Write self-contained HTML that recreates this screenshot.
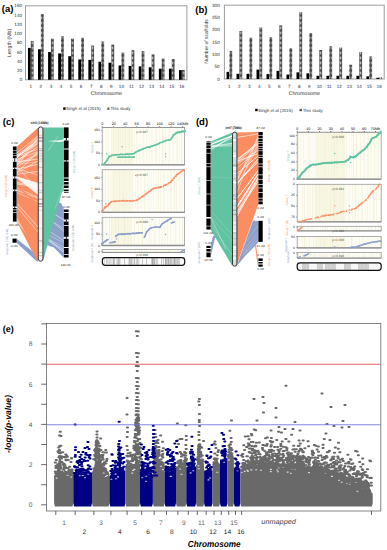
<!DOCTYPE html>
<html><head><meta charset="utf-8"><style>
html,body{margin:0;padding:0;background:#fff;width:387px;height:550px;overflow:hidden}
svg{display:block}
text{font-family:"Liberation Sans", sans-serif;text-rendering:geometricPrecision}
</style></head><body>
<svg width="387" height="550" viewBox="0 0 387 550">
<defs>
<pattern id="pat" patternUnits="userSpaceOnUse" width="2.85" height="5" x="0" y="0.6">
<rect width="2.85" height="5" fill="#484848"/>
<rect x="0.7" y="1.0" width="1.45" height="2.7" rx="0.6" fill="#cacaca"/>
</pattern>
</defs>
<rect width="387" height="550" fill="#fff"/>
<text x="7.6" y="9.2" font-size="9.5" fill="#000" text-anchor="middle" dominant-baseline="central" font-weight="bold">(a)</text>
<rect x="25.5" y="5.8" width="161.4" height="74" fill="none" stroke="#9c9c9c" stroke-width="1"/>
<rect x="27.95" y="47.89" width="2.85" height="31.91" fill="#000"/>
<rect x="30.8" y="40.95" width="2.85" height="38.85" fill="url(#pat)"/>
<text x="30.8" y="86.8" font-size="4.6" fill="#333" text-anchor="middle" dominant-baseline="central">1</text>
<rect x="38.02" y="49.27" width="2.85" height="30.53" fill="#000"/>
<rect x="40.87" y="14.12" width="2.85" height="65.67" fill="url(#pat)"/>
<text x="40.87" y="86.8" font-size="4.6" fill="#333" text-anchor="middle" dominant-baseline="central">2</text>
<rect x="48.09" y="52.05" width="2.85" height="27.75" fill="#000"/>
<rect x="50.94" y="38.64" width="2.85" height="41.16" fill="url(#pat)"/>
<text x="50.94" y="86.8" font-size="4.6" fill="#333" text-anchor="middle" dominant-baseline="central">3</text>
<rect x="58.16" y="53.44" width="2.85" height="26.36" fill="#000"/>
<rect x="61.01" y="36.32" width="2.85" height="43.48" fill="url(#pat)"/>
<text x="61.01" y="86.8" font-size="4.6" fill="#333" text-anchor="middle" dominant-baseline="central">4</text>
<rect x="68.23" y="56.21" width="2.85" height="23.59" fill="#000"/>
<rect x="71.08" y="38.64" width="2.85" height="41.16" fill="url(#pat)"/>
<text x="71.08" y="86.8" font-size="4.6" fill="#333" text-anchor="middle" dominant-baseline="central">5</text>
<rect x="78.3" y="59.45" width="2.85" height="20.35" fill="#000"/>
<rect x="81.15" y="37.71" width="2.85" height="42.09" fill="url(#pat)"/>
<text x="81.15" y="86.8" font-size="4.6" fill="#333" text-anchor="middle" dominant-baseline="central">6</text>
<rect x="88.37" y="59.91" width="2.85" height="19.89" fill="#000"/>
<rect x="91.22" y="45.57" width="2.85" height="34.23" fill="url(#pat)"/>
<text x="91.22" y="86.8" font-size="4.6" fill="#333" text-anchor="middle" dominant-baseline="central">7</text>
<rect x="98.44" y="61.76" width="2.85" height="18.04" fill="#000"/>
<rect x="101.29" y="41.41" width="2.85" height="38.39" fill="url(#pat)"/>
<text x="101.29" y="86.8" font-size="4.6" fill="#333" text-anchor="middle" dominant-baseline="central">8</text>
<rect x="108.51" y="62.69" width="2.85" height="17.11" fill="#000"/>
<rect x="111.36" y="44.65" width="2.85" height="35.15" fill="url(#pat)"/>
<text x="111.36" y="86.8" font-size="4.6" fill="#333" text-anchor="middle" dominant-baseline="central">9</text>
<rect x="118.58" y="65.46" width="2.85" height="14.34" fill="#000"/>
<rect x="121.43" y="52.51" width="2.85" height="27.29" fill="url(#pat)"/>
<text x="121.43" y="86.8" font-size="4.6" fill="#333" text-anchor="middle" dominant-baseline="central">10</text>
<rect x="128.65" y="65.92" width="2.85" height="13.88" fill="#000"/>
<rect x="131.5" y="50.2" width="2.85" height="29.6" fill="url(#pat)"/>
<text x="131.5" y="86.8" font-size="4.6" fill="#333" text-anchor="middle" dominant-baseline="central">11</text>
<rect x="138.72" y="66.39" width="2.85" height="13.41" fill="#000"/>
<rect x="141.57" y="51.12" width="2.85" height="28.67" fill="url(#pat)"/>
<text x="141.57" y="86.8" font-size="4.6" fill="#333" text-anchor="middle" dominant-baseline="central">12</text>
<rect x="148.79" y="67.31" width="2.85" height="12.49" fill="#000"/>
<rect x="151.64" y="54.36" width="2.85" height="25.44" fill="url(#pat)"/>
<text x="151.64" y="86.8" font-size="4.6" fill="#333" text-anchor="middle" dominant-baseline="central">13</text>
<rect x="158.86" y="68.7" width="2.85" height="11.1" fill="#000"/>
<rect x="161.71" y="58.52" width="2.85" height="21.28" fill="url(#pat)"/>
<text x="161.71" y="86.8" font-size="4.6" fill="#333" text-anchor="middle" dominant-baseline="central">14</text>
<rect x="168.93" y="68.7" width="2.85" height="11.1" fill="#000"/>
<rect x="171.78" y="58.99" width="2.85" height="20.81" fill="url(#pat)"/>
<text x="171.78" y="86.8" font-size="4.6" fill="#333" text-anchor="middle" dominant-baseline="central">15</text>
<rect x="179" y="70.09" width="2.85" height="9.71" fill="#000"/>
<rect x="181.85" y="70.09" width="2.85" height="9.71" fill="url(#pat)"/>
<text x="181.85" y="86.8" font-size="4.6" fill="#333" text-anchor="middle" dominant-baseline="central">16</text>
<text x="22" y="79.8" font-size="4.6" fill="#333" text-anchor="end" dominant-baseline="central">0</text>
<text x="22" y="70.55" font-size="4.6" fill="#333" text-anchor="end" dominant-baseline="central">20</text>
<text x="22" y="61.3" font-size="4.6" fill="#333" text-anchor="end" dominant-baseline="central">40</text>
<text x="22" y="52.05" font-size="4.6" fill="#333" text-anchor="end" dominant-baseline="central">60</text>
<text x="22" y="42.8" font-size="4.6" fill="#333" text-anchor="end" dominant-baseline="central">80</text>
<text x="22" y="33.55" font-size="4.6" fill="#333" text-anchor="end" dominant-baseline="central">100</text>
<text x="22" y="24.3" font-size="4.6" fill="#333" text-anchor="end" dominant-baseline="central">120</text>
<text x="22" y="15.05" font-size="4.6" fill="#333" text-anchor="end" dominant-baseline="central">140</text>
<text x="22" y="5.8" font-size="4.6" fill="#333" text-anchor="end" dominant-baseline="central">160</text>
<text x="9.6" y="43" font-size="5.3" fill="#333" text-anchor="middle" dominant-baseline="central" transform="rotate(-90 9.6 43)">Length (Mb)</text>
<text x="106.4" y="94.4" font-size="5.2" fill="#333" text-anchor="middle" dominant-baseline="central">Chromosome</text>
<rect x="63.2" y="107.4" width="2.4" height="2.4" fill="#000"/>
<text x="66" y="108.6" font-size="4.4" fill="#333" text-anchor="start" dominant-baseline="central">Singh et al (2015)</text>
<rect x="107.2" y="107.4" width="2.4" height="2.4" fill="url(#pat)"/>
<text x="110.4" y="108.6" font-size="4.4" fill="#333" text-anchor="start" dominant-baseline="central">This study</text>
<text x="201.4" y="10.6" font-size="9.5" fill="#000" text-anchor="middle" dominant-baseline="central" font-weight="bold">(b)</text>
<rect x="224.4" y="5.2" width="159.8" height="73.8" fill="none" stroke="#9c9c9c" stroke-width="1"/>
<rect x="226.55" y="71.87" width="2.85" height="7.13" fill="#000"/>
<rect x="229.4" y="50.96" width="2.85" height="28.04" fill="url(#pat)"/>
<text x="229.4" y="86" font-size="4.6" fill="#333" text-anchor="middle" dominant-baseline="central">1</text>
<rect x="236.54" y="73.83" width="2.85" height="5.17" fill="#000"/>
<rect x="239.39" y="31.03" width="2.85" height="47.97" fill="url(#pat)"/>
<text x="239.39" y="86" font-size="4.6" fill="#333" text-anchor="middle" dominant-baseline="central">2</text>
<rect x="246.53" y="73.83" width="2.85" height="5.17" fill="#000"/>
<rect x="249.38" y="37.67" width="2.85" height="41.33" fill="url(#pat)"/>
<text x="249.38" y="86" font-size="4.6" fill="#333" text-anchor="middle" dominant-baseline="central">3</text>
<rect x="256.52" y="69.65" width="2.85" height="9.35" fill="#000"/>
<rect x="259.37" y="27.34" width="2.85" height="51.66" fill="url(#pat)"/>
<text x="259.37" y="86" font-size="4.6" fill="#333" text-anchor="middle" dominant-baseline="central">4</text>
<rect x="266.51" y="74.08" width="2.85" height="4.92" fill="#000"/>
<rect x="269.36" y="37.18" width="2.85" height="41.82" fill="url(#pat)"/>
<text x="269.36" y="86" font-size="4.6" fill="#333" text-anchor="middle" dominant-baseline="central">5</text>
<rect x="276.5" y="70.88" width="2.85" height="8.12" fill="#000"/>
<rect x="279.35" y="25.37" width="2.85" height="53.63" fill="url(#pat)"/>
<text x="279.35" y="86" font-size="4.6" fill="#333" text-anchor="middle" dominant-baseline="central">6</text>
<rect x="286.49" y="74.57" width="2.85" height="4.43" fill="#000"/>
<rect x="289.34" y="48.25" width="2.85" height="30.75" fill="url(#pat)"/>
<text x="289.34" y="86" font-size="4.6" fill="#333" text-anchor="middle" dominant-baseline="central">7</text>
<rect x="296.48" y="72.36" width="2.85" height="6.64" fill="#000"/>
<rect x="299.33" y="12.09" width="2.85" height="66.91" fill="url(#pat)"/>
<text x="299.33" y="86" font-size="4.6" fill="#333" text-anchor="middle" dominant-baseline="central">8</text>
<rect x="306.47" y="73.34" width="2.85" height="5.66" fill="#000"/>
<rect x="309.32" y="33" width="2.85" height="46" fill="url(#pat)"/>
<text x="309.32" y="86" font-size="4.6" fill="#333" text-anchor="middle" dominant-baseline="central">9</text>
<rect x="316.46" y="75.8" width="2.85" height="3.2" fill="#000"/>
<rect x="319.31" y="49.97" width="2.85" height="29.03" fill="url(#pat)"/>
<text x="319.31" y="86" font-size="4.6" fill="#333" text-anchor="middle" dominant-baseline="central">10</text>
<rect x="326.45" y="75.8" width="2.85" height="3.2" fill="#000"/>
<rect x="329.3" y="46.28" width="2.85" height="32.72" fill="url(#pat)"/>
<text x="329.3" y="86" font-size="4.6" fill="#333" text-anchor="middle" dominant-baseline="central">11</text>
<rect x="336.44" y="75.8" width="2.85" height="3.2" fill="#000"/>
<rect x="339.29" y="47.51" width="2.85" height="31.49" fill="url(#pat)"/>
<text x="339.29" y="86" font-size="4.6" fill="#333" text-anchor="middle" dominant-baseline="central">12</text>
<rect x="346.43" y="75.8" width="2.85" height="3.2" fill="#000"/>
<rect x="349.28" y="64.73" width="2.85" height="14.27" fill="url(#pat)"/>
<text x="349.28" y="86" font-size="4.6" fill="#333" text-anchor="middle" dominant-baseline="central">13</text>
<rect x="356.42" y="75.8" width="2.85" height="3.2" fill="#000"/>
<rect x="359.27" y="51.94" width="2.85" height="27.06" fill="url(#pat)"/>
<text x="359.27" y="86" font-size="4.6" fill="#333" text-anchor="middle" dominant-baseline="central">14</text>
<rect x="366.41" y="76.29" width="2.85" height="2.71" fill="#000"/>
<rect x="369.26" y="56.37" width="2.85" height="22.63" fill="url(#pat)"/>
<text x="369.26" y="86" font-size="4.6" fill="#333" text-anchor="middle" dominant-baseline="central">15</text>
<rect x="376.4" y="77.77" width="2.85" height="1.23" fill="#000"/>
<rect x="379.25" y="77.28" width="2.85" height="1.72" fill="url(#pat)"/>
<text x="379.25" y="86" font-size="4.6" fill="#333" text-anchor="middle" dominant-baseline="central">16</text>
<text x="219.7" y="79" font-size="4.6" fill="#333" text-anchor="end" dominant-baseline="central">0</text>
<text x="219.7" y="66.7" font-size="4.6" fill="#333" text-anchor="end" dominant-baseline="central">50</text>
<text x="219.7" y="54.4" font-size="4.6" fill="#333" text-anchor="end" dominant-baseline="central">100</text>
<text x="219.7" y="42.1" font-size="4.6" fill="#333" text-anchor="end" dominant-baseline="central">150</text>
<text x="219.7" y="29.8" font-size="4.6" fill="#333" text-anchor="end" dominant-baseline="central">200</text>
<text x="219.7" y="17.5" font-size="4.6" fill="#333" text-anchor="end" dominant-baseline="central">250</text>
<text x="219.7" y="5.2" font-size="4.6" fill="#333" text-anchor="end" dominant-baseline="central">300</text>
<text x="206.5" y="41.5" font-size="5.0" fill="#333" text-anchor="middle" dominant-baseline="central" transform="rotate(-90 206.5 41.5)">Number of scaffolds</text>
<text x="304.3" y="93.5" font-size="5.2" fill="#333" text-anchor="middle" dominant-baseline="central">Chromosome</text>
<rect x="255.2" y="108.8" width="2.4" height="2.4" fill="#000"/>
<text x="258" y="110" font-size="4.4" fill="#333" text-anchor="start" dominant-baseline="central">Singh et al (2015)</text>
<rect x="299.5" y="108.8" width="2.4" height="2.4" fill="url(#pat)"/>
<text x="302.7" y="110" font-size="4.4" fill="#333" text-anchor="start" dominant-baseline="central">This study</text>
<text x="8.6" y="122.6" font-size="9.5" fill="#000" text-anchor="middle" dominant-baseline="central" font-weight="bold">(c)</text>
<text x="39.6" y="123.4" font-size="3.6" fill="#111" text-anchor="middle" dominant-baseline="central" font-weight="bold" textLength="17.5" lengthAdjust="spacingAndGlyphs">chr3 (140Mb)</text>
<polygon points="17,146.5 38.3,127.5 38.3,259.5 36.5,259.5 17,221.8" fill="#fc8d62"/>
<clipPath id="cp1"><polygon points="17,146.5 38.3,127.5 38.3,259.5 36.5,259.5 17,221.8"/></clipPath><g clip-path="url(#cp1)">
<line x1="17" y1="159.21" x2="38.3" y2="151.56" stroke="#fff" stroke-width="0.6" stroke-opacity="0.9"/>
<line x1="17" y1="182.45" x2="38.3" y2="186.4" stroke="#fff" stroke-width="0.67" stroke-opacity="0.9"/>
<line x1="17" y1="206.78" x2="38.3" y2="232.36" stroke="#fff" stroke-width="0.55" stroke-opacity="0.9"/>
<line x1="17" y1="164.47" x2="38.3" y2="152.49" stroke="#fff" stroke-width="0.5" stroke-opacity="0.9"/>
<line x1="17" y1="190.32" x2="38.3" y2="198.34" stroke="#fff" stroke-width="0.67" stroke-opacity="0.9"/>
<line x1="17" y1="164.19" x2="38.3" y2="154.75" stroke="#fff" stroke-width="0.37" stroke-opacity="0.9"/>
<line x1="17" y1="220.82" x2="38.3" y2="257" stroke="#fff" stroke-width="0.7" stroke-opacity="0.9"/>
<line x1="17" y1="192.58" x2="38.3" y2="201.86" stroke="#fff" stroke-width="0.48" stroke-opacity="0.9"/>
<line x1="17" y1="183.82" x2="38.3" y2="187.57" stroke="#fff" stroke-width="0.73" stroke-opacity="0.9"/>
<line x1="17" y1="174.27" x2="38.3" y2="171.39" stroke="#fff" stroke-width="0.68" stroke-opacity="0.9"/>
<line x1="17" y1="156.24" x2="38.3" y2="149.24" stroke="#fff" stroke-width="0.53" stroke-opacity="0.9"/>
<line x1="17" y1="187.85" x2="38.3" y2="197.32" stroke="#fff" stroke-width="0.54" stroke-opacity="0.9"/>
<line x1="17" y1="160.83" x2="38.3" y2="146.56" stroke="#fff" stroke-width="0.7" stroke-opacity="0.9"/>
<line x1="17" y1="164.38" x2="38.3" y2="161.66" stroke="#fff" stroke-width="0.43" stroke-opacity="0.9"/>
<line x1="17" y1="218.69" x2="38.3" y2="257" stroke="#fff" stroke-width="0.65" stroke-opacity="0.9"/>
<line x1="17" y1="203.45" x2="38.3" y2="227.37" stroke="#fff" stroke-width="0.64" stroke-opacity="0.9"/>
<line x1="17" y1="156.06" x2="38.3" y2="143.52" stroke="#fff" stroke-width="0.68" stroke-opacity="0.9"/>
<line x1="17" y1="161.88" x2="38.3" y2="159.02" stroke="#fff" stroke-width="0.71" stroke-opacity="0.9"/>
<line x1="17" y1="167.1" x2="38.3" y2="153.18" stroke="#fff" stroke-width="0.55"/>
<line x1="17" y1="166.86" x2="38.3" y2="189.7" stroke="#fff" stroke-width="0.52"/>
<line x1="17" y1="163.27" x2="38.3" y2="137.41" stroke="#fff" stroke-width="0.67"/>
<line x1="17" y1="172.93" x2="38.3" y2="160.77" stroke="#fff" stroke-width="0.57"/>
<line x1="17" y1="168.5" x2="38.3" y2="175.39" stroke="#fff" stroke-width="0.45"/>
<line x1="17" y1="169.09" x2="38.3" y2="164.28" stroke="#fff" stroke-width="0.63"/>
<line x1="17" y1="164.81" x2="38.3" y2="141.87" stroke="#fff" stroke-width="0.51"/>
<line x1="17" y1="172.27" x2="38.3" y2="152.1" stroke="#fff" stroke-width="0.62"/>
<line x1="17" y1="166.07" x2="38.3" y2="137.99" stroke="#fff" stroke-width="0.38"/>
<line x1="17" y1="156.14" x2="38.3" y2="142.21" stroke="#fff" stroke-width="0.48"/>
<line x1="17" y1="154.83" x2="38.3" y2="140.49" stroke="#fff" stroke-width="0.66"/>
<line x1="17" y1="157.58" x2="38.3" y2="135.92" stroke="#fff" stroke-width="0.7"/>
<line x1="17" y1="157.61" x2="38.3" y2="139.04" stroke="#fff" stroke-width="0.66"/>
<line x1="17" y1="152.91" x2="38.3" y2="135.38" stroke="#fff" stroke-width="0.44"/>
<polygon points="17,176.5 38.3,183 38.3,195 17,178.3" fill="#fff" fill-opacity="0.9"/>
<line x1="17" y1="186" x2="38.3" y2="205" stroke="#fc8d62" stroke-width="1.2"/>
</g>
<polygon points="16.5,238.8 31,250 37.5,256.5 38.3,259 37.5,262 16.5,242.8" fill="#8da0cb"/>
<polygon points="17,221.8 36.5,259.5 38.3,259.5 38.3,250" fill="#fc8d62"/>
<polygon points="42.9,196 61.5,203.5 64,209.5 64,258 59,252.8 53.6,247.3 48.9,246 42.9,244" fill="#8da0cb"/>
<clipPath id="cp2"><polygon points="42.9,196 61.5,203.5 64,209.5 64,258 59,252.8 53.6,247.3 48.9,246 42.9,244"/></clipPath><g clip-path="url(#cp2)">
<line x1="44" y1="238.29" x2="64" y2="249.43" stroke="#fff" stroke-width="0.32" stroke-opacity="0.9"/>
<line x1="44" y1="235.6" x2="64" y2="251.02" stroke="#fff" stroke-width="0.47" stroke-opacity="0.9"/>
<line x1="44" y1="236.81" x2="64" y2="247.17" stroke="#fff" stroke-width="0.39" stroke-opacity="0.9"/>
<line x1="44" y1="216.02" x2="64" y2="228.95" stroke="#fff" stroke-width="0.36" stroke-opacity="0.9"/>
<line x1="44" y1="207.64" x2="64" y2="220.01" stroke="#fff" stroke-width="0.61" stroke-opacity="0.9"/>
<line x1="44" y1="242.37" x2="64" y2="257.59" stroke="#fff" stroke-width="0.47" stroke-opacity="0.9"/>
<line x1="44" y1="214.58" x2="64" y2="231.3" stroke="#fff" stroke-width="0.48" stroke-opacity="0.9"/>
<line x1="44" y1="232.69" x2="64" y2="242.89" stroke="#fff" stroke-width="0.37" stroke-opacity="0.9"/>
<line x1="44" y1="236.85" x2="64" y2="252.42" stroke="#fff" stroke-width="0.61" stroke-opacity="0.9"/>
<line x1="44" y1="227.85" x2="64" y2="240.83" stroke="#fff" stroke-width="0.5" stroke-opacity="0.9"/>
</g>
<polygon points="42.9,127.5 64,127.4 64,191 62,192 43.5,259.5 42.5,261" fill="#60c3a1"/>
<line x1="48" y1="151" x2="58" y2="136" stroke="#fff" stroke-width="0.4" stroke-opacity="0.7"/>
<path d="M47,141 L60,140.3 L64,139.2 L64,141.2 L60,142 Z" fill="#fff" fill-opacity="0.9"/>
<line x1="55" y1="209" x2="63.5" y2="185" stroke="#fff" stroke-width="0.35" stroke-opacity="0.7"/>
<rect x="38.3" y="126.9" width="4.6" height="134.3" rx="2.3" ry="2.3" fill="#f4f4f4"/>
<rect x="38.6" y="135.27" width="4" height="0.54" fill="#b8b8b8"/>
<rect x="38.6" y="136.95" width="4" height="1.67" fill="#a8a8a8"/>
<rect x="38.6" y="140.05" width="4" height="0.99" fill="#b8b8b8"/>
<rect x="38.6" y="141.36" width="4" height="0.78" fill="#a8a8a8"/>
<rect x="38.6" y="142.65" width="4" height="1.54" fill="#ffffff"/>
<rect x="38.6" y="148.07" width="4" height="0.72" fill="#b8b8b8"/>
<rect x="38.6" y="149.78" width="4" height="1.38" fill="#b8b8b8"/>
<rect x="38.6" y="152.72" width="4" height="1.66" fill="#d8d8d8"/>
<rect x="38.6" y="155.22" width="4" height="1.72" fill="#d8d8d8"/>
<rect x="38.6" y="157.63" width="4" height="1.28" fill="#d8d8d8"/>
<rect x="38.6" y="159.3" width="4" height="0.96" fill="#d8d8d8"/>
<rect x="38.6" y="160.8" width="4" height="1.11" fill="#d8d8d8"/>
<rect x="38.6" y="166.71" width="4" height="1.25" fill="#c8c8c8"/>
<rect x="38.6" y="174.46" width="4" height="1.1" fill="#d8d8d8"/>
<rect x="38.6" y="182.33" width="4" height="0.91" fill="#b8b8b8"/>
<rect x="38.6" y="189.75" width="4" height="1.46" fill="#d8d8d8"/>
<rect x="38.6" y="192.11" width="4" height="1.05" fill="#c8c8c8"/>
<rect x="38.6" y="194.5" width="4" height="0.93" fill="#ffffff"/>
<rect x="38.6" y="198.73" width="4" height="1.06" fill="#a8a8a8"/>
<rect x="38.6" y="202.97" width="4" height="1.77" fill="#a8a8a8"/>
<rect x="38.6" y="205.94" width="4" height="0.91" fill="#a8a8a8"/>
<rect x="38.6" y="207.67" width="4" height="0.69" fill="#ffffff"/>
<rect x="38.6" y="209.91" width="4" height="1.32" fill="#d8d8d8"/>
<rect x="38.6" y="211.76" width="4" height="1.14" fill="#ffffff"/>
<rect x="38.6" y="225.29" width="4" height="1.25" fill="#ffffff"/>
<rect x="38.6" y="227.85" width="4" height="0.92" fill="#d8d8d8"/>
<rect x="38.6" y="240.27" width="4" height="1.17" fill="#b8b8b8"/>
<rect x="38.6" y="247.35" width="4" height="1.72" fill="#ffffff"/>
<rect x="38.6" y="252.04" width="4" height="0.71" fill="#b8b8b8"/>
<rect x="38.6" y="255.08" width="4" height="1.11" fill="#c8c8c8"/>
<rect x="38.3" y="126.9" width="4.6" height="134.3" rx="2.3" ry="2.3" fill="none" stroke="#1a1a1a" stroke-width="0.85"/>
<rect x="12.9" y="146.5" width="3.7" height="75.1" fill="#000"/>
<rect x="12.6" y="150" width="4.3" height="0.5" fill="#fff"/>
<rect x="12.6" y="152.9" width="4.3" height="0.5" fill="#fff"/>
<rect x="12.6" y="155.1" width="4.3" height="0.5" fill="#fff"/>
<rect x="12.6" y="158.2" width="4.3" height="3.6" fill="#fff"/>
<rect x="12.6" y="167.6" width="4.3" height="1.4" fill="#fff"/>
<rect x="12.6" y="176.4" width="4.3" height="2.1" fill="#fff"/>
<rect x="12.6" y="189.5" width="4.3" height="1.7" fill="#fff"/>
<rect x="12.6" y="206.5" width="4.3" height="1.5" fill="#fff"/>
<rect x="12.6" y="209.5" width="4.3" height="0.7" fill="#fff"/>
<rect x="12.6" y="212.4" width="4.3" height="0.6" fill="#fff"/>
<rect x="14.3" y="158.2" width="0.9" height="3.6" fill="#000"/>
<rect x="14.3" y="167.6" width="0.9" height="1.4" fill="#000"/>
<rect x="14.3" y="176.4" width="0.9" height="2.1" fill="#000"/>
<rect x="14.3" y="189.5" width="0.9" height="1.7" fill="#000"/>
<rect x="14.3" y="206.5" width="0.9" height="1.5" fill="#000"/>
<rect x="12.5" y="238.6" width="4.1" height="4.1" fill="#000"/>
<rect x="64" y="127.4" width="4.6" height="65.3" fill="#000"/>
<rect x="63.7" y="138" width="5.2" height="2.5" fill="#fff"/>
<rect x="63.7" y="148.5" width="5.2" height="1" fill="#fff"/>
<rect x="63.7" y="160.3" width="5.2" height="1.2" fill="#fff"/>
<rect x="63.7" y="177.5" width="5.2" height="1" fill="#fff"/>
<rect x="63.7" y="181" width="5.2" height="1" fill="#fff"/>
<rect x="63.7" y="184.5" width="5.2" height="1" fill="#fff"/>
<rect x="63.7" y="188" width="5.2" height="1.5" fill="#fff"/>
<rect x="63.7" y="191" width="5.2" height="0.8" fill="#fff"/>
<rect x="65.8" y="160.3" width="1" height="1.2" fill="#000"/>
<rect x="65.8" y="138" width="1" height="2.5" fill="#000"/>
<rect x="64" y="209.5" width="4.6" height="48" fill="#000"/>
<rect x="63.7" y="212" width="5.2" height="1" fill="#fff"/>
<rect x="63.7" y="219.5" width="5.2" height="2" fill="#fff"/>
<rect x="63.7" y="225.2" width="5.2" height="0.8" fill="#fff"/>
<rect x="63.7" y="236.8" width="5.2" height="2" fill="#fff"/>
<rect x="63.7" y="247" width="5.2" height="1" fill="#fff"/>
<rect x="63.7" y="254.2" width="5.2" height="0.8" fill="#fff"/>
<rect x="65.8" y="219.5" width="1" height="2" fill="#000"/>
<rect x="65.8" y="236.8" width="1" height="2" fill="#000"/>
<text x="14.6" y="143" font-size="3.0" fill="#222" text-anchor="middle" dominant-baseline="central">0 cM</text>
<text x="13.6" y="224.7" font-size="3.0" fill="#222" text-anchor="middle" dominant-baseline="central">100 cM</text>
<text x="14.3" y="235" font-size="3.0" fill="#222" text-anchor="middle" dominant-baseline="central">0 cM</text>
<text x="14.3" y="246.4" font-size="3.0" fill="#222" text-anchor="middle" dominant-baseline="central">0 cM</text>
<text x="65.7" y="123.8" font-size="3.0" fill="#222" text-anchor="middle" dominant-baseline="central">0 cM</text>
<text x="66.2" y="197.2" font-size="3.0" fill="#222" text-anchor="middle" dominant-baseline="central">87 cM</text>
<text x="66.2" y="206.5" font-size="3.0" fill="#222" text-anchor="middle" dominant-baseline="central">0 cM</text>
<text x="65.7" y="264.6" font-size="3.0" fill="#222" text-anchor="middle" dominant-baseline="central">124 cM</text>
<text x="6.4" y="186" font-size="3.0" fill="#fc8d62" text-anchor="middle" dominant-baseline="central" transform="rotate(-90 6.4 186)">Group 3 (B) (cM)</text>
<text x="6.6" y="242" font-size="3.0" fill="#8da0cb" text-anchor="middle" dominant-baseline="central" transform="rotate(-90 6.6 242)">Sorghum 2 (B) (cM)</text>
<text x="73.8" y="162" font-size="3.0" fill="#60c3a1" text-anchor="middle" dominant-baseline="central" transform="rotate(-90 73.8 162)">Group 1 (B) (cM)</text>
<text x="73.2" y="238" font-size="3.0" fill="#8da0cb" text-anchor="middle" dominant-baseline="central" transform="rotate(-90 73.2 238)">Sorghum 2 (B) (cM)</text>
<text x="92" y="147.5" font-size="3.0" fill="#60c3a1" text-anchor="middle" dominant-baseline="central" transform="rotate(-90 92 147.5)">Group 1</text>
<text x="92" y="193" font-size="3.0" fill="#fc8d62" text-anchor="middle" dominant-baseline="central" transform="rotate(-90 92 193)">Group 3</text>
<text x="92" y="232.5" font-size="3.0" fill="#8da0cb" text-anchor="middle" dominant-baseline="central" transform="rotate(-90 92 232.5)">Sorghum 2</text>
<text x="92" y="253" font-size="3.0" fill="#8da0cb" text-anchor="middle" dominant-baseline="central" transform="rotate(-90 92 253)">Sorghum 2 (B)</text>
<line x1="102.2" y1="127.6" x2="184.6" y2="127.6" stroke="#111" stroke-width="1.0"/>
<line x1="102.2" y1="126.3" x2="102.2" y2="127.6" stroke="#111" stroke-width="0.6"/>
<text x="102.2" y="124.2" font-size="3.7" fill="#000" text-anchor="middle" dominant-baseline="central">0</text>
<line x1="113.69" y1="126.3" x2="113.69" y2="127.6" stroke="#111" stroke-width="0.6"/>
<text x="113.69" y="124.2" font-size="3.7" fill="#000" text-anchor="middle" dominant-baseline="central">20</text>
<line x1="125.17" y1="126.3" x2="125.17" y2="127.6" stroke="#111" stroke-width="0.6"/>
<text x="125.17" y="124.2" font-size="3.7" fill="#000" text-anchor="middle" dominant-baseline="central">40</text>
<line x1="136.66" y1="126.3" x2="136.66" y2="127.6" stroke="#111" stroke-width="0.6"/>
<text x="136.66" y="124.2" font-size="3.7" fill="#000" text-anchor="middle" dominant-baseline="central">60</text>
<line x1="148.14" y1="126.3" x2="148.14" y2="127.6" stroke="#111" stroke-width="0.6"/>
<text x="148.14" y="124.2" font-size="3.7" fill="#000" text-anchor="middle" dominant-baseline="central">80</text>
<line x1="159.63" y1="126.3" x2="159.63" y2="127.6" stroke="#111" stroke-width="0.6"/>
<text x="159.63" y="124.2" font-size="3.7" fill="#000" text-anchor="middle" dominant-baseline="central">100</text>
<line x1="171.11" y1="126.3" x2="171.11" y2="127.6" stroke="#111" stroke-width="0.6"/>
<text x="171.11" y="124.2" font-size="3.7" fill="#000" text-anchor="middle" dominant-baseline="central">120</text>
<line x1="182.6" y1="126.3" x2="182.6" y2="127.6" stroke="#111" stroke-width="0.6"/>
<text x="182.6" y="124.2" font-size="3.7" fill="#000" text-anchor="middle" dominant-baseline="central">140Mb</text>
<rect x="102.2" y="127.6" width="82.4" height="37.2" fill="#fdfdf6"/>
<rect x="111.8" y="127.6" width="20.2" height="37.2" fill="#f8f7e4"/>
<rect x="103.2" y="127.6" width="0.31" height="37.2" fill="#f1efd2"/>
<rect x="106.46" y="127.6" width="0.37" height="37.2" fill="#f1efd2"/>
<rect x="108.35" y="127.6" width="0.36" height="37.2" fill="#f1efd2"/>
<rect x="111.55" y="127.6" width="0.37" height="37.2" fill="#ecead0"/>
<rect x="113.19" y="127.6" width="0.33" height="37.2" fill="#f1efd2"/>
<rect x="115.95" y="127.6" width="0.52" height="37.2" fill="#f5f3dc"/>
<rect x="118.15" y="127.6" width="0.6" height="37.2" fill="#f1efd2"/>
<rect x="119.99" y="127.6" width="0.77" height="37.2" fill="#f5f3dc"/>
<rect x="122.75" y="127.6" width="0.4" height="37.2" fill="#f5f3dc"/>
<rect x="125.19" y="127.6" width="0.78" height="37.2" fill="#f1efd2"/>
<rect x="128.83" y="127.6" width="0.51" height="37.2" fill="#ecead0"/>
<rect x="131.8" y="127.6" width="0.78" height="37.2" fill="#f1efd2"/>
<rect x="134.59" y="127.6" width="0.4" height="37.2" fill="#f5f3dc"/>
<rect x="136.27" y="127.6" width="0.67" height="37.2" fill="#f5f3dc"/>
<rect x="139.63" y="127.6" width="0.41" height="37.2" fill="#f5f3dc"/>
<rect x="142.92" y="127.6" width="0.4" height="37.2" fill="#ecead0"/>
<rect x="146.4" y="127.6" width="0.54" height="37.2" fill="#f5f3dc"/>
<rect x="148.91" y="127.6" width="0.47" height="37.2" fill="#f5f3dc"/>
<rect x="151.69" y="127.6" width="0.63" height="37.2" fill="#f5f3dc"/>
<rect x="155.72" y="127.6" width="0.79" height="37.2" fill="#f1efd2"/>
<rect x="159.53" y="127.6" width="0.45" height="37.2" fill="#f1efd2"/>
<rect x="162.47" y="127.6" width="0.77" height="37.2" fill="#ecead0"/>
<rect x="165.12" y="127.6" width="0.39" height="37.2" fill="#f1efd2"/>
<rect x="168.82" y="127.6" width="0.6" height="37.2" fill="#ecead0"/>
<rect x="172.82" y="127.6" width="0.63" height="37.2" fill="#f5f3dc"/>
<rect x="176.75" y="127.6" width="0.62" height="37.2" fill="#f1efd2"/>
<rect x="178.84" y="127.6" width="0.4" height="37.2" fill="#f5f3dc"/>
<rect x="181.46" y="127.6" width="0.69" height="37.2" fill="#ecead0"/>
<rect x="102.2" y="127.6" width="82.4" height="37.2" fill="none" stroke="#9a9a9a" stroke-width="0.8"/>
<line x1="102.2" y1="164.8" x2="184.6" y2="164.8" stroke="#8c8c8c" stroke-width="1.3"/>
<text x="99.8" y="164.8" font-size="3.4" fill="#111" text-anchor="end" dominant-baseline="central">0</text>
<line x1="101.1" y1="164.8" x2="102.2" y2="164.8" stroke="#333" stroke-width="0.4"/>
<text x="99.8" y="153.33" font-size="3.4" fill="#111" text-anchor="end" dominant-baseline="central">50</text>
<line x1="101.1" y1="153.33" x2="102.2" y2="153.33" stroke="#333" stroke-width="0.4"/>
<text x="99.8" y="141.87" font-size="3.4" fill="#111" text-anchor="end" dominant-baseline="central">100</text>
<line x1="101.1" y1="141.87" x2="102.2" y2="141.87" stroke="#333" stroke-width="0.4"/>
<text x="99.8" y="130.4" font-size="3.4" fill="#111" text-anchor="end" dominant-baseline="central">150</text>
<line x1="101.1" y1="130.4" x2="102.2" y2="130.4" stroke="#333" stroke-width="0.4"/>
<text x="142.2" y="131.7" font-size="3.2" fill="#555" text-anchor="middle" dominant-baseline="central">ρ=0.987</text>
<circle cx="101.72" cy="164.41" r="0.75" fill="#60c3a1"/>
<circle cx="102.05" cy="164.76" r="0.75" fill="#60c3a1"/>
<circle cx="102.82" cy="164.47" r="0.75" fill="#60c3a1"/>
<circle cx="103.28" cy="164.13" r="0.75" fill="#60c3a1"/>
<circle cx="103.88" cy="164.14" r="0.75" fill="#60c3a1"/>
<circle cx="104.4" cy="164.07" r="0.75" fill="#60c3a1"/>
<circle cx="104.81" cy="163.62" r="0.75" fill="#60c3a1"/>
<circle cx="104.61" cy="163.01" r="0.75" fill="#60c3a1"/>
<circle cx="105.29" cy="162.61" r="0.75" fill="#60c3a1"/>
<circle cx="105.53" cy="162.52" r="0.75" fill="#60c3a1"/>
<circle cx="105.4" cy="162.23" r="0.75" fill="#60c3a1"/>
<circle cx="105.66" cy="161.87" r="0.75" fill="#60c3a1"/>
<circle cx="106.51" cy="161.01" r="0.75" fill="#60c3a1"/>
<circle cx="106.72" cy="160.96" r="0.75" fill="#60c3a1"/>
<circle cx="106.57" cy="160.51" r="0.75" fill="#60c3a1"/>
<circle cx="106.84" cy="160.26" r="0.75" fill="#60c3a1"/>
<circle cx="107.51" cy="159.89" r="0.75" fill="#60c3a1"/>
<circle cx="107.34" cy="159.01" r="0.75" fill="#60c3a1"/>
<circle cx="108" cy="158.79" r="0.75" fill="#60c3a1"/>
<circle cx="107.97" cy="158.57" r="0.75" fill="#60c3a1"/>
<circle cx="108.7" cy="157.74" r="0.75" fill="#60c3a1"/>
<circle cx="108.48" cy="157.58" r="0.75" fill="#60c3a1"/>
<circle cx="108.99" cy="157.21" r="0.75" fill="#60c3a1"/>
<circle cx="109.46" cy="156.74" r="0.75" fill="#60c3a1"/>
<circle cx="109.54" cy="156.28" r="0.75" fill="#60c3a1"/>
<circle cx="110.26" cy="156.41" r="0.75" fill="#60c3a1"/>
<circle cx="110.65" cy="156.15" r="0.75" fill="#60c3a1"/>
<circle cx="111.14" cy="155.96" r="0.75" fill="#60c3a1"/>
<circle cx="111.69" cy="155.42" r="0.75" fill="#60c3a1"/>
<circle cx="111.81" cy="155.09" r="0.75" fill="#60c3a1"/>
<circle cx="112.21" cy="155.5" r="0.75" fill="#60c3a1"/>
<circle cx="113.27" cy="155.27" r="0.75" fill="#60c3a1"/>
<circle cx="113.22" cy="155.1" r="0.75" fill="#60c3a1"/>
<circle cx="113.72" cy="155.21" r="0.75" fill="#60c3a1"/>
<circle cx="114.59" cy="155.07" r="0.75" fill="#60c3a1"/>
<circle cx="115.05" cy="154.79" r="0.75" fill="#60c3a1"/>
<circle cx="115.72" cy="155.13" r="0.75" fill="#60c3a1"/>
<circle cx="115.79" cy="154.72" r="0.75" fill="#60c3a1"/>
<circle cx="116.63" cy="154.84" r="0.75" fill="#60c3a1"/>
<circle cx="116.9" cy="154.64" r="0.75" fill="#60c3a1"/>
<circle cx="117.78" cy="154.47" r="0.75" fill="#60c3a1"/>
<circle cx="117.75" cy="154.72" r="0.75" fill="#60c3a1"/>
<circle cx="118.29" cy="154.85" r="0.75" fill="#60c3a1"/>
<circle cx="118.82" cy="154.85" r="0.75" fill="#60c3a1"/>
<circle cx="119.36" cy="154.8" r="0.75" fill="#60c3a1"/>
<circle cx="120.12" cy="154.67" r="0.75" fill="#60c3a1"/>
<circle cx="120.24" cy="154.25" r="0.75" fill="#60c3a1"/>
<circle cx="120.61" cy="154.23" r="0.75" fill="#60c3a1"/>
<circle cx="121.55" cy="154.13" r="0.75" fill="#60c3a1"/>
<circle cx="121.74" cy="154.46" r="0.75" fill="#60c3a1"/>
<circle cx="122.18" cy="154.27" r="0.75" fill="#60c3a1"/>
<circle cx="122.73" cy="154.49" r="0.75" fill="#60c3a1"/>
<circle cx="123.15" cy="154.69" r="0.75" fill="#60c3a1"/>
<circle cx="123.99" cy="154.47" r="0.75" fill="#60c3a1"/>
<circle cx="124.45" cy="154.3" r="0.75" fill="#60c3a1"/>
<circle cx="125.24" cy="154.55" r="0.75" fill="#60c3a1"/>
<circle cx="125.63" cy="153.93" r="0.75" fill="#60c3a1"/>
<circle cx="125.97" cy="154.54" r="0.75" fill="#60c3a1"/>
<circle cx="126.5" cy="154.22" r="0.75" fill="#60c3a1"/>
<circle cx="127.01" cy="153.96" r="0.75" fill="#60c3a1"/>
<circle cx="127.56" cy="154.37" r="0.75" fill="#60c3a1"/>
<circle cx="127.59" cy="154.15" r="0.75" fill="#60c3a1"/>
<circle cx="128.46" cy="154.02" r="0.75" fill="#60c3a1"/>
<circle cx="129.02" cy="154.39" r="0.75" fill="#60c3a1"/>
<circle cx="129.67" cy="153.94" r="0.75" fill="#60c3a1"/>
<circle cx="129.64" cy="154.3" r="0.75" fill="#60c3a1"/>
<circle cx="130.46" cy="154.26" r="0.75" fill="#60c3a1"/>
<circle cx="131.14" cy="153.86" r="0.75" fill="#60c3a1"/>
<circle cx="131.44" cy="153.85" r="0.75" fill="#60c3a1"/>
<circle cx="132.08" cy="154.1" r="0.75" fill="#60c3a1"/>
<circle cx="132.19" cy="153.94" r="0.75" fill="#60c3a1"/>
<circle cx="132.93" cy="153.73" r="0.75" fill="#60c3a1"/>
<circle cx="133.13" cy="153.84" r="0.75" fill="#60c3a1"/>
<circle cx="133.44" cy="153.55" r="0.75" fill="#60c3a1"/>
<circle cx="134.44" cy="153.48" r="0.75" fill="#60c3a1"/>
<circle cx="134.21" cy="153.17" r="0.75" fill="#60c3a1"/>
<circle cx="135.07" cy="152.78" r="0.75" fill="#60c3a1"/>
<circle cx="134.98" cy="152.51" r="0.75" fill="#60c3a1"/>
<circle cx="135.51" cy="152.26" r="0.75" fill="#60c3a1"/>
<circle cx="136.05" cy="151.76" r="0.75" fill="#60c3a1"/>
<circle cx="136.4" cy="151.91" r="0.75" fill="#60c3a1"/>
<circle cx="136.89" cy="151.72" r="0.75" fill="#60c3a1"/>
<circle cx="137.56" cy="151.01" r="0.75" fill="#60c3a1"/>
<circle cx="138.11" cy="151.08" r="0.75" fill="#60c3a1"/>
<circle cx="138.13" cy="151.09" r="0.75" fill="#60c3a1"/>
<circle cx="138.76" cy="150.33" r="0.75" fill="#60c3a1"/>
<circle cx="139.56" cy="150.63" r="0.75" fill="#60c3a1"/>
<circle cx="139.75" cy="150.05" r="0.75" fill="#60c3a1"/>
<circle cx="140.31" cy="150.14" r="0.75" fill="#60c3a1"/>
<circle cx="140.88" cy="149.87" r="0.75" fill="#60c3a1"/>
<circle cx="141.25" cy="149.84" r="0.75" fill="#60c3a1"/>
<circle cx="141.44" cy="149.26" r="0.75" fill="#60c3a1"/>
<circle cx="142.1" cy="149.46" r="0.75" fill="#60c3a1"/>
<circle cx="142.78" cy="149.34" r="0.75" fill="#60c3a1"/>
<circle cx="142.99" cy="149.04" r="0.75" fill="#60c3a1"/>
<circle cx="143.21" cy="148.62" r="0.75" fill="#60c3a1"/>
<circle cx="143.64" cy="148.73" r="0.75" fill="#60c3a1"/>
<circle cx="144.75" cy="148.42" r="0.75" fill="#60c3a1"/>
<circle cx="145.05" cy="148.07" r="0.75" fill="#60c3a1"/>
<circle cx="145.56" cy="147.73" r="0.75" fill="#60c3a1"/>
<circle cx="145.74" cy="147.77" r="0.75" fill="#60c3a1"/>
<circle cx="146.56" cy="147.51" r="0.75" fill="#60c3a1"/>
<circle cx="146.55" cy="147.31" r="0.75" fill="#60c3a1"/>
<circle cx="147.5" cy="147.33" r="0.75" fill="#60c3a1"/>
<circle cx="148.02" cy="147.18" r="0.75" fill="#60c3a1"/>
<circle cx="148.45" cy="146.96" r="0.75" fill="#60c3a1"/>
<circle cx="148.98" cy="147.37" r="0.75" fill="#60c3a1"/>
<circle cx="149.44" cy="147.03" r="0.75" fill="#60c3a1"/>
<circle cx="149.93" cy="147.04" r="0.75" fill="#60c3a1"/>
<circle cx="150.45" cy="146.45" r="0.75" fill="#60c3a1"/>
<circle cx="150.85" cy="146.67" r="0.75" fill="#60c3a1"/>
<circle cx="150.98" cy="146.1" r="0.75" fill="#60c3a1"/>
<circle cx="151.84" cy="146.17" r="0.75" fill="#60c3a1"/>
<circle cx="152.06" cy="146.32" r="0.75" fill="#60c3a1"/>
<circle cx="152.5" cy="145.74" r="0.75" fill="#60c3a1"/>
<circle cx="153.12" cy="145.79" r="0.75" fill="#60c3a1"/>
<circle cx="153.31" cy="145.76" r="0.75" fill="#60c3a1"/>
<circle cx="154.23" cy="145.31" r="0.75" fill="#60c3a1"/>
<circle cx="154.64" cy="145.52" r="0.75" fill="#60c3a1"/>
<circle cx="154.92" cy="144.99" r="0.75" fill="#60c3a1"/>
<circle cx="155.5" cy="144.91" r="0.75" fill="#60c3a1"/>
<circle cx="155.67" cy="145.14" r="0.75" fill="#60c3a1"/>
<circle cx="156.14" cy="144.4" r="0.75" fill="#60c3a1"/>
<circle cx="156.99" cy="144.82" r="0.75" fill="#60c3a1"/>
<circle cx="157.07" cy="144.2" r="0.75" fill="#60c3a1"/>
<circle cx="157.69" cy="144.24" r="0.75" fill="#60c3a1"/>
<circle cx="157.77" cy="143.96" r="0.75" fill="#60c3a1"/>
<circle cx="158.38" cy="143.95" r="0.75" fill="#60c3a1"/>
<circle cx="158.96" cy="143.76" r="0.75" fill="#60c3a1"/>
<circle cx="159.43" cy="143.35" r="0.75" fill="#60c3a1"/>
<circle cx="159.6" cy="142.83" r="0.75" fill="#60c3a1"/>
<circle cx="160.23" cy="142.74" r="0.75" fill="#60c3a1"/>
<circle cx="160.6" cy="142.57" r="0.75" fill="#60c3a1"/>
<circle cx="160.99" cy="142.46" r="0.75" fill="#60c3a1"/>
<circle cx="162.06" cy="142.46" r="0.75" fill="#60c3a1"/>
<circle cx="162.27" cy="142.34" r="0.75" fill="#60c3a1"/>
<circle cx="162.8" cy="141.89" r="0.75" fill="#60c3a1"/>
<circle cx="163.06" cy="141.3" r="0.75" fill="#60c3a1"/>
<circle cx="163.82" cy="141.67" r="0.75" fill="#60c3a1"/>
<circle cx="164.21" cy="141.31" r="0.75" fill="#60c3a1"/>
<circle cx="164.67" cy="141.31" r="0.75" fill="#60c3a1"/>
<circle cx="165.27" cy="141.06" r="0.75" fill="#60c3a1"/>
<circle cx="165.09" cy="141.07" r="0.75" fill="#60c3a1"/>
<circle cx="165.96" cy="140.61" r="0.75" fill="#60c3a1"/>
<circle cx="166.34" cy="140.36" r="0.75" fill="#60c3a1"/>
<circle cx="166.55" cy="140.49" r="0.75" fill="#60c3a1"/>
<circle cx="167.44" cy="140" r="0.75" fill="#60c3a1"/>
<circle cx="168.14" cy="140.46" r="0.75" fill="#60c3a1"/>
<circle cx="168.58" cy="140.09" r="0.75" fill="#60c3a1"/>
<circle cx="168.73" cy="139.93" r="0.75" fill="#60c3a1"/>
<circle cx="169.21" cy="140.15" r="0.75" fill="#60c3a1"/>
<circle cx="170.07" cy="139.99" r="0.75" fill="#60c3a1"/>
<circle cx="170.28" cy="139.61" r="0.75" fill="#60c3a1"/>
<circle cx="170.88" cy="139.34" r="0.75" fill="#60c3a1"/>
<circle cx="170.94" cy="139.62" r="0.75" fill="#60c3a1"/>
<circle cx="171.22" cy="138.67" r="0.75" fill="#60c3a1"/>
<circle cx="171.6" cy="138.1" r="0.75" fill="#60c3a1"/>
<circle cx="171.85" cy="137.7" r="0.75" fill="#60c3a1"/>
<circle cx="172.28" cy="137.2" r="0.75" fill="#60c3a1"/>
<circle cx="172.49" cy="136.89" r="0.75" fill="#60c3a1"/>
<circle cx="172.7" cy="136.82" r="0.75" fill="#60c3a1"/>
<circle cx="173.04" cy="135.93" r="0.75" fill="#60c3a1"/>
<circle cx="173.28" cy="135.47" r="0.75" fill="#60c3a1"/>
<circle cx="173.06" cy="134.93" r="0.75" fill="#60c3a1"/>
<circle cx="173.46" cy="134.6" r="0.75" fill="#60c3a1"/>
<circle cx="173.92" cy="134.93" r="0.75" fill="#60c3a1"/>
<circle cx="174.5" cy="134.46" r="0.75" fill="#60c3a1"/>
<circle cx="174.43" cy="134.42" r="0.75" fill="#60c3a1"/>
<circle cx="175.04" cy="134.13" r="0.75" fill="#60c3a1"/>
<circle cx="175.3" cy="133.4" r="0.75" fill="#60c3a1"/>
<circle cx="176.28" cy="133.45" r="0.75" fill="#60c3a1"/>
<circle cx="176.17" cy="132.97" r="0.75" fill="#60c3a1"/>
<circle cx="176.85" cy="132.59" r="0.75" fill="#60c3a1"/>
<circle cx="177.11" cy="132.35" r="0.75" fill="#60c3a1"/>
<circle cx="177.79" cy="132.45" r="0.75" fill="#60c3a1"/>
<circle cx="178.16" cy="132.37" r="0.75" fill="#60c3a1"/>
<circle cx="178.64" cy="132.18" r="0.75" fill="#60c3a1"/>
<circle cx="179.41" cy="131.88" r="0.75" fill="#60c3a1"/>
<circle cx="179.43" cy="131.97" r="0.75" fill="#60c3a1"/>
<circle cx="180.04" cy="131.86" r="0.75" fill="#60c3a1"/>
<circle cx="180.92" cy="132.06" r="0.75" fill="#60c3a1"/>
<circle cx="181.37" cy="131.91" r="0.75" fill="#60c3a1"/>
<circle cx="181.44" cy="131.38" r="0.75" fill="#60c3a1"/>
<circle cx="181.84" cy="131.22" r="0.75" fill="#60c3a1"/>
<circle cx="182.43" cy="131.06" r="0.75" fill="#60c3a1"/>
<circle cx="182.96" cy="131.42" r="0.75" fill="#60c3a1"/>
<circle cx="183.57" cy="131.26" r="0.75" fill="#60c3a1"/>
<circle cx="184.06" cy="131.03" r="0.75" fill="#60c3a1"/>
<circle cx="184.64" cy="130.79" r="0.75" fill="#60c3a1"/>
<circle cx="185.3" cy="130.67" r="0.75" fill="#60c3a1"/>
<circle cx="117.83" cy="157.14" r="0.75" fill="#60c3a1"/>
<circle cx="118.37" cy="157.3" r="0.75" fill="#60c3a1"/>
<circle cx="118.88" cy="157.33" r="0.75" fill="#60c3a1"/>
<circle cx="119.59" cy="157.29" r="0.75" fill="#60c3a1"/>
<circle cx="120.1" cy="157.26" r="0.75" fill="#60c3a1"/>
<circle cx="120.7" cy="157.17" r="0.75" fill="#60c3a1"/>
<circle cx="121.09" cy="157.22" r="0.75" fill="#60c3a1"/>
<circle cx="121.86" cy="157.22" r="0.75" fill="#60c3a1"/>
<circle cx="122.35" cy="157.21" r="0.75" fill="#60c3a1"/>
<circle cx="122.83" cy="157.24" r="0.75" fill="#60c3a1"/>
<circle cx="123.39" cy="157.09" r="0.75" fill="#60c3a1"/>
<circle cx="123.97" cy="157.34" r="0.75" fill="#60c3a1"/>
<circle cx="124.79" cy="157.24" r="0.75" fill="#60c3a1"/>
<circle cx="125.37" cy="157.11" r="0.75" fill="#60c3a1"/>
<circle cx="125.86" cy="157.19" r="0.75" fill="#60c3a1"/>
<circle cx="126.27" cy="157.22" r="0.75" fill="#60c3a1"/>
<circle cx="126.84" cy="157.13" r="0.75" fill="#60c3a1"/>
<circle cx="127.42" cy="157.12" r="0.75" fill="#60c3a1"/>
<circle cx="128.22" cy="157.2" r="0.75" fill="#60c3a1"/>
<circle cx="128.69" cy="157.09" r="0.75" fill="#60c3a1"/>
<circle cx="129.14" cy="157.08" r="0.75" fill="#60c3a1"/>
<circle cx="129.88" cy="157.22" r="0.75" fill="#60c3a1"/>
<circle cx="130.47" cy="157.23" r="0.75" fill="#60c3a1"/>
<circle cx="130.89" cy="157.17" r="0.75" fill="#60c3a1"/>
<circle cx="131.5" cy="157.33" r="0.75" fill="#60c3a1"/>
<circle cx="132.17" cy="157.3" r="0.75" fill="#60c3a1"/>
<circle cx="132.73" cy="157.34" r="0.75" fill="#60c3a1"/>
<circle cx="133.33" cy="157.05" r="0.75" fill="#60c3a1"/>
<circle cx="133.7" cy="157.06" r="0.75" fill="#60c3a1"/>
<circle cx="134.52" cy="157.11" r="0.75" fill="#60c3a1"/>
<circle cx="175.9" cy="132.67" r="0.75" fill="#60c3a1"/>
<circle cx="176.78" cy="133.18" r="0.75" fill="#60c3a1"/>
<circle cx="176.94" cy="132.96" r="0.75" fill="#60c3a1"/>
<circle cx="178.36" cy="132.18" r="0.75" fill="#60c3a1"/>
<circle cx="179.28" cy="132.9" r="0.75" fill="#60c3a1"/>
<circle cx="179.71" cy="132.35" r="0.75" fill="#60c3a1"/>
<circle cx="180.64" cy="131.92" r="0.75" fill="#60c3a1"/>
<circle cx="181.24" cy="132.21" r="0.75" fill="#60c3a1"/>
<circle cx="182.9" cy="131.54" r="0.75" fill="#60c3a1"/>
<circle cx="182.81" cy="131.81" r="0.75" fill="#60c3a1"/>
<circle cx="183.91" cy="132" r="0.75" fill="#60c3a1"/>
<circle cx="184.79" cy="131.02" r="0.75" fill="#60c3a1"/>
<circle cx="122.2" cy="146.8" r="0.7" fill="#60c3a1"/>
<circle cx="106.7" cy="153.9" r="0.7" fill="#60c3a1"/>
<circle cx="108.9" cy="156" r="0.7" fill="#60c3a1"/>
<circle cx="165.6" cy="153.9" r="0.7" fill="#60c3a1"/>
<circle cx="165.6" cy="156.6" r="0.7" fill="#60c3a1"/>
<circle cx="150" cy="147.5" r="0.7" fill="#60c3a1"/>
<rect x="102.2" y="169.7" width="82.4" height="42.6" fill="#fdfdf6"/>
<rect x="111.8" y="169.7" width="20.2" height="42.6" fill="#f8f7e4"/>
<rect x="103.2" y="169.7" width="0.34" height="42.6" fill="#f1efd2"/>
<rect x="105.07" y="169.7" width="0.65" height="42.6" fill="#f1efd2"/>
<rect x="108.06" y="169.7" width="0.66" height="42.6" fill="#f1efd2"/>
<rect x="110.67" y="169.7" width="0.47" height="42.6" fill="#f1efd2"/>
<rect x="113.54" y="169.7" width="0.77" height="42.6" fill="#f5f3dc"/>
<rect x="116.36" y="169.7" width="0.3" height="42.6" fill="#f1efd2"/>
<rect x="119.07" y="169.7" width="0.54" height="42.6" fill="#f1efd2"/>
<rect x="122.74" y="169.7" width="0.78" height="42.6" fill="#f1efd2"/>
<rect x="125.74" y="169.7" width="0.47" height="42.6" fill="#f1efd2"/>
<rect x="129.66" y="169.7" width="0.36" height="42.6" fill="#f1efd2"/>
<rect x="132.22" y="169.7" width="0.52" height="42.6" fill="#f1efd2"/>
<rect x="135.21" y="169.7" width="0.41" height="42.6" fill="#f5f3dc"/>
<rect x="137.54" y="169.7" width="0.76" height="42.6" fill="#f1efd2"/>
<rect x="140.73" y="169.7" width="0.71" height="42.6" fill="#f5f3dc"/>
<rect x="143.95" y="169.7" width="0.59" height="42.6" fill="#f1efd2"/>
<rect x="147.09" y="169.7" width="0.41" height="42.6" fill="#f5f3dc"/>
<rect x="148.88" y="169.7" width="0.63" height="42.6" fill="#f5f3dc"/>
<rect x="151.69" y="169.7" width="0.33" height="42.6" fill="#f5f3dc"/>
<rect x="153.25" y="169.7" width="0.39" height="42.6" fill="#f1efd2"/>
<rect x="156.46" y="169.7" width="0.35" height="42.6" fill="#f1efd2"/>
<rect x="158.31" y="169.7" width="0.43" height="42.6" fill="#ecead0"/>
<rect x="160.63" y="169.7" width="0.49" height="42.6" fill="#f1efd2"/>
<rect x="163.68" y="169.7" width="0.54" height="42.6" fill="#ecead0"/>
<rect x="167.61" y="169.7" width="0.64" height="42.6" fill="#f5f3dc"/>
<rect x="170.59" y="169.7" width="0.78" height="42.6" fill="#f1efd2"/>
<rect x="173.99" y="169.7" width="0.56" height="42.6" fill="#ecead0"/>
<rect x="176.28" y="169.7" width="0.49" height="42.6" fill="#ecead0"/>
<rect x="179.64" y="169.7" width="0.4" height="42.6" fill="#ecead0"/>
<rect x="181.53" y="169.7" width="0.64" height="42.6" fill="#f5f3dc"/>
<rect x="102.2" y="169.7" width="82.4" height="42.6" fill="none" stroke="#9a9a9a" stroke-width="0.8"/>
<line x1="102.2" y1="212.3" x2="184.6" y2="212.3" stroke="#8c8c8c" stroke-width="1.3"/>
<text x="99.8" y="212.3" font-size="3.4" fill="#111" text-anchor="end" dominant-baseline="central">0</text>
<line x1="101.1" y1="212.3" x2="102.2" y2="212.3" stroke="#333" stroke-width="0.4"/>
<text x="99.8" y="200.77" font-size="3.4" fill="#111" text-anchor="end" dominant-baseline="central">50</text>
<line x1="101.1" y1="200.77" x2="102.2" y2="200.77" stroke="#333" stroke-width="0.4"/>
<text x="99.8" y="189.23" font-size="3.4" fill="#111" text-anchor="end" dominant-baseline="central">100</text>
<line x1="101.1" y1="189.23" x2="102.2" y2="189.23" stroke="#333" stroke-width="0.4"/>
<text x="99.8" y="177.7" font-size="3.4" fill="#111" text-anchor="end" dominant-baseline="central">150</text>
<line x1="101.1" y1="177.7" x2="102.2" y2="177.7" stroke="#333" stroke-width="0.4"/>
<text x="142.2" y="174.8" font-size="3.2" fill="#555" text-anchor="middle" dominant-baseline="central">ρ=0.987</text>
<circle cx="101.9" cy="211.07" r="0.8" fill="#fc8d62"/>
<circle cx="102.17" cy="210.82" r="0.8" fill="#fc8d62"/>
<circle cx="103.02" cy="210.75" r="0.8" fill="#fc8d62"/>
<circle cx="103.63" cy="209.93" r="0.8" fill="#fc8d62"/>
<circle cx="104.14" cy="208.41" r="0.8" fill="#fc8d62"/>
<circle cx="104.95" cy="208.12" r="0.8" fill="#fc8d62"/>
<circle cx="105.02" cy="207.61" r="0.8" fill="#fc8d62"/>
<circle cx="105.81" cy="206.67" r="0.8" fill="#fc8d62"/>
<circle cx="106.38" cy="206.86" r="0.8" fill="#fc8d62"/>
<circle cx="106.64" cy="206.18" r="0.8" fill="#fc8d62"/>
<circle cx="107.65" cy="206.02" r="0.8" fill="#fc8d62"/>
<circle cx="108.48" cy="205.32" r="0.8" fill="#fc8d62"/>
<circle cx="108.81" cy="204.87" r="0.8" fill="#fc8d62"/>
<circle cx="108.98" cy="204.5" r="0.8" fill="#fc8d62"/>
<circle cx="109.23" cy="203.66" r="0.8" fill="#fc8d62"/>
<circle cx="109.91" cy="203.17" r="0.8" fill="#fc8d62"/>
<circle cx="110.32" cy="202.63" r="0.8" fill="#fc8d62"/>
<circle cx="110.82" cy="202.04" r="0.8" fill="#fc8d62"/>
<circle cx="111.1" cy="201.98" r="0.8" fill="#fc8d62"/>
<circle cx="111.61" cy="201.72" r="0.8" fill="#fc8d62"/>
<circle cx="112.24" cy="201.53" r="0.8" fill="#fc8d62"/>
<circle cx="113.68" cy="201.17" r="0.8" fill="#fc8d62"/>
<circle cx="114.25" cy="201.63" r="0.8" fill="#fc8d62"/>
<circle cx="115.17" cy="201.36" r="0.8" fill="#fc8d62"/>
<circle cx="115.49" cy="201.4" r="0.8" fill="#fc8d62"/>
<circle cx="116.13" cy="201.11" r="0.8" fill="#fc8d62"/>
<circle cx="117.36" cy="201.25" r="0.8" fill="#fc8d62"/>
<circle cx="117.71" cy="201.23" r="0.8" fill="#fc8d62"/>
<circle cx="118.56" cy="201.25" r="0.8" fill="#fc8d62"/>
<circle cx="119.49" cy="200.81" r="0.8" fill="#fc8d62"/>
<circle cx="120.07" cy="201.24" r="0.8" fill="#fc8d62"/>
<circle cx="121.18" cy="200.76" r="0.8" fill="#fc8d62"/>
<circle cx="121.68" cy="200.77" r="0.8" fill="#fc8d62"/>
<circle cx="122.51" cy="200.77" r="0.8" fill="#fc8d62"/>
<circle cx="122.7" cy="200.62" r="0.8" fill="#fc8d62"/>
<circle cx="123.56" cy="200.63" r="0.8" fill="#fc8d62"/>
<circle cx="124.23" cy="201.08" r="0.8" fill="#fc8d62"/>
<circle cx="125.82" cy="200.81" r="0.8" fill="#fc8d62"/>
<circle cx="125.84" cy="200.48" r="0.8" fill="#fc8d62"/>
<circle cx="126.51" cy="200.89" r="0.8" fill="#fc8d62"/>
<circle cx="127.63" cy="200.75" r="0.8" fill="#fc8d62"/>
<circle cx="127.78" cy="200.72" r="0.8" fill="#fc8d62"/>
<circle cx="129.08" cy="200.82" r="0.8" fill="#fc8d62"/>
<circle cx="129.71" cy="201.05" r="0.8" fill="#fc8d62"/>
<circle cx="129.69" cy="200.95" r="0.8" fill="#fc8d62"/>
<circle cx="130.81" cy="200.83" r="0.8" fill="#fc8d62"/>
<circle cx="131.18" cy="200.9" r="0.8" fill="#fc8d62"/>
<circle cx="132.61" cy="201.12" r="0.8" fill="#fc8d62"/>
<circle cx="133.56" cy="200.63" r="0.8" fill="#fc8d62"/>
<circle cx="133.94" cy="200.48" r="0.8" fill="#fc8d62"/>
<circle cx="134.87" cy="200.87" r="0.8" fill="#fc8d62"/>
<circle cx="135.95" cy="200.18" r="0.8" fill="#fc8d62"/>
<circle cx="136.7" cy="200.35" r="0.8" fill="#fc8d62"/>
<circle cx="137.28" cy="200.06" r="0.8" fill="#fc8d62"/>
<circle cx="137.28" cy="199.56" r="0.8" fill="#fc8d62"/>
<circle cx="137.84" cy="199.62" r="0.8" fill="#fc8d62"/>
<circle cx="138.98" cy="199.19" r="0.8" fill="#fc8d62"/>
<circle cx="139.12" cy="198.29" r="0.8" fill="#fc8d62"/>
<circle cx="140.06" cy="198.55" r="0.8" fill="#fc8d62"/>
<circle cx="140.05" cy="197.87" r="0.8" fill="#fc8d62"/>
<circle cx="141.62" cy="196.9" r="0.8" fill="#fc8d62"/>
<circle cx="141.96" cy="196.84" r="0.8" fill="#fc8d62"/>
<circle cx="142.36" cy="196.71" r="0.8" fill="#fc8d62"/>
<circle cx="143.01" cy="195.89" r="0.8" fill="#fc8d62"/>
<circle cx="143.64" cy="195.89" r="0.8" fill="#fc8d62"/>
<circle cx="143.94" cy="195.24" r="0.8" fill="#fc8d62"/>
<circle cx="145.2" cy="194.67" r="0.8" fill="#fc8d62"/>
<circle cx="145.52" cy="194.11" r="0.8" fill="#fc8d62"/>
<circle cx="146.22" cy="194" r="0.8" fill="#fc8d62"/>
<circle cx="146.67" cy="193.37" r="0.8" fill="#fc8d62"/>
<circle cx="147.07" cy="193.25" r="0.8" fill="#fc8d62"/>
<circle cx="147.68" cy="193.02" r="0.8" fill="#fc8d62"/>
<circle cx="148.63" cy="192.03" r="0.8" fill="#fc8d62"/>
<circle cx="148.7" cy="192.03" r="0.8" fill="#fc8d62"/>
<circle cx="149.18" cy="191.25" r="0.8" fill="#fc8d62"/>
<circle cx="150.19" cy="191.14" r="0.8" fill="#fc8d62"/>
<circle cx="151.11" cy="190.05" r="0.8" fill="#fc8d62"/>
<circle cx="151.12" cy="189.8" r="0.8" fill="#fc8d62"/>
<circle cx="151.85" cy="189.42" r="0.8" fill="#fc8d62"/>
<circle cx="152.62" cy="189.24" r="0.8" fill="#fc8d62"/>
<circle cx="153.42" cy="188.64" r="0.8" fill="#fc8d62"/>
<circle cx="153.63" cy="188.61" r="0.8" fill="#fc8d62"/>
<circle cx="154.57" cy="188.34" r="0.8" fill="#fc8d62"/>
<circle cx="155.51" cy="187.96" r="0.8" fill="#fc8d62"/>
<circle cx="156.01" cy="188.22" r="0.8" fill="#fc8d62"/>
<circle cx="156.76" cy="187.97" r="0.8" fill="#fc8d62"/>
<circle cx="157.46" cy="187.21" r="0.8" fill="#fc8d62"/>
<circle cx="158.4" cy="187.64" r="0.8" fill="#fc8d62"/>
<circle cx="159.03" cy="187.7" r="0.8" fill="#fc8d62"/>
<circle cx="159.6" cy="187.17" r="0.8" fill="#fc8d62"/>
<circle cx="160" cy="187.2" r="0.8" fill="#fc8d62"/>
<circle cx="160.53" cy="186.82" r="0.8" fill="#fc8d62"/>
<circle cx="161.11" cy="187.2" r="0.8" fill="#fc8d62"/>
<circle cx="161.62" cy="186.79" r="0.8" fill="#fc8d62"/>
<circle cx="163.29" cy="186.4" r="0.8" fill="#fc8d62"/>
<circle cx="163.6" cy="185.93" r="0.8" fill="#fc8d62"/>
<circle cx="163.91" cy="185.36" r="0.8" fill="#fc8d62"/>
<circle cx="165.07" cy="185.28" r="0.8" fill="#fc8d62"/>
<circle cx="165.36" cy="185.12" r="0.8" fill="#fc8d62"/>
<circle cx="165.61" cy="184.72" r="0.8" fill="#fc8d62"/>
<circle cx="166.51" cy="184.64" r="0.8" fill="#fc8d62"/>
<circle cx="166.85" cy="184.42" r="0.8" fill="#fc8d62"/>
<circle cx="168.32" cy="183.62" r="0.8" fill="#fc8d62"/>
<circle cx="168.65" cy="182.94" r="0.8" fill="#fc8d62"/>
<circle cx="169.68" cy="182.73" r="0.8" fill="#fc8d62"/>
<circle cx="170.39" cy="182.2" r="0.8" fill="#fc8d62"/>
<circle cx="170.92" cy="181.98" r="0.8" fill="#fc8d62"/>
<circle cx="171.15" cy="181.36" r="0.8" fill="#fc8d62"/>
<circle cx="171.62" cy="180.66" r="0.8" fill="#fc8d62"/>
<circle cx="172.38" cy="180.13" r="0.8" fill="#fc8d62"/>
<circle cx="172.59" cy="179.98" r="0.8" fill="#fc8d62"/>
<circle cx="172.87" cy="179.31" r="0.8" fill="#fc8d62"/>
<circle cx="173.68" cy="178.12" r="0.8" fill="#fc8d62"/>
<circle cx="174.22" cy="178.11" r="0.8" fill="#fc8d62"/>
<circle cx="175.09" cy="176.53" r="0.8" fill="#fc8d62"/>
<circle cx="175.81" cy="176.4" r="0.8" fill="#fc8d62"/>
<circle cx="176.05" cy="176.08" r="0.8" fill="#fc8d62"/>
<circle cx="176.48" cy="174.88" r="0.8" fill="#fc8d62"/>
<circle cx="177.45" cy="174.68" r="0.8" fill="#fc8d62"/>
<circle cx="177.62" cy="173.74" r="0.8" fill="#fc8d62"/>
<circle cx="178.15" cy="173.69" r="0.8" fill="#fc8d62"/>
<circle cx="178.8" cy="173.36" r="0.8" fill="#fc8d62"/>
<circle cx="179.66" cy="172.72" r="0.8" fill="#fc8d62"/>
<circle cx="180.14" cy="172.4" r="0.8" fill="#fc8d62"/>
<circle cx="180.58" cy="172.49" r="0.8" fill="#fc8d62"/>
<circle cx="181.38" cy="171.57" r="0.8" fill="#fc8d62"/>
<circle cx="181.63" cy="171.34" r="0.8" fill="#fc8d62"/>
<circle cx="181.88" cy="171.32" r="0.8" fill="#fc8d62"/>
<circle cx="182.86" cy="170.61" r="0.8" fill="#fc8d62"/>
<circle cx="183.48" cy="170.45" r="0.8" fill="#fc8d62"/>
<circle cx="183.81" cy="169.72" r="0.8" fill="#fc8d62"/>
<circle cx="184.1" cy="169.97" r="0.8" fill="#fc8d62"/>
<circle cx="135.6" cy="175.4" r="0.7" fill="#fc8d62"/>
<circle cx="104.4" cy="207" r="0.7" fill="#fc8d62"/>
<circle cx="106" cy="204" r="0.7" fill="#fc8d62"/>
<rect x="102.2" y="217.3" width="82.4" height="28.2" fill="#fdfdf6"/>
<rect x="111.8" y="217.3" width="20.2" height="28.2" fill="#f8f7e4"/>
<rect x="103.2" y="217.3" width="0.59" height="28.2" fill="#ecead0"/>
<rect x="105.52" y="217.3" width="0.72" height="28.2" fill="#f5f3dc"/>
<rect x="108.94" y="217.3" width="0.75" height="28.2" fill="#ecead0"/>
<rect x="111.32" y="217.3" width="0.63" height="28.2" fill="#ecead0"/>
<rect x="115.31" y="217.3" width="0.46" height="28.2" fill="#ecead0"/>
<rect x="118.19" y="217.3" width="0.52" height="28.2" fill="#ecead0"/>
<rect x="121.37" y="217.3" width="0.45" height="28.2" fill="#f5f3dc"/>
<rect x="124.21" y="217.3" width="0.75" height="28.2" fill="#ecead0"/>
<rect x="127.56" y="217.3" width="0.67" height="28.2" fill="#f5f3dc"/>
<rect x="131.3" y="217.3" width="0.44" height="28.2" fill="#f5f3dc"/>
<rect x="134.22" y="217.3" width="0.64" height="28.2" fill="#f1efd2"/>
<rect x="138.05" y="217.3" width="0.46" height="28.2" fill="#f5f3dc"/>
<rect x="142" y="217.3" width="0.8" height="28.2" fill="#f1efd2"/>
<rect x="145.72" y="217.3" width="0.36" height="28.2" fill="#f5f3dc"/>
<rect x="149.05" y="217.3" width="0.56" height="28.2" fill="#f5f3dc"/>
<rect x="150.82" y="217.3" width="0.56" height="28.2" fill="#f5f3dc"/>
<rect x="153.86" y="217.3" width="0.49" height="28.2" fill="#ecead0"/>
<rect x="155.81" y="217.3" width="0.32" height="28.2" fill="#ecead0"/>
<rect x="159.04" y="217.3" width="0.58" height="28.2" fill="#f1efd2"/>
<rect x="160.97" y="217.3" width="0.35" height="28.2" fill="#f5f3dc"/>
<rect x="162.52" y="217.3" width="0.5" height="28.2" fill="#f5f3dc"/>
<rect x="164.7" y="217.3" width="0.4" height="28.2" fill="#ecead0"/>
<rect x="167.19" y="217.3" width="0.6" height="28.2" fill="#f5f3dc"/>
<rect x="170.34" y="217.3" width="0.53" height="28.2" fill="#f5f3dc"/>
<rect x="173.19" y="217.3" width="0.3" height="28.2" fill="#f5f3dc"/>
<rect x="175.56" y="217.3" width="0.69" height="28.2" fill="#f1efd2"/>
<rect x="178.99" y="217.3" width="0.42" height="28.2" fill="#ecead0"/>
<rect x="182.07" y="217.3" width="0.66" height="28.2" fill="#ecead0"/>
<rect x="102.2" y="217.3" width="82.4" height="28.2" fill="none" stroke="#9a9a9a" stroke-width="0.8"/>
<line x1="102.2" y1="245.5" x2="184.6" y2="245.5" stroke="#8c8c8c" stroke-width="1.3"/>
<text x="99.8" y="245.5" font-size="3.4" fill="#111" text-anchor="end" dominant-baseline="central">0</text>
<line x1="101.1" y1="245.5" x2="102.2" y2="245.5" stroke="#333" stroke-width="0.4"/>
<text x="99.8" y="234.35" font-size="3.4" fill="#111" text-anchor="end" dominant-baseline="central">50</text>
<line x1="101.1" y1="234.35" x2="102.2" y2="234.35" stroke="#333" stroke-width="0.4"/>
<text x="99.8" y="223.2" font-size="3.4" fill="#111" text-anchor="end" dominant-baseline="central">100</text>
<line x1="101.1" y1="223.2" x2="102.2" y2="223.2" stroke="#333" stroke-width="0.4"/>
<text x="142.2" y="221.8" font-size="3.2" fill="#555" text-anchor="middle" dominant-baseline="central">ρ=0.998</text>
<circle cx="101.52" cy="244.12" r="0.8" fill="#8da0cb"/>
<circle cx="101.97" cy="243.66" r="0.8" fill="#8da0cb"/>
<circle cx="102.66" cy="243.53" r="0.8" fill="#8da0cb"/>
<circle cx="102.91" cy="243.04" r="0.8" fill="#8da0cb"/>
<circle cx="103.03" cy="242.68" r="0.8" fill="#8da0cb"/>
<circle cx="103.62" cy="242.61" r="0.8" fill="#8da0cb"/>
<circle cx="104.1" cy="242.23" r="0.8" fill="#8da0cb"/>
<circle cx="104.42" cy="241.57" r="0.8" fill="#8da0cb"/>
<circle cx="105.09" cy="241.68" r="0.8" fill="#8da0cb"/>
<circle cx="105.22" cy="240.98" r="0.8" fill="#8da0cb"/>
<circle cx="105.72" cy="240.95" r="0.8" fill="#8da0cb"/>
<circle cx="106.29" cy="240.74" r="0.8" fill="#8da0cb"/>
<circle cx="106.55" cy="240.46" r="0.8" fill="#8da0cb"/>
<circle cx="106.89" cy="239.87" r="0.8" fill="#8da0cb"/>
<circle cx="107.12" cy="240.14" r="0.8" fill="#8da0cb"/>
<circle cx="108" cy="239.48" r="0.8" fill="#8da0cb"/>
<circle cx="110.17" cy="242.63" r="0.8" fill="#8da0cb"/>
<circle cx="110.67" cy="242.68" r="0.8" fill="#8da0cb"/>
<circle cx="111.05" cy="242.68" r="0.8" fill="#8da0cb"/>
<circle cx="112.14" cy="242.51" r="0.8" fill="#8da0cb"/>
<circle cx="112.24" cy="242.35" r="0.8" fill="#8da0cb"/>
<circle cx="113.27" cy="242.51" r="0.8" fill="#8da0cb"/>
<circle cx="113.86" cy="241.86" r="0.8" fill="#8da0cb"/>
<circle cx="114.63" cy="242.08" r="0.8" fill="#8da0cb"/>
<circle cx="114.73" cy="241.69" r="0.8" fill="#8da0cb"/>
<circle cx="115.35" cy="241.9" r="0.8" fill="#8da0cb"/>
<circle cx="115.74" cy="236.49" r="0.8" fill="#8da0cb"/>
<circle cx="116.2" cy="236.14" r="0.8" fill="#8da0cb"/>
<circle cx="116.22" cy="235.74" r="0.8" fill="#8da0cb"/>
<circle cx="116.67" cy="235.58" r="0.8" fill="#8da0cb"/>
<circle cx="117.15" cy="235.23" r="0.8" fill="#8da0cb"/>
<circle cx="117.6" cy="234.67" r="0.8" fill="#8da0cb"/>
<circle cx="117.88" cy="234.2" r="0.8" fill="#8da0cb"/>
<circle cx="118.02" cy="234.64" r="0.8" fill="#8da0cb"/>
<circle cx="118.6" cy="234.47" r="0.8" fill="#8da0cb"/>
<circle cx="119.17" cy="234.2" r="0.8" fill="#8da0cb"/>
<circle cx="119.63" cy="234.57" r="0.8" fill="#8da0cb"/>
<circle cx="119.94" cy="234.21" r="0.8" fill="#8da0cb"/>
<circle cx="120.32" cy="234.09" r="0.8" fill="#8da0cb"/>
<circle cx="121.17" cy="234.38" r="0.8" fill="#8da0cb"/>
<circle cx="121.71" cy="234.34" r="0.8" fill="#8da0cb"/>
<circle cx="122.17" cy="234.05" r="0.8" fill="#8da0cb"/>
<circle cx="122.17" cy="234.03" r="0.8" fill="#8da0cb"/>
<circle cx="122.75" cy="234.47" r="0.8" fill="#8da0cb"/>
<circle cx="123.11" cy="234.13" r="0.8" fill="#8da0cb"/>
<circle cx="123.48" cy="233.85" r="0.8" fill="#8da0cb"/>
<circle cx="124.23" cy="234.18" r="0.8" fill="#8da0cb"/>
<circle cx="124.67" cy="234.34" r="0.8" fill="#8da0cb"/>
<circle cx="125.35" cy="234.34" r="0.8" fill="#8da0cb"/>
<circle cx="125.64" cy="233.91" r="0.8" fill="#8da0cb"/>
<circle cx="125.83" cy="234.19" r="0.8" fill="#8da0cb"/>
<circle cx="126.31" cy="233.71" r="0.8" fill="#8da0cb"/>
<circle cx="127.1" cy="233.75" r="0.8" fill="#8da0cb"/>
<circle cx="127.51" cy="233.76" r="0.8" fill="#8da0cb"/>
<circle cx="127.85" cy="233.61" r="0.8" fill="#8da0cb"/>
<circle cx="128.29" cy="233.76" r="0.8" fill="#8da0cb"/>
<circle cx="128.68" cy="233.6" r="0.8" fill="#8da0cb"/>
<circle cx="129.33" cy="233.9" r="0.8" fill="#8da0cb"/>
<circle cx="129.56" cy="233.47" r="0.8" fill="#8da0cb"/>
<circle cx="130.07" cy="233.83" r="0.8" fill="#8da0cb"/>
<circle cx="130.53" cy="233.76" r="0.8" fill="#8da0cb"/>
<circle cx="130.87" cy="233.76" r="0.8" fill="#8da0cb"/>
<circle cx="131.37" cy="233.43" r="0.8" fill="#8da0cb"/>
<circle cx="132.19" cy="233.54" r="0.8" fill="#8da0cb"/>
<circle cx="132.59" cy="233.39" r="0.8" fill="#8da0cb"/>
<circle cx="133.07" cy="233.36" r="0.8" fill="#8da0cb"/>
<circle cx="133.42" cy="233.41" r="0.8" fill="#8da0cb"/>
<circle cx="134.14" cy="233.56" r="0.8" fill="#8da0cb"/>
<circle cx="134.38" cy="233.57" r="0.8" fill="#8da0cb"/>
<circle cx="134.88" cy="233.46" r="0.8" fill="#8da0cb"/>
<circle cx="135.29" cy="233.34" r="0.8" fill="#8da0cb"/>
<circle cx="135.57" cy="233.51" r="0.8" fill="#8da0cb"/>
<circle cx="136.28" cy="233.41" r="0.8" fill="#8da0cb"/>
<circle cx="136.72" cy="232.89" r="0.8" fill="#8da0cb"/>
<circle cx="136.89" cy="233.37" r="0.8" fill="#8da0cb"/>
<circle cx="137.7" cy="233.34" r="0.8" fill="#8da0cb"/>
<circle cx="138.28" cy="232.9" r="0.8" fill="#8da0cb"/>
<circle cx="138.79" cy="233.09" r="0.8" fill="#8da0cb"/>
<circle cx="139.1" cy="233" r="0.8" fill="#8da0cb"/>
<circle cx="139.28" cy="232.94" r="0.8" fill="#8da0cb"/>
<circle cx="139.86" cy="232.79" r="0.8" fill="#8da0cb"/>
<circle cx="140.25" cy="232.87" r="0.8" fill="#8da0cb"/>
<circle cx="140.67" cy="232.68" r="0.8" fill="#8da0cb"/>
<circle cx="141.46" cy="232.81" r="0.8" fill="#8da0cb"/>
<circle cx="141.66" cy="233.07" r="0.8" fill="#8da0cb"/>
<circle cx="142.32" cy="232.87" r="0.8" fill="#8da0cb"/>
<circle cx="144.22" cy="237.51" r="0.8" fill="#8da0cb"/>
<circle cx="144.58" cy="236.48" r="0.8" fill="#8da0cb"/>
<circle cx="144.94" cy="235.95" r="0.8" fill="#8da0cb"/>
<circle cx="145.33" cy="235.9" r="0.8" fill="#8da0cb"/>
<circle cx="145.39" cy="234.94" r="0.8" fill="#8da0cb"/>
<circle cx="145.72" cy="234.26" r="0.8" fill="#8da0cb"/>
<circle cx="145.55" cy="233.87" r="0.8" fill="#8da0cb"/>
<circle cx="145.76" cy="233.66" r="0.8" fill="#8da0cb"/>
<circle cx="146.35" cy="233.07" r="0.8" fill="#8da0cb"/>
<circle cx="146.57" cy="232.16" r="0.8" fill="#8da0cb"/>
<circle cx="146.58" cy="231.85" r="0.8" fill="#8da0cb"/>
<circle cx="147.31" cy="231.43" r="0.8" fill="#8da0cb"/>
<circle cx="147.44" cy="231.1" r="0.8" fill="#8da0cb"/>
<circle cx="147.91" cy="230.57" r="0.8" fill="#8da0cb"/>
<circle cx="148.6" cy="230.16" r="0.8" fill="#8da0cb"/>
<circle cx="148.78" cy="229.69" r="0.8" fill="#8da0cb"/>
<circle cx="149.04" cy="229.17" r="0.8" fill="#8da0cb"/>
<circle cx="149.84" cy="228.77" r="0.8" fill="#8da0cb"/>
<circle cx="149.78" cy="228.57" r="0.8" fill="#8da0cb"/>
<circle cx="150.45" cy="227.96" r="0.8" fill="#8da0cb"/>
<circle cx="151.28" cy="228.25" r="0.8" fill="#8da0cb"/>
<circle cx="151.58" cy="227.91" r="0.8" fill="#8da0cb"/>
<circle cx="152.37" cy="227.57" r="0.8" fill="#8da0cb"/>
<circle cx="153.06" cy="227.51" r="0.8" fill="#8da0cb"/>
<circle cx="153.67" cy="227.51" r="0.8" fill="#8da0cb"/>
<circle cx="154.15" cy="227.2" r="0.8" fill="#8da0cb"/>
<circle cx="154.89" cy="227.01" r="0.8" fill="#8da0cb"/>
<circle cx="155.22" cy="227.06" r="0.8" fill="#8da0cb"/>
<circle cx="155.68" cy="227.01" r="0.8" fill="#8da0cb"/>
<circle cx="156.54" cy="227.04" r="0.8" fill="#8da0cb"/>
<circle cx="156.89" cy="227.26" r="0.8" fill="#8da0cb"/>
<circle cx="157.83" cy="227.12" r="0.8" fill="#8da0cb"/>
<circle cx="158.42" cy="227.33" r="0.8" fill="#8da0cb"/>
<circle cx="159.18" cy="227.49" r="0.8" fill="#8da0cb"/>
<circle cx="159.82" cy="227.21" r="0.8" fill="#8da0cb"/>
<circle cx="160.3" cy="227.09" r="0.8" fill="#8da0cb"/>
<circle cx="160.27" cy="226.66" r="0.8" fill="#8da0cb"/>
<circle cx="160.44" cy="226.34" r="0.8" fill="#8da0cb"/>
<circle cx="160.82" cy="225.77" r="0.8" fill="#8da0cb"/>
<circle cx="161.13" cy="225.16" r="0.8" fill="#8da0cb"/>
<circle cx="161.58" cy="224.98" r="0.8" fill="#8da0cb"/>
<circle cx="161.94" cy="224.13" r="0.8" fill="#8da0cb"/>
<circle cx="162.37" cy="223.59" r="0.8" fill="#8da0cb"/>
<circle cx="163.08" cy="223.37" r="0.8" fill="#8da0cb"/>
<circle cx="163.36" cy="223.05" r="0.8" fill="#8da0cb"/>
<circle cx="163.91" cy="223.01" r="0.8" fill="#8da0cb"/>
<circle cx="164.33" cy="222.29" r="0.8" fill="#8da0cb"/>
<circle cx="164.9" cy="222.23" r="0.8" fill="#8da0cb"/>
<circle cx="165.37" cy="221.63" r="0.8" fill="#8da0cb"/>
<circle cx="165.92" cy="221.81" r="0.8" fill="#8da0cb"/>
<circle cx="166.74" cy="221.17" r="0.8" fill="#8da0cb"/>
<circle cx="166.96" cy="220.67" r="0.8" fill="#8da0cb"/>
<circle cx="167.6" cy="220.67" r="0.8" fill="#8da0cb"/>
<circle cx="167.85" cy="220.28" r="0.8" fill="#8da0cb"/>
<circle cx="168.26" cy="219.76" r="0.8" fill="#8da0cb"/>
<circle cx="168.87" cy="219.72" r="0.8" fill="#8da0cb"/>
<circle cx="169.59" cy="219.27" r="0.8" fill="#8da0cb"/>
<circle cx="170.01" cy="219" r="0.8" fill="#8da0cb"/>
<circle cx="170.56" cy="218.54" r="0.8" fill="#8da0cb"/>
<circle cx="171.3" cy="218.58" r="0.8" fill="#8da0cb"/>
<circle cx="171.39" cy="222.95" r="0.8" fill="#8da0cb"/>
<circle cx="171.94" cy="222.95" r="0.8" fill="#8da0cb"/>
<circle cx="172.7" cy="222.37" r="0.8" fill="#8da0cb"/>
<circle cx="173.28" cy="222.36" r="0.8" fill="#8da0cb"/>
<circle cx="173.45" cy="222.21" r="0.8" fill="#8da0cb"/>
<circle cx="174.64" cy="222.04" r="0.8" fill="#8da0cb"/>
<circle cx="106.7" cy="234" r="0.7" fill="#8da0cb"/>
<circle cx="116.7" cy="238.9" r="0.7" fill="#8da0cb"/>
<circle cx="165.6" cy="234.4" r="0.7" fill="#8da0cb"/>
<circle cx="152.2" cy="219.6" r="0.7" fill="#8da0cb"/>
<rect x="102.2" y="249.6" width="82.4" height="2.8" fill="#fdfdf6"/>
<rect x="103.2" y="249.6" width="0.56" height="2.8" fill="#ecead0"/>
<rect x="105.03" y="249.6" width="0.41" height="2.8" fill="#f1efd2"/>
<rect x="108.67" y="249.6" width="0.48" height="2.8" fill="#f1efd2"/>
<rect x="111.33" y="249.6" width="0.45" height="2.8" fill="#f1efd2"/>
<rect x="114.33" y="249.6" width="0.71" height="2.8" fill="#f1efd2"/>
<rect x="116.87" y="249.6" width="0.61" height="2.8" fill="#f1efd2"/>
<rect x="120.4" y="249.6" width="0.34" height="2.8" fill="#f1efd2"/>
<rect x="122.8" y="249.6" width="0.67" height="2.8" fill="#ecead0"/>
<rect x="126.6" y="249.6" width="0.7" height="2.8" fill="#f1efd2"/>
<rect x="129.85" y="249.6" width="0.62" height="2.8" fill="#f5f3dc"/>
<rect x="132.55" y="249.6" width="0.41" height="2.8" fill="#f5f3dc"/>
<rect x="135.38" y="249.6" width="0.6" height="2.8" fill="#ecead0"/>
<rect x="138.84" y="249.6" width="0.57" height="2.8" fill="#f1efd2"/>
<rect x="141.18" y="249.6" width="0.71" height="2.8" fill="#ecead0"/>
<rect x="144.63" y="249.6" width="0.34" height="2.8" fill="#f5f3dc"/>
<rect x="146.82" y="249.6" width="0.36" height="2.8" fill="#f5f3dc"/>
<rect x="150.48" y="249.6" width="0.4" height="2.8" fill="#f1efd2"/>
<rect x="153.01" y="249.6" width="0.69" height="2.8" fill="#f5f3dc"/>
<rect x="155.93" y="249.6" width="0.75" height="2.8" fill="#ecead0"/>
<rect x="159.59" y="249.6" width="0.79" height="2.8" fill="#f5f3dc"/>
<rect x="163.57" y="249.6" width="0.48" height="2.8" fill="#f5f3dc"/>
<rect x="165.89" y="249.6" width="0.42" height="2.8" fill="#f5f3dc"/>
<rect x="168.22" y="249.6" width="0.76" height="2.8" fill="#ecead0"/>
<rect x="170.42" y="249.6" width="0.56" height="2.8" fill="#f5f3dc"/>
<rect x="174.33" y="249.6" width="0.5" height="2.8" fill="#f5f3dc"/>
<rect x="177.78" y="249.6" width="0.76" height="2.8" fill="#ecead0"/>
<rect x="181.49" y="249.6" width="0.78" height="2.8" fill="#ecead0"/>
<rect x="102.2" y="249.6" width="82.4" height="2.8" fill="none" stroke="#9a9a9a" stroke-width="0.8"/>
<line x1="102.2" y1="252.4" x2="184.6" y2="252.4" stroke="#8c8c8c" stroke-width="1.0"/>
<text x="99.8" y="251.5" font-size="3.4" fill="#111" text-anchor="end" dominant-baseline="central">0</text>
<line x1="101.1" y1="251.5" x2="102.2" y2="251.5" stroke="#333" stroke-width="0.4"/>
<circle cx="180.98" cy="251.83" r="0.75" fill="#8da0cb"/>
<circle cx="181.5" cy="251.56" r="0.75" fill="#8da0cb"/>
<circle cx="182.23" cy="251.07" r="0.75" fill="#8da0cb"/>
<circle cx="183.01" cy="250.79" r="0.75" fill="#8da0cb"/>
<circle cx="183.78" cy="250.2" r="0.75" fill="#8da0cb"/>
<circle cx="184.49" cy="250.05" r="0.75" fill="#8da0cb"/>
<text x="142.2" y="254.6" font-size="3.2" fill="#555" text-anchor="middle" dominant-baseline="central">ρ=0.998</text>
<rect x="102.4" y="257.6" width="82.3" height="7.8" rx="2.8" fill="#fafafa"/>
<rect x="104.7" y="258.2" width="0.35" height="6.6" fill="#999"/>
<rect x="106.03" y="258.2" width="0.28" height="6.6" fill="#777"/>
<rect x="106.93" y="258.2" width="0.26" height="6.6" fill="#555"/>
<rect x="108.15" y="258.2" width="0.28" height="6.6" fill="#999"/>
<rect x="109.47" y="258.2" width="0.33" height="6.6" fill="#999"/>
<rect x="110.51" y="258.2" width="0.35" height="6.6" fill="#999"/>
<rect x="111.81" y="258.2" width="0.34" height="6.6" fill="#777"/>
<rect x="113.27" y="258.2" width="0.4" height="6.6" fill="#555"/>
<rect x="114.43" y="258.2" width="0.4" height="6.6" fill="#777"/>
<rect x="115.99" y="258.2" width="0.28" height="6.6" fill="#999"/>
<rect x="117.43" y="258.2" width="0.32" height="6.6" fill="#777"/>
<rect x="118.48" y="258.2" width="0.37" height="6.6" fill="#555"/>
<rect x="119.35" y="258.2" width="0.31" height="6.6" fill="#555"/>
<rect x="120.75" y="258.2" width="0.26" height="6.6" fill="#999"/>
<rect x="128" y="258.2" width="0.26" height="6.6" fill="#999"/>
<rect x="129.33" y="258.2" width="0.46" height="6.6" fill="#777"/>
<rect x="130.36" y="258.2" width="0.37" height="6.6" fill="#777"/>
<rect x="131.59" y="258.2" width="0.39" height="6.6" fill="#555"/>
<rect x="132.72" y="258.2" width="0.5" height="6.6" fill="#999"/>
<rect x="134.04" y="258.2" width="0.34" height="6.6" fill="#999"/>
<rect x="134.78" y="258.2" width="0.29" height="6.6" fill="#555"/>
<rect x="136.27" y="258.2" width="0.4" height="6.6" fill="#999"/>
<rect x="137.56" y="258.2" width="0.39" height="6.6" fill="#777"/>
<rect x="138.76" y="258.2" width="0.35" height="6.6" fill="#777"/>
<rect x="151" y="258.2" width="0.46" height="6.6" fill="#999"/>
<rect x="152.35" y="258.2" width="0.5" height="6.6" fill="#555"/>
<rect x="153.65" y="258.2" width="0.37" height="6.6" fill="#555"/>
<rect x="154.51" y="258.2" width="0.41" height="6.6" fill="#555"/>
<rect x="155.77" y="258.2" width="0.32" height="6.6" fill="#999"/>
<rect x="156.53" y="258.2" width="0.27" height="6.6" fill="#777"/>
<rect x="157.48" y="258.2" width="0.42" height="6.6" fill="#999"/>
<rect x="165" y="258.2" width="0.46" height="6.6" fill="#555"/>
<rect x="165.95" y="258.2" width="0.49" height="6.6" fill="#777"/>
<rect x="167.53" y="258.2" width="0.5" height="6.6" fill="#999"/>
<rect x="168.52" y="258.2" width="0.45" height="6.6" fill="#555"/>
<rect x="169.48" y="258.2" width="0.32" height="6.6" fill="#777"/>
<rect x="170.45" y="258.2" width="0.47" height="6.6" fill="#777"/>
<rect x="171.22" y="258.2" width="0.31" height="6.6" fill="#555"/>
<rect x="172.51" y="258.2" width="0.27" height="6.6" fill="#777"/>
<rect x="173.57" y="258.2" width="0.34" height="6.6" fill="#777"/>
<rect x="174.34" y="258.2" width="0.48" height="6.6" fill="#555"/>
<rect x="175.29" y="258.2" width="0.38" height="6.6" fill="#777"/>
<rect x="176.21" y="258.2" width="0.43" height="6.6" fill="#999"/>
<rect x="177.35" y="258.2" width="0.38" height="6.6" fill="#777"/>
<rect x="178.67" y="258.2" width="0.5" height="6.6" fill="#777"/>
<rect x="179.6" y="258.2" width="0.31" height="6.6" fill="#999"/>
<rect x="124" y="258.2" width="0.4" height="6.6" fill="#777"/>
<rect x="142" y="258.2" width="0.4" height="6.6" fill="#777"/>
<rect x="146" y="258.2" width="0.4" height="6.6" fill="#777"/>
<rect x="161" y="258.2" width="0.4" height="6.6" fill="#777"/>
<rect x="163" y="258.2" width="0.4" height="6.6" fill="#777"/>
<rect x="102.4" y="257.6" width="82.3" height="7.8" rx="2.8" fill="none" stroke="#111" stroke-width="1.2"/>
<text x="202" y="122.5" font-size="9.5" fill="#000" text-anchor="middle" dominant-baseline="central" font-weight="bold">(d)</text>
<text x="233.6" y="128.2" font-size="3.6" fill="#111" text-anchor="middle" dominant-baseline="central" font-weight="bold" textLength="16" lengthAdjust="spacingAndGlyphs">chr7 (78Mb)</text>
<polygon points="210.6,141.4 232.3,132.6 232.3,266 210.6,229.5" fill="#60c3a1"/>
<clipPath id="cp3"><polygon points="210.6,141.4 232.3,132.6 232.3,266 210.6,229.5"/></clipPath><g clip-path="url(#cp3)">
<line x1="210.6" y1="176.8" x2="232.3" y2="178.03" stroke="#fff" stroke-width="0.28" stroke-opacity="0.5"/>
<line x1="210.6" y1="216.66" x2="232.3" y2="241.22" stroke="#fff" stroke-width="0.36" stroke-opacity="0.5"/>
<line x1="210.6" y1="223.92" x2="232.3" y2="255.3" stroke="#fff" stroke-width="0.44" stroke-opacity="0.5"/>
<line x1="210.6" y1="210.47" x2="232.3" y2="234.7" stroke="#fff" stroke-width="0.38" stroke-opacity="0.5"/>
<line x1="210.6" y1="148.07" x2="232.3" y2="138" stroke="#fff" stroke-width="0.7" stroke-opacity="0.9"/>
<line x1="210.6" y1="146.34" x2="232.3" y2="145.8" stroke="#fff" stroke-width="0.64" stroke-opacity="0.9"/>
<line x1="210.6" y1="142.77" x2="232.3" y2="136.73" stroke="#fff" stroke-width="0.49" stroke-opacity="0.9"/>
<line x1="210.6" y1="150.24" x2="232.3" y2="135.72" stroke="#fff" stroke-width="0.55" stroke-opacity="0.9"/>
<line x1="210.6" y1="145.99" x2="232.3" y2="143.32" stroke="#fff" stroke-width="0.67" stroke-opacity="0.9"/>
<line x1="210.6" y1="149.74" x2="232.3" y2="135.92" stroke="#fff" stroke-width="0.6" stroke-opacity="0.9"/>
<line x1="210.6" y1="146.66" x2="232.3" y2="143.97" stroke="#fff" stroke-width="0.49" stroke-opacity="0.9"/>
<path d="M210.6,144 L232.3,135 L232.3,136.2 L210.6,145.3 Z" fill="#fff"/>
<line x1="211" y1="218" x2="226" y2="249" stroke="#fff" stroke-width="0.5" stroke-opacity="0.8"/>
</g>
<polygon points="210.6,246 213,236 215.5,236 210.6,257" fill="#8da0cb"/>
<polygon points="237,132.6 258.3,132 258.3,204.3 237,264.5" fill="#fc8d62"/>
<clipPath id="cp4"><polygon points="237,132.6 258.3,132 258.3,204.3 237,264.5"/></clipPath><g clip-path="url(#cp4)">
<line x1="237" y1="216.13" x2="258.3" y2="177.43" stroke="#fff" stroke-width="0.89"/>
<line x1="237" y1="206.67" x2="258.3" y2="173.48" stroke="#fff" stroke-width="0.76"/>
<line x1="237" y1="160.55" x2="258.3" y2="141.57" stroke="#fff" stroke-width="0.68"/>
<line x1="237" y1="137.47" x2="258.3" y2="133.79" stroke="#fff" stroke-width="0.65"/>
<line x1="237" y1="162.01" x2="258.3" y2="142.84" stroke="#fff" stroke-width="0.47"/>
<line x1="237" y1="207.21" x2="258.3" y2="177.3" stroke="#fff" stroke-width="0.51"/>
<line x1="237" y1="163.77" x2="258.3" y2="150.56" stroke="#fff" stroke-width="0.47"/>
<line x1="237" y1="198.53" x2="258.3" y2="170.39" stroke="#fff" stroke-width="0.99"/>
<line x1="237" y1="206.3" x2="258.3" y2="173.67" stroke="#fff" stroke-width="1"/>
<line x1="237" y1="211.21" x2="258.3" y2="178.66" stroke="#fff" stroke-width="0.72"/>
<line x1="237" y1="183.6" x2="258.3" y2="158.66" stroke="#fff" stroke-width="0.96"/>
<line x1="237" y1="207.41" x2="258.3" y2="173.69" stroke="#fff" stroke-width="0.42"/>
<line x1="237" y1="161.24" x2="258.3" y2="153.61" stroke="#fff" stroke-width="0.75"/>
<line x1="237" y1="182.82" x2="258.3" y2="161.42" stroke="#fff" stroke-width="0.91"/>
<line x1="237" y1="159.21" x2="258.3" y2="144.02" stroke="#fff" stroke-width="0.75"/>
<line x1="237" y1="163.3" x2="258.3" y2="143.44" stroke="#fff" stroke-width="0.43"/>
<line x1="237" y1="173.57" x2="258.3" y2="155.78" stroke="#fff" stroke-width="0.76"/>
<line x1="237" y1="213.16" x2="258.3" y2="181.12" stroke="#fff" stroke-width="0.93"/>
<line x1="237" y1="181.29" x2="258.3" y2="139.42" stroke="#fff" stroke-width="0.34"/>
<line x1="237" y1="177.45" x2="258.3" y2="144.6" stroke="#fff" stroke-width="0.54"/>
<line x1="237" y1="180.18" x2="258.3" y2="136.69" stroke="#fff" stroke-width="0.59"/>
<line x1="237" y1="192.92" x2="258.3" y2="135.17" stroke="#fff" stroke-width="0.5"/>
<line x1="237" y1="186.23" x2="258.3" y2="145.89" stroke="#fff" stroke-width="0.45"/>
<line x1="237" y1="168.41" x2="258.3" y2="149.39" stroke="#fff" stroke-width="0.51"/>
</g>
<polygon points="253,220.5 258.3,221 258.3,242 256,245 246,255 236.8,266" fill="#8da0cb"/>
<line x1="243" y1="254.02" x2="258.3" y2="235.73" stroke="#fff" stroke-width="0.35" stroke-opacity="0.6"/>
<line x1="243" y1="246.2" x2="258.3" y2="224.94" stroke="#fff" stroke-width="0.31" stroke-opacity="0.6"/>
<line x1="243" y1="255.39" x2="258.3" y2="239.22" stroke="#fff" stroke-width="0.41" stroke-opacity="0.6"/>
<line x1="243" y1="250.83" x2="258.3" y2="231.99" stroke="#fff" stroke-width="0.33" stroke-opacity="0.6"/>
<line x1="255.5" y1="245.5" x2="258.2" y2="265" stroke="#fc8d62" stroke-width="1.1"/>
<rect x="232.5" y="132.1" width="4.4" height="134.1" rx="2.2" ry="2.2" fill="#dcdcdc"/>
<rect x="232.8" y="137.06" width="3.8" height="0.84" fill="#c0c0c0"/>
<rect x="232.8" y="139.46" width="3.8" height="1.46" fill="#ffffff"/>
<rect x="232.8" y="150.51" width="3.8" height="0.94" fill="#c0c0c0"/>
<rect x="232.8" y="152.79" width="3.8" height="1.08" fill="#f4f4f4"/>
<rect x="232.8" y="155.08" width="3.8" height="1.54" fill="#ffffff"/>
<rect x="232.8" y="164.57" width="3.8" height="1.77" fill="#b0b0b0"/>
<rect x="232.8" y="166.96" width="3.8" height="1.06" fill="#ffffff"/>
<rect x="232.8" y="168.44" width="3.8" height="1.64" fill="#ffffff"/>
<rect x="232.8" y="172.81" width="3.8" height="0.79" fill="#ffffff"/>
<rect x="232.8" y="178.05" width="3.8" height="1.19" fill="#c0c0c0"/>
<rect x="232.8" y="181.48" width="3.8" height="1.78" fill="#ffffff"/>
<rect x="232.8" y="194.38" width="3.8" height="0.53" fill="#b0b0b0"/>
<rect x="232.8" y="195.45" width="3.8" height="1.15" fill="#b0b0b0"/>
<rect x="232.8" y="198.18" width="3.8" height="1.71" fill="#c0c0c0"/>
<rect x="232.8" y="200.53" width="3.8" height="1.12" fill="#f4f4f4"/>
<rect x="232.8" y="204.94" width="3.8" height="0.98" fill="#c0c0c0"/>
<rect x="232.8" y="209.53" width="3.8" height="1.45" fill="#b0b0b0"/>
<rect x="232.8" y="213.85" width="3.8" height="1.29" fill="#b0b0b0"/>
<rect x="232.8" y="222.27" width="3.8" height="1.14" fill="#ffffff"/>
<rect x="232.8" y="226.56" width="3.8" height="0.91" fill="#ffffff"/>
<rect x="232.8" y="228.7" width="3.8" height="0.56" fill="#ffffff"/>
<rect x="232.8" y="230.38" width="3.8" height="1.41" fill="#ffffff"/>
<rect x="232.8" y="232.3" width="3.8" height="1.32" fill="#c0c0c0"/>
<rect x="232.8" y="238.13" width="3.8" height="1.07" fill="#c0c0c0"/>
<rect x="232.8" y="243.86" width="3.8" height="1.62" fill="#c0c0c0"/>
<rect x="232.8" y="246.34" width="3.8" height="1.7" fill="#ffffff"/>
<rect x="232.8" y="248.66" width="3.8" height="1.29" fill="#ffffff"/>
<rect x="232.8" y="251.21" width="3.8" height="0.94" fill="#f4f4f4"/>
<rect x="232.8" y="253.36" width="3.8" height="0.95" fill="#ffffff"/>
<rect x="232.8" y="256.93" width="3.8" height="0.67" fill="#ffffff"/>
<rect x="232.8" y="258.14" width="3.8" height="1.42" fill="#f4f4f4"/>
<rect x="232.5" y="132.1" width="4.4" height="134.1" rx="2.2" ry="2.2" fill="none" stroke="#1a1a1a" stroke-width="0.85"/>
<rect x="206.4" y="141.4" width="4.2" height="88.1" fill="#000"/>
<rect x="206.1" y="142.1" width="4.8" height="0.5" fill="#fff"/>
<rect x="206.1" y="144.8" width="4.8" height="0.5" fill="#fff"/>
<rect x="206.1" y="148.3" width="4.8" height="0.6" fill="#fff"/>
<rect x="206.1" y="152.9" width="4.8" height="0.6" fill="#fff"/>
<rect x="206.1" y="163" width="4.8" height="0.6" fill="#fff"/>
<rect x="206.1" y="166.5" width="4.8" height="0.6" fill="#fff"/>
<rect x="206.1" y="180.2" width="4.8" height="0.6" fill="#fff"/>
<rect x="206.1" y="193.7" width="4.8" height="0.6" fill="#fff"/>
<rect x="206.1" y="204.8" width="4.8" height="0.5" fill="#fff"/>
<rect x="206.1" y="217" width="4.8" height="1.5" fill="#fff"/>
<rect x="206.1" y="225.8" width="4.8" height="0.6" fill="#fff"/>
<rect x="206.4" y="245.9" width="4.2" height="11.3" fill="#000"/>
<rect x="206.1" y="248" width="4.8" height="1" fill="#fff"/>
<rect x="206.1" y="251.5" width="4.8" height="1" fill="#fff"/>
<rect x="258.4" y="132" width="4.3" height="72.3" fill="#000"/>
<rect x="258.1" y="135.3" width="4.9" height="0.6" fill="#fff"/>
<rect x="258.1" y="138.2" width="4.9" height="0.6" fill="#fff"/>
<rect x="258.1" y="141.1" width="4.9" height="0.6" fill="#fff"/>
<rect x="258.1" y="143.3" width="4.9" height="0.6" fill="#fff"/>
<rect x="258.1" y="146.2" width="4.9" height="0.6" fill="#fff"/>
<rect x="258.1" y="148.4" width="4.9" height="0.6" fill="#fff"/>
<rect x="258.1" y="150.5" width="4.9" height="0.6" fill="#fff"/>
<rect x="258.1" y="154.9" width="4.9" height="0.6" fill="#fff"/>
<rect x="258.1" y="157.1" width="4.9" height="0.7" fill="#fff"/>
<rect x="258.1" y="163.6" width="4.9" height="0.7" fill="#fff"/>
<rect x="258.1" y="166.5" width="4.9" height="0.7" fill="#fff"/>
<rect x="258.1" y="174.5" width="4.9" height="0.7" fill="#fff"/>
<rect x="258.1" y="178.9" width="4.9" height="0.7" fill="#fff"/>
<rect x="258.1" y="184" width="4.9" height="0.7" fill="#fff"/>
<rect x="258.1" y="187.6" width="4.9" height="0.7" fill="#fff"/>
<rect x="258.1" y="192" width="4.9" height="0.7" fill="#fff"/>
<rect x="258.1" y="197.8" width="4.9" height="0.7" fill="#fff"/>
<rect x="258.1" y="200.7" width="4.9" height="0.7" fill="#fff"/>
<rect x="258.4" y="220.8" width="4.3" height="21.1" fill="#000"/>
<rect x="258.4" y="258.4" width="4.3" height="8.3" fill="#000"/>
<rect x="258.1" y="261" width="4.9" height="1" fill="#fff"/>
<rect x="258.1" y="263.5" width="4.9" height="1" fill="#fff"/>
<text x="208.4" y="137.2" font-size="3.0" fill="#222" text-anchor="middle" dominant-baseline="central">0 cM</text>
<text x="208.2" y="233.3" font-size="3.0" fill="#222" text-anchor="middle" dominant-baseline="central">101 cM</text>
<text x="208.4" y="242.8" font-size="3.0" fill="#222" text-anchor="middle" dominant-baseline="central">0 cM</text>
<text x="208.4" y="260.3" font-size="3.0" fill="#222" text-anchor="middle" dominant-baseline="central">12 cM</text>
<text x="260.6" y="128.4" font-size="3.0" fill="#222" text-anchor="middle" dominant-baseline="central">87 cM</text>
<text x="260.6" y="207.9" font-size="3.0" fill="#222" text-anchor="middle" dominant-baseline="central">0 cM</text>
<text x="260.6" y="217.2" font-size="3.0" fill="#222" text-anchor="middle" dominant-baseline="central">0 cM</text>
<text x="260.6" y="245.5" font-size="3.0" fill="#222" text-anchor="middle" dominant-baseline="central">21 cM</text>
<text x="260.6" y="254.8" font-size="3.0" fill="#222" text-anchor="middle" dominant-baseline="central">0 cM</text>
<text x="260.6" y="268.8" font-size="3.0" fill="#222" text-anchor="middle" dominant-baseline="central">0 cM</text>
<text x="198.8" y="186" font-size="3.0" fill="#60c3a1" text-anchor="middle" dominant-baseline="central" transform="rotate(-90 198.8 186)">Group 7 (cM)</text>
<text x="198.8" y="253" font-size="3.0" fill="#8da0cb" text-anchor="middle" dominant-baseline="central" transform="rotate(-90 198.8 253)">Sorghum 7 (cM)</text>
<text x="268.7" y="171" font-size="3.0" fill="#fc8d62" text-anchor="middle" dominant-baseline="central" transform="rotate(-90 268.7 171)">Group 7 (B) (cM)</text>
<text x="268.7" y="229" font-size="3.0" fill="#8da0cb" text-anchor="middle" dominant-baseline="central" transform="rotate(-90 268.7 229)">Sorghum 7 (cM)</text>
<text x="268.7" y="255" font-size="3.0" fill="#fc8d62" text-anchor="middle" dominant-baseline="central" transform="rotate(-90 268.7 255)">Group 7 (B) (cM)</text>
<text x="287.6" y="156" font-size="3.0" fill="#60c3a1" text-anchor="middle" dominant-baseline="central" transform="rotate(-90 287.6 156)">Group 7</text>
<text x="287.3" y="200" font-size="3.0" fill="#fc8d62" text-anchor="middle" dominant-baseline="central" transform="rotate(-90 287.3 200)">Group 7</text>
<text x="287.3" y="228" font-size="3.0" fill="#fc8d62" text-anchor="middle" dominant-baseline="central" transform="rotate(-90 287.3 228)">Group 7 (B)</text>
<text x="285.6" y="245" font-size="3.0" fill="#8da0cb" text-anchor="middle" dominant-baseline="central" transform="rotate(-90 285.6 245)">Sorghum 7</text>
<text x="287.8" y="256" font-size="3.0" fill="#8da0cb" text-anchor="middle" dominant-baseline="central" transform="rotate(-90 287.8 256)">Sorghum 7</text>
<line x1="297.2" y1="132.4" x2="381.2" y2="132.4" stroke="#111" stroke-width="1.0"/>
<line x1="297.2" y1="131.1" x2="297.2" y2="132.4" stroke="#111" stroke-width="0.6"/>
<text x="297.2" y="129" font-size="3.7" fill="#000" text-anchor="middle" dominant-baseline="central">0</text>
<line x1="308.38" y1="131.1" x2="308.38" y2="132.4" stroke="#111" stroke-width="0.6"/>
<text x="308.38" y="129" font-size="3.7" fill="#000" text-anchor="middle" dominant-baseline="central">10</text>
<line x1="319.56" y1="131.1" x2="319.56" y2="132.4" stroke="#111" stroke-width="0.6"/>
<text x="319.56" y="129" font-size="3.7" fill="#000" text-anchor="middle" dominant-baseline="central">20</text>
<line x1="330.74" y1="131.1" x2="330.74" y2="132.4" stroke="#111" stroke-width="0.6"/>
<text x="330.74" y="129" font-size="3.7" fill="#000" text-anchor="middle" dominant-baseline="central">30</text>
<line x1="341.92" y1="131.1" x2="341.92" y2="132.4" stroke="#111" stroke-width="0.6"/>
<text x="341.92" y="129" font-size="3.7" fill="#000" text-anchor="middle" dominant-baseline="central">40</text>
<line x1="353.1" y1="131.1" x2="353.1" y2="132.4" stroke="#111" stroke-width="0.6"/>
<text x="353.1" y="129" font-size="3.7" fill="#000" text-anchor="middle" dominant-baseline="central">50</text>
<line x1="364.28" y1="131.1" x2="364.28" y2="132.4" stroke="#111" stroke-width="0.6"/>
<text x="364.28" y="129" font-size="3.7" fill="#000" text-anchor="middle" dominant-baseline="central">60</text>
<line x1="375.46" y1="131.1" x2="375.46" y2="132.4" stroke="#111" stroke-width="0.6"/>
<text x="375.46" y="129" font-size="3.7" fill="#000" text-anchor="middle" dominant-baseline="central">70Mb</text>
<rect x="297.2" y="132.4" width="84" height="46.8" fill="#fdfdf6"/>
<rect x="315" y="132.4" width="30" height="46.8" fill="#f8f7e4"/>
<rect x="298.2" y="132.4" width="0.55" height="46.8" fill="#ecead0"/>
<rect x="300.45" y="132.4" width="0.75" height="46.8" fill="#f5f3dc"/>
<rect x="303.14" y="132.4" width="0.65" height="46.8" fill="#f5f3dc"/>
<rect x="305.81" y="132.4" width="0.33" height="46.8" fill="#f5f3dc"/>
<rect x="308.1" y="132.4" width="0.38" height="46.8" fill="#ecead0"/>
<rect x="309.7" y="132.4" width="0.55" height="46.8" fill="#f1efd2"/>
<rect x="312.91" y="132.4" width="0.47" height="46.8" fill="#f5f3dc"/>
<rect x="316.43" y="132.4" width="0.36" height="46.8" fill="#f5f3dc"/>
<rect x="318.68" y="132.4" width="0.45" height="46.8" fill="#f5f3dc"/>
<rect x="321.34" y="132.4" width="0.46" height="46.8" fill="#f5f3dc"/>
<rect x="324.75" y="132.4" width="0.61" height="46.8" fill="#f1efd2"/>
<rect x="328.36" y="132.4" width="0.61" height="46.8" fill="#f5f3dc"/>
<rect x="331.1" y="132.4" width="0.37" height="46.8" fill="#f1efd2"/>
<rect x="333.91" y="132.4" width="0.54" height="46.8" fill="#ecead0"/>
<rect x="336.54" y="132.4" width="0.73" height="46.8" fill="#f1efd2"/>
<rect x="339.44" y="132.4" width="0.35" height="46.8" fill="#f5f3dc"/>
<rect x="342.63" y="132.4" width="0.5" height="46.8" fill="#f1efd2"/>
<rect x="345.76" y="132.4" width="0.61" height="46.8" fill="#f1efd2"/>
<rect x="349.47" y="132.4" width="0.43" height="46.8" fill="#f5f3dc"/>
<rect x="351.55" y="132.4" width="0.34" height="46.8" fill="#f5f3dc"/>
<rect x="353.32" y="132.4" width="0.64" height="46.8" fill="#ecead0"/>
<rect x="356.29" y="132.4" width="0.79" height="46.8" fill="#f1efd2"/>
<rect x="360.48" y="132.4" width="0.48" height="46.8" fill="#f1efd2"/>
<rect x="363.82" y="132.4" width="0.71" height="46.8" fill="#f1efd2"/>
<rect x="367.66" y="132.4" width="0.78" height="46.8" fill="#ecead0"/>
<rect x="370.71" y="132.4" width="0.53" height="46.8" fill="#f1efd2"/>
<rect x="374.07" y="132.4" width="0.7" height="46.8" fill="#f1efd2"/>
<rect x="376.25" y="132.4" width="0.31" height="46.8" fill="#f5f3dc"/>
<rect x="378.31" y="132.4" width="0.4" height="46.8" fill="#ecead0"/>
<rect x="297.2" y="132.4" width="84" height="46.8" fill="none" stroke="#9a9a9a" stroke-width="0.8"/>
<line x1="297.2" y1="179.2" x2="381.2" y2="179.2" stroke="#8c8c8c" stroke-width="1.3"/>
<text x="294.8" y="179.2" font-size="3.4" fill="#111" text-anchor="end" dominant-baseline="central">0</text>
<line x1="296.1" y1="179.2" x2="297.2" y2="179.2" stroke="#333" stroke-width="0.4"/>
<text x="294.8" y="170.46" font-size="3.4" fill="#111" text-anchor="end" dominant-baseline="central">20</text>
<line x1="296.1" y1="170.46" x2="297.2" y2="170.46" stroke="#333" stroke-width="0.4"/>
<text x="294.8" y="161.72" font-size="3.4" fill="#111" text-anchor="end" dominant-baseline="central">40</text>
<line x1="296.1" y1="161.72" x2="297.2" y2="161.72" stroke="#333" stroke-width="0.4"/>
<text x="294.8" y="152.98" font-size="3.4" fill="#111" text-anchor="end" dominant-baseline="central">60</text>
<line x1="296.1" y1="152.98" x2="297.2" y2="152.98" stroke="#333" stroke-width="0.4"/>
<text x="294.8" y="144.24" font-size="3.4" fill="#111" text-anchor="end" dominant-baseline="central">80</text>
<line x1="296.1" y1="144.24" x2="297.2" y2="144.24" stroke="#333" stroke-width="0.4"/>
<text x="294.8" y="135.5" font-size="3.4" fill="#111" text-anchor="end" dominant-baseline="central">100</text>
<line x1="296.1" y1="135.5" x2="297.2" y2="135.5" stroke="#333" stroke-width="0.4"/>
<text x="338.2" y="137.1" font-size="3.2" fill="#555" text-anchor="middle" dominant-baseline="central">ρ=0.988</text>
<circle cx="297.56" cy="178.3" r="0.85" fill="#60c3a1"/>
<circle cx="297.96" cy="178.07" r="0.85" fill="#60c3a1"/>
<circle cx="298.04" cy="178.18" r="0.85" fill="#60c3a1"/>
<circle cx="298.36" cy="177.67" r="0.85" fill="#60c3a1"/>
<circle cx="298.62" cy="177.67" r="0.85" fill="#60c3a1"/>
<circle cx="299.5" cy="176.92" r="0.85" fill="#60c3a1"/>
<circle cx="299.33" cy="176.8" r="0.85" fill="#60c3a1"/>
<circle cx="299.83" cy="176.59" r="0.85" fill="#60c3a1"/>
<circle cx="299.99" cy="176.09" r="0.85" fill="#60c3a1"/>
<circle cx="300.15" cy="175.47" r="0.85" fill="#60c3a1"/>
<circle cx="300.36" cy="175.28" r="0.85" fill="#60c3a1"/>
<circle cx="300.92" cy="174.93" r="0.85" fill="#60c3a1"/>
<circle cx="301.4" cy="174.36" r="0.85" fill="#60c3a1"/>
<circle cx="301.31" cy="174.06" r="0.85" fill="#60c3a1"/>
<circle cx="301.94" cy="173.58" r="0.85" fill="#60c3a1"/>
<circle cx="301.84" cy="173.29" r="0.85" fill="#60c3a1"/>
<circle cx="302.41" cy="172.86" r="0.85" fill="#60c3a1"/>
<circle cx="302.43" cy="172.79" r="0.85" fill="#60c3a1"/>
<circle cx="303" cy="172.36" r="0.85" fill="#60c3a1"/>
<circle cx="302.99" cy="171.83" r="0.85" fill="#60c3a1"/>
<circle cx="303.37" cy="171.56" r="0.85" fill="#60c3a1"/>
<circle cx="304.18" cy="171.6" r="0.85" fill="#60c3a1"/>
<circle cx="304.47" cy="170.89" r="0.85" fill="#60c3a1"/>
<circle cx="304.63" cy="170.87" r="0.85" fill="#60c3a1"/>
<circle cx="304.82" cy="170.23" r="0.85" fill="#60c3a1"/>
<circle cx="305.38" cy="169.86" r="0.85" fill="#60c3a1"/>
<circle cx="305.56" cy="169.54" r="0.85" fill="#60c3a1"/>
<circle cx="306.11" cy="169.3" r="0.85" fill="#60c3a1"/>
<circle cx="306" cy="168.66" r="0.85" fill="#60c3a1"/>
<circle cx="306.66" cy="168.39" r="0.85" fill="#60c3a1"/>
<circle cx="307.01" cy="168.12" r="0.85" fill="#60c3a1"/>
<circle cx="307.26" cy="167.86" r="0.85" fill="#60c3a1"/>
<circle cx="307.67" cy="167.4" r="0.85" fill="#60c3a1"/>
<circle cx="307.86" cy="167.38" r="0.85" fill="#60c3a1"/>
<circle cx="308.1" cy="167.25" r="0.85" fill="#60c3a1"/>
<circle cx="308.87" cy="166.9" r="0.85" fill="#60c3a1"/>
<circle cx="309.25" cy="166.66" r="0.85" fill="#60c3a1"/>
<circle cx="309.45" cy="166.38" r="0.85" fill="#60c3a1"/>
<circle cx="309.76" cy="165.69" r="0.85" fill="#60c3a1"/>
<circle cx="310.49" cy="165.99" r="0.85" fill="#60c3a1"/>
<circle cx="310.51" cy="165.44" r="0.85" fill="#60c3a1"/>
<circle cx="310.91" cy="165.42" r="0.85" fill="#60c3a1"/>
<circle cx="311.29" cy="165.26" r="0.85" fill="#60c3a1"/>
<circle cx="311.62" cy="164.79" r="0.85" fill="#60c3a1"/>
<circle cx="312.53" cy="164.77" r="0.85" fill="#60c3a1"/>
<circle cx="312.61" cy="164.46" r="0.85" fill="#60c3a1"/>
<circle cx="313.4" cy="164.45" r="0.85" fill="#60c3a1"/>
<circle cx="313.64" cy="164.74" r="0.85" fill="#60c3a1"/>
<circle cx="314.12" cy="164.37" r="0.85" fill="#60c3a1"/>
<circle cx="314.88" cy="164.74" r="0.85" fill="#60c3a1"/>
<circle cx="315.24" cy="164.34" r="0.85" fill="#60c3a1"/>
<circle cx="315.64" cy="164.82" r="0.85" fill="#60c3a1"/>
<circle cx="316.12" cy="164.36" r="0.85" fill="#60c3a1"/>
<circle cx="316.85" cy="164.39" r="0.85" fill="#60c3a1"/>
<circle cx="317.07" cy="164.24" r="0.85" fill="#60c3a1"/>
<circle cx="317.74" cy="164.52" r="0.85" fill="#60c3a1"/>
<circle cx="318" cy="164.32" r="0.85" fill="#60c3a1"/>
<circle cx="318.34" cy="164.18" r="0.85" fill="#60c3a1"/>
<circle cx="318.9" cy="163.8" r="0.85" fill="#60c3a1"/>
<circle cx="319.48" cy="164.12" r="0.85" fill="#60c3a1"/>
<circle cx="319.52" cy="163.63" r="0.85" fill="#60c3a1"/>
<circle cx="320.39" cy="163.64" r="0.85" fill="#60c3a1"/>
<circle cx="320.5" cy="163.73" r="0.85" fill="#60c3a1"/>
<circle cx="321.46" cy="163.41" r="0.85" fill="#60c3a1"/>
<circle cx="321.68" cy="163.4" r="0.85" fill="#60c3a1"/>
<circle cx="322.12" cy="163.31" r="0.85" fill="#60c3a1"/>
<circle cx="322.8" cy="163.4" r="0.85" fill="#60c3a1"/>
<circle cx="323.25" cy="163.27" r="0.85" fill="#60c3a1"/>
<circle cx="323.65" cy="163.28" r="0.85" fill="#60c3a1"/>
<circle cx="324.1" cy="163.21" r="0.85" fill="#60c3a1"/>
<circle cx="324.58" cy="162.81" r="0.85" fill="#60c3a1"/>
<circle cx="324.7" cy="163.14" r="0.85" fill="#60c3a1"/>
<circle cx="325.32" cy="162.86" r="0.85" fill="#60c3a1"/>
<circle cx="325.93" cy="162.81" r="0.85" fill="#60c3a1"/>
<circle cx="326.46" cy="162.86" r="0.85" fill="#60c3a1"/>
<circle cx="327.03" cy="162.83" r="0.85" fill="#60c3a1"/>
<circle cx="327.53" cy="162.81" r="0.85" fill="#60c3a1"/>
<circle cx="327.89" cy="162.66" r="0.85" fill="#60c3a1"/>
<circle cx="328.19" cy="162.77" r="0.85" fill="#60c3a1"/>
<circle cx="328.88" cy="162.95" r="0.85" fill="#60c3a1"/>
<circle cx="329.17" cy="162.57" r="0.85" fill="#60c3a1"/>
<circle cx="329.61" cy="162.62" r="0.85" fill="#60c3a1"/>
<circle cx="329.83" cy="162.88" r="0.85" fill="#60c3a1"/>
<circle cx="330.57" cy="163.04" r="0.85" fill="#60c3a1"/>
<circle cx="331.22" cy="162.44" r="0.85" fill="#60c3a1"/>
<circle cx="331.75" cy="162.71" r="0.85" fill="#60c3a1"/>
<circle cx="332.25" cy="162.56" r="0.85" fill="#60c3a1"/>
<circle cx="332.4" cy="162.77" r="0.85" fill="#60c3a1"/>
<circle cx="332.75" cy="162.58" r="0.85" fill="#60c3a1"/>
<circle cx="333.26" cy="162.52" r="0.85" fill="#60c3a1"/>
<circle cx="333.86" cy="162.59" r="0.85" fill="#60c3a1"/>
<circle cx="334.53" cy="162.42" r="0.85" fill="#60c3a1"/>
<circle cx="334.62" cy="162.42" r="0.85" fill="#60c3a1"/>
<circle cx="334.95" cy="162.43" r="0.85" fill="#60c3a1"/>
<circle cx="335.62" cy="162.26" r="0.85" fill="#60c3a1"/>
<circle cx="336.19" cy="162.22" r="0.85" fill="#60c3a1"/>
<circle cx="336.83" cy="162.69" r="0.85" fill="#60c3a1"/>
<circle cx="337.19" cy="162.2" r="0.85" fill="#60c3a1"/>
<circle cx="337.38" cy="162.07" r="0.85" fill="#60c3a1"/>
<circle cx="337.87" cy="162.5" r="0.85" fill="#60c3a1"/>
<circle cx="338.69" cy="162.46" r="0.85" fill="#60c3a1"/>
<circle cx="338.92" cy="162.23" r="0.85" fill="#60c3a1"/>
<circle cx="339.59" cy="162.24" r="0.85" fill="#60c3a1"/>
<circle cx="340.02" cy="161.82" r="0.85" fill="#60c3a1"/>
<circle cx="340.7" cy="162.1" r="0.85" fill="#60c3a1"/>
<circle cx="340.74" cy="161.9" r="0.85" fill="#60c3a1"/>
<circle cx="341.5" cy="162.22" r="0.85" fill="#60c3a1"/>
<circle cx="341.53" cy="161.74" r="0.85" fill="#60c3a1"/>
<circle cx="342.01" cy="161.96" r="0.85" fill="#60c3a1"/>
<circle cx="342.81" cy="161.89" r="0.85" fill="#60c3a1"/>
<circle cx="343.03" cy="161.73" r="0.85" fill="#60c3a1"/>
<circle cx="343.91" cy="161.63" r="0.85" fill="#60c3a1"/>
<circle cx="343.97" cy="161.51" r="0.85" fill="#60c3a1"/>
<circle cx="344.8" cy="161.48" r="0.85" fill="#60c3a1"/>
<circle cx="345.2" cy="161.63" r="0.85" fill="#60c3a1"/>
<circle cx="345.69" cy="161.08" r="0.85" fill="#60c3a1"/>
<circle cx="345.79" cy="161.39" r="0.85" fill="#60c3a1"/>
<circle cx="346.32" cy="160.65" r="0.85" fill="#60c3a1"/>
<circle cx="346.51" cy="160.49" r="0.85" fill="#60c3a1"/>
<circle cx="347.25" cy="160.35" r="0.85" fill="#60c3a1"/>
<circle cx="347.33" cy="160.09" r="0.85" fill="#60c3a1"/>
<circle cx="348.17" cy="160.15" r="0.85" fill="#60c3a1"/>
<circle cx="348.39" cy="159.65" r="0.85" fill="#60c3a1"/>
<circle cx="348.43" cy="159.17" r="0.85" fill="#60c3a1"/>
<circle cx="349.16" cy="159.08" r="0.85" fill="#60c3a1"/>
<circle cx="348.9" cy="158.79" r="0.85" fill="#60c3a1"/>
<circle cx="349.73" cy="158.17" r="0.85" fill="#60c3a1"/>
<circle cx="349.96" cy="157.74" r="0.85" fill="#60c3a1"/>
<circle cx="349.89" cy="157.4" r="0.85" fill="#60c3a1"/>
<circle cx="350.26" cy="156.99" r="0.85" fill="#60c3a1"/>
<circle cx="350.36" cy="156.42" r="0.85" fill="#60c3a1"/>
<circle cx="350.7" cy="156.5" r="0.85" fill="#60c3a1"/>
<circle cx="351.47" cy="156.78" r="0.85" fill="#60c3a1"/>
<circle cx="351.68" cy="156.81" r="0.85" fill="#60c3a1"/>
<circle cx="351.9" cy="157.19" r="0.85" fill="#60c3a1"/>
<circle cx="352.7" cy="157.18" r="0.85" fill="#60c3a1"/>
<circle cx="353.1" cy="157.68" r="0.85" fill="#60c3a1"/>
<circle cx="353.28" cy="157.01" r="0.85" fill="#60c3a1"/>
<circle cx="353.98" cy="157.09" r="0.85" fill="#60c3a1"/>
<circle cx="353.94" cy="156.93" r="0.85" fill="#60c3a1"/>
<circle cx="354.69" cy="156.72" r="0.85" fill="#60c3a1"/>
<circle cx="355.12" cy="156.45" r="0.85" fill="#60c3a1"/>
<circle cx="355.17" cy="156.44" r="0.85" fill="#60c3a1"/>
<circle cx="355.96" cy="156.2" r="0.85" fill="#60c3a1"/>
<circle cx="356.29" cy="155.87" r="0.85" fill="#60c3a1"/>
<circle cx="356.64" cy="155.63" r="0.85" fill="#60c3a1"/>
<circle cx="356.77" cy="155.08" r="0.85" fill="#60c3a1"/>
<circle cx="357.54" cy="154.79" r="0.85" fill="#60c3a1"/>
<circle cx="357.75" cy="154.48" r="0.85" fill="#60c3a1"/>
<circle cx="358.26" cy="154.04" r="0.85" fill="#60c3a1"/>
<circle cx="358.33" cy="153.7" r="0.85" fill="#60c3a1"/>
<circle cx="358.56" cy="153.6" r="0.85" fill="#60c3a1"/>
<circle cx="359.44" cy="153.16" r="0.85" fill="#60c3a1"/>
<circle cx="359.6" cy="153.2" r="0.85" fill="#60c3a1"/>
<circle cx="360.02" cy="152.47" r="0.85" fill="#60c3a1"/>
<circle cx="359.97" cy="152.58" r="0.85" fill="#60c3a1"/>
<circle cx="360.45" cy="152.31" r="0.85" fill="#60c3a1"/>
<circle cx="361.07" cy="152.13" r="0.85" fill="#60c3a1"/>
<circle cx="361.29" cy="151.74" r="0.85" fill="#60c3a1"/>
<circle cx="361.53" cy="151.14" r="0.85" fill="#60c3a1"/>
<circle cx="362.04" cy="150.92" r="0.85" fill="#60c3a1"/>
<circle cx="362.52" cy="150.59" r="0.85" fill="#60c3a1"/>
<circle cx="362.64" cy="150.43" r="0.85" fill="#60c3a1"/>
<circle cx="363.24" cy="150.35" r="0.85" fill="#60c3a1"/>
<circle cx="363.67" cy="149.86" r="0.85" fill="#60c3a1"/>
<circle cx="363.84" cy="149.74" r="0.85" fill="#60c3a1"/>
<circle cx="364.62" cy="149.06" r="0.85" fill="#60c3a1"/>
<circle cx="364.63" cy="149.19" r="0.85" fill="#60c3a1"/>
<circle cx="364.99" cy="148.51" r="0.85" fill="#60c3a1"/>
<circle cx="365.36" cy="148.77" r="0.85" fill="#60c3a1"/>
<circle cx="365.58" cy="147.86" r="0.85" fill="#60c3a1"/>
<circle cx="366.18" cy="147.51" r="0.85" fill="#60c3a1"/>
<circle cx="366.55" cy="147.21" r="0.85" fill="#60c3a1"/>
<circle cx="366.62" cy="146.96" r="0.85" fill="#60c3a1"/>
<circle cx="367.16" cy="146.84" r="0.85" fill="#60c3a1"/>
<circle cx="367.03" cy="146.08" r="0.85" fill="#60c3a1"/>
<circle cx="367.23" cy="145.62" r="0.85" fill="#60c3a1"/>
<circle cx="367.97" cy="145.3" r="0.85" fill="#60c3a1"/>
<circle cx="368.05" cy="145.1" r="0.85" fill="#60c3a1"/>
<circle cx="368.19" cy="144.43" r="0.85" fill="#60c3a1"/>
<circle cx="368.3" cy="144.16" r="0.85" fill="#60c3a1"/>
<circle cx="369.1" cy="143.77" r="0.85" fill="#60c3a1"/>
<circle cx="368.99" cy="143.79" r="0.85" fill="#60c3a1"/>
<circle cx="369.61" cy="142.87" r="0.85" fill="#60c3a1"/>
<circle cx="369.76" cy="142.68" r="0.85" fill="#60c3a1"/>
<circle cx="369.8" cy="142.51" r="0.85" fill="#60c3a1"/>
<circle cx="369.79" cy="141.93" r="0.85" fill="#60c3a1"/>
<circle cx="370.55" cy="141.79" r="0.85" fill="#60c3a1"/>
<circle cx="370.74" cy="141.11" r="0.85" fill="#60c3a1"/>
<circle cx="370.67" cy="140.98" r="0.85" fill="#60c3a1"/>
<circle cx="370.75" cy="140.06" r="0.85" fill="#60c3a1"/>
<circle cx="371.16" cy="140.17" r="0.85" fill="#60c3a1"/>
<circle cx="371.47" cy="139.72" r="0.85" fill="#60c3a1"/>
<circle cx="371.52" cy="138.95" r="0.85" fill="#60c3a1"/>
<circle cx="371.88" cy="138.38" r="0.85" fill="#60c3a1"/>
<circle cx="372.42" cy="138.45" r="0.85" fill="#60c3a1"/>
<circle cx="372.74" cy="137.98" r="0.85" fill="#60c3a1"/>
<circle cx="373.2" cy="138.07" r="0.85" fill="#60c3a1"/>
<circle cx="373.44" cy="137.76" r="0.85" fill="#60c3a1"/>
<circle cx="373.71" cy="137.9" r="0.85" fill="#60c3a1"/>
<circle cx="374.17" cy="137.31" r="0.85" fill="#60c3a1"/>
<circle cx="375.14" cy="137.08" r="0.85" fill="#60c3a1"/>
<circle cx="375.16" cy="137.17" r="0.85" fill="#60c3a1"/>
<circle cx="376.07" cy="137.26" r="0.85" fill="#60c3a1"/>
<circle cx="375.93" cy="136.79" r="0.85" fill="#60c3a1"/>
<circle cx="376.28" cy="136.3" r="0.85" fill="#60c3a1"/>
<circle cx="376.99" cy="135.85" r="0.85" fill="#60c3a1"/>
<circle cx="376.96" cy="135.94" r="0.85" fill="#60c3a1"/>
<circle cx="377.27" cy="135.11" r="0.85" fill="#60c3a1"/>
<circle cx="377.79" cy="134.93" r="0.85" fill="#60c3a1"/>
<circle cx="378.02" cy="134.53" r="0.85" fill="#60c3a1"/>
<circle cx="378.54" cy="134.63" r="0.85" fill="#60c3a1"/>
<circle cx="378.55" cy="133.81" r="0.85" fill="#60c3a1"/>
<circle cx="378.81" cy="133.69" r="0.85" fill="#60c3a1"/>
<circle cx="379.13" cy="133.12" r="0.85" fill="#60c3a1"/>
<circle cx="379.89" cy="133.21" r="0.85" fill="#60c3a1"/>
<circle cx="380.03" cy="132.88" r="0.85" fill="#60c3a1"/>
<circle cx="380.2" cy="132.4" r="0.85" fill="#60c3a1"/>
<circle cx="380.81" cy="132.01" r="0.85" fill="#60c3a1"/>
<circle cx="380.9" cy="131.4" r="0.85" fill="#60c3a1"/>
<circle cx="334.8" cy="153.5" r="0.7" fill="#60c3a1"/>
<circle cx="350.7" cy="162.5" r="0.7" fill="#60c3a1"/>
<circle cx="355.2" cy="157.5" r="0.7" fill="#60c3a1"/>
<rect x="297.2" y="184.3" width="84" height="37.5" fill="#fdfdf6"/>
<rect x="315" y="184.3" width="30" height="37.5" fill="#f8f7e4"/>
<rect x="298.2" y="184.3" width="0.52" height="37.5" fill="#f5f3dc"/>
<rect x="302.06" y="184.3" width="0.43" height="37.5" fill="#ecead0"/>
<rect x="303.89" y="184.3" width="0.67" height="37.5" fill="#f1efd2"/>
<rect x="307.28" y="184.3" width="0.45" height="37.5" fill="#ecead0"/>
<rect x="309.63" y="184.3" width="0.67" height="37.5" fill="#f1efd2"/>
<rect x="312.02" y="184.3" width="0.72" height="37.5" fill="#f1efd2"/>
<rect x="314.69" y="184.3" width="0.44" height="37.5" fill="#ecead0"/>
<rect x="316.4" y="184.3" width="0.32" height="37.5" fill="#ecead0"/>
<rect x="319.56" y="184.3" width="0.41" height="37.5" fill="#ecead0"/>
<rect x="322.46" y="184.3" width="0.52" height="37.5" fill="#f5f3dc"/>
<rect x="325.29" y="184.3" width="0.4" height="37.5" fill="#f1efd2"/>
<rect x="326.98" y="184.3" width="0.47" height="37.5" fill="#f5f3dc"/>
<rect x="330.38" y="184.3" width="0.76" height="37.5" fill="#f1efd2"/>
<rect x="333.67" y="184.3" width="0.77" height="37.5" fill="#ecead0"/>
<rect x="335.67" y="184.3" width="0.73" height="37.5" fill="#f5f3dc"/>
<rect x="337.72" y="184.3" width="0.33" height="37.5" fill="#f1efd2"/>
<rect x="340.05" y="184.3" width="0.34" height="37.5" fill="#ecead0"/>
<rect x="342.83" y="184.3" width="0.76" height="37.5" fill="#f1efd2"/>
<rect x="345.25" y="184.3" width="0.41" height="37.5" fill="#f5f3dc"/>
<rect x="348.76" y="184.3" width="0.53" height="37.5" fill="#ecead0"/>
<rect x="352.41" y="184.3" width="0.73" height="37.5" fill="#f5f3dc"/>
<rect x="354.83" y="184.3" width="0.68" height="37.5" fill="#ecead0"/>
<rect x="357.94" y="184.3" width="0.45" height="37.5" fill="#f1efd2"/>
<rect x="361.72" y="184.3" width="0.8" height="37.5" fill="#f1efd2"/>
<rect x="365.56" y="184.3" width="0.37" height="37.5" fill="#f5f3dc"/>
<rect x="367.23" y="184.3" width="0.42" height="37.5" fill="#f1efd2"/>
<rect x="369.81" y="184.3" width="0.39" height="37.5" fill="#f5f3dc"/>
<rect x="373.46" y="184.3" width="0.7" height="37.5" fill="#ecead0"/>
<rect x="376.53" y="184.3" width="0.43" height="37.5" fill="#ecead0"/>
<rect x="380.01" y="184.3" width="0.32" height="37.5" fill="#f5f3dc"/>
<rect x="297.2" y="184.3" width="84" height="37.5" fill="none" stroke="#9a9a9a" stroke-width="0.8"/>
<line x1="297.2" y1="221.8" x2="381.2" y2="221.8" stroke="#8c8c8c" stroke-width="1.3"/>
<text x="294.8" y="184.4" font-size="3.4" fill="#111" text-anchor="end" dominant-baseline="central">0</text>
<line x1="296.1" y1="184.4" x2="297.2" y2="184.4" stroke="#333" stroke-width="0.4"/>
<text x="294.8" y="195.3" font-size="3.4" fill="#111" text-anchor="end" dominant-baseline="central">25</text>
<line x1="296.1" y1="195.3" x2="297.2" y2="195.3" stroke="#333" stroke-width="0.4"/>
<text x="294.8" y="206.2" font-size="3.4" fill="#111" text-anchor="end" dominant-baseline="central">50</text>
<line x1="296.1" y1="206.2" x2="297.2" y2="206.2" stroke="#333" stroke-width="0.4"/>
<text x="294.8" y="217.1" font-size="3.4" fill="#111" text-anchor="end" dominant-baseline="central">75</text>
<line x1="296.1" y1="217.1" x2="297.2" y2="217.1" stroke="#333" stroke-width="0.4"/>
<text x="338.2" y="188.5" font-size="3.2" fill="#555" text-anchor="middle" dominant-baseline="central">ρ=0.993</text>
<circle cx="298.98" cy="221.6" r="0.8" fill="#fc8d62"/>
<circle cx="299.77" cy="221.78" r="0.8" fill="#fc8d62"/>
<circle cx="301.71" cy="221.56" r="0.8" fill="#fc8d62"/>
<circle cx="302.62" cy="220.91" r="0.8" fill="#fc8d62"/>
<circle cx="303.46" cy="221.05" r="0.8" fill="#fc8d62"/>
<circle cx="303.74" cy="221" r="0.8" fill="#fc8d62"/>
<circle cx="304.8" cy="220.67" r="0.8" fill="#fc8d62"/>
<circle cx="305.34" cy="220.42" r="0.8" fill="#fc8d62"/>
<circle cx="306.1" cy="219.71" r="0.8" fill="#fc8d62"/>
<circle cx="307" cy="219.48" r="0.8" fill="#fc8d62"/>
<circle cx="308.21" cy="219.4" r="0.8" fill="#fc8d62"/>
<circle cx="310.02" cy="219.14" r="0.8" fill="#fc8d62"/>
<circle cx="310.4" cy="219.22" r="0.8" fill="#fc8d62"/>
<circle cx="311.5" cy="218.72" r="0.8" fill="#fc8d62"/>
<circle cx="315.43" cy="218.01" r="0.8" fill="#fc8d62"/>
<circle cx="316.69" cy="217.28" r="0.8" fill="#fc8d62"/>
<circle cx="317.5" cy="217.28" r="0.8" fill="#fc8d62"/>
<circle cx="318.36" cy="217.53" r="0.8" fill="#fc8d62"/>
<circle cx="320.92" cy="216.69" r="0.8" fill="#fc8d62"/>
<circle cx="321.73" cy="216.06" r="0.8" fill="#fc8d62"/>
<circle cx="322.87" cy="215.88" r="0.8" fill="#fc8d62"/>
<circle cx="323.69" cy="216.11" r="0.8" fill="#fc8d62"/>
<circle cx="324.55" cy="215.41" r="0.8" fill="#fc8d62"/>
<circle cx="325.24" cy="215.91" r="0.8" fill="#fc8d62"/>
<circle cx="326.04" cy="215.17" r="0.8" fill="#fc8d62"/>
<circle cx="327.1" cy="215.35" r="0.8" fill="#fc8d62"/>
<circle cx="328.34" cy="215.54" r="0.8" fill="#fc8d62"/>
<circle cx="328.9" cy="215.17" r="0.8" fill="#fc8d62"/>
<circle cx="329.61" cy="214.9" r="0.8" fill="#fc8d62"/>
<circle cx="330.23" cy="214.93" r="0.8" fill="#fc8d62"/>
<circle cx="331.46" cy="214.73" r="0.8" fill="#fc8d62"/>
<circle cx="332.55" cy="214.7" r="0.8" fill="#fc8d62"/>
<circle cx="333.5" cy="214.47" r="0.8" fill="#fc8d62"/>
<circle cx="333.64" cy="214.01" r="0.8" fill="#fc8d62"/>
<circle cx="336.16" cy="213.55" r="0.8" fill="#fc8d62"/>
<circle cx="337.4" cy="213.69" r="0.8" fill="#fc8d62"/>
<circle cx="338.6" cy="213.18" r="0.8" fill="#fc8d62"/>
<circle cx="339.89" cy="212.68" r="0.8" fill="#fc8d62"/>
<circle cx="340.46" cy="212.3" r="0.8" fill="#fc8d62"/>
<circle cx="340.95" cy="211.82" r="0.8" fill="#fc8d62"/>
<circle cx="341.71" cy="212.1" r="0.8" fill="#fc8d62"/>
<circle cx="342.8" cy="211.59" r="0.8" fill="#fc8d62"/>
<circle cx="343.95" cy="211.31" r="0.8" fill="#fc8d62"/>
<circle cx="346.5" cy="210.93" r="0.8" fill="#fc8d62"/>
<circle cx="346.73" cy="210.97" r="0.8" fill="#fc8d62"/>
<circle cx="349.33" cy="210.1" r="0.8" fill="#fc8d62"/>
<circle cx="351.17" cy="210.02" r="0.8" fill="#fc8d62"/>
<circle cx="351.89" cy="209.37" r="0.8" fill="#fc8d62"/>
<circle cx="352.73" cy="209.29" r="0.8" fill="#fc8d62"/>
<circle cx="354.28" cy="208.92" r="0.8" fill="#fc8d62"/>
<circle cx="355.52" cy="208.3" r="0.8" fill="#fc8d62"/>
<circle cx="355.72" cy="208.17" r="0.8" fill="#fc8d62"/>
<circle cx="356.53" cy="207.78" r="0.8" fill="#fc8d62"/>
<circle cx="357.24" cy="206.75" r="0.8" fill="#fc8d62"/>
<circle cx="358.23" cy="206.51" r="0.8" fill="#fc8d62"/>
<circle cx="358.56" cy="206.17" r="0.8" fill="#fc8d62"/>
<circle cx="359.14" cy="205.16" r="0.8" fill="#fc8d62"/>
<circle cx="359.73" cy="204.7" r="0.8" fill="#fc8d62"/>
<circle cx="360.88" cy="204.64" r="0.8" fill="#fc8d62"/>
<circle cx="361.07" cy="203.51" r="0.8" fill="#fc8d62"/>
<circle cx="361.77" cy="202.98" r="0.8" fill="#fc8d62"/>
<circle cx="362.77" cy="202.73" r="0.8" fill="#fc8d62"/>
<circle cx="363.47" cy="202.07" r="0.8" fill="#fc8d62"/>
<circle cx="364.97" cy="200.9" r="0.8" fill="#fc8d62"/>
<circle cx="366.13" cy="200.22" r="0.8" fill="#fc8d62"/>
<circle cx="366.28" cy="199.54" r="0.8" fill="#fc8d62"/>
<circle cx="367.74" cy="197.95" r="0.8" fill="#fc8d62"/>
<circle cx="367.88" cy="197.74" r="0.8" fill="#fc8d62"/>
<circle cx="368.79" cy="196.97" r="0.8" fill="#fc8d62"/>
<circle cx="368.81" cy="196.03" r="0.8" fill="#fc8d62"/>
<circle cx="369.32" cy="195.44" r="0.8" fill="#fc8d62"/>
<circle cx="370.27" cy="194.69" r="0.8" fill="#fc8d62"/>
<circle cx="370.73" cy="194.07" r="0.8" fill="#fc8d62"/>
<circle cx="370.91" cy="193.36" r="0.8" fill="#fc8d62"/>
<circle cx="372.02" cy="192.8" r="0.8" fill="#fc8d62"/>
<circle cx="371.98" cy="191.89" r="0.8" fill="#fc8d62"/>
<circle cx="372.74" cy="191.15" r="0.8" fill="#fc8d62"/>
<circle cx="373.48" cy="190.72" r="0.8" fill="#fc8d62"/>
<circle cx="375.16" cy="189.76" r="0.8" fill="#fc8d62"/>
<circle cx="376.32" cy="188.74" r="0.8" fill="#fc8d62"/>
<circle cx="376.37" cy="187.93" r="0.8" fill="#fc8d62"/>
<circle cx="376.99" cy="187.44" r="0.8" fill="#fc8d62"/>
<circle cx="378.12" cy="186.87" r="0.8" fill="#fc8d62"/>
<circle cx="378.4" cy="186.27" r="0.8" fill="#fc8d62"/>
<circle cx="378.73" cy="185.45" r="0.8" fill="#fc8d62"/>
<circle cx="379.24" cy="184.55" r="0.8" fill="#fc8d62"/>
<circle cx="379.85" cy="184.25" r="0.8" fill="#fc8d62"/>
<circle cx="334.8" cy="205.9" r="0.7" fill="#fc8d62"/>
<circle cx="349.5" cy="205.9" r="0.7" fill="#fc8d62"/>
<circle cx="349.5" cy="212.7" r="0.7" fill="#fc8d62"/>
<rect x="297.2" y="226.3" width="84" height="4.6" fill="#fdfdf6"/>
<rect x="298.2" y="226.3" width="0.51" height="4.6" fill="#f5f3dc"/>
<rect x="301.09" y="226.3" width="0.41" height="4.6" fill="#f5f3dc"/>
<rect x="303.92" y="226.3" width="0.58" height="4.6" fill="#f5f3dc"/>
<rect x="307.59" y="226.3" width="0.52" height="4.6" fill="#f1efd2"/>
<rect x="309.48" y="226.3" width="0.58" height="4.6" fill="#f5f3dc"/>
<rect x="311.71" y="226.3" width="0.54" height="4.6" fill="#ecead0"/>
<rect x="313.55" y="226.3" width="0.36" height="4.6" fill="#ecead0"/>
<rect x="316.8" y="226.3" width="0.37" height="4.6" fill="#ecead0"/>
<rect x="320.26" y="226.3" width="0.37" height="4.6" fill="#f5f3dc"/>
<rect x="322.68" y="226.3" width="0.63" height="4.6" fill="#ecead0"/>
<rect x="325.03" y="226.3" width="0.76" height="4.6" fill="#ecead0"/>
<rect x="327.52" y="226.3" width="0.52" height="4.6" fill="#f1efd2"/>
<rect x="330.85" y="226.3" width="0.68" height="4.6" fill="#f5f3dc"/>
<rect x="333.31" y="226.3" width="0.46" height="4.6" fill="#f5f3dc"/>
<rect x="334.99" y="226.3" width="0.67" height="4.6" fill="#f1efd2"/>
<rect x="337.45" y="226.3" width="0.74" height="4.6" fill="#f1efd2"/>
<rect x="339.81" y="226.3" width="0.7" height="4.6" fill="#ecead0"/>
<rect x="343.58" y="226.3" width="0.52" height="4.6" fill="#f1efd2"/>
<rect x="346.48" y="226.3" width="0.68" height="4.6" fill="#ecead0"/>
<rect x="350.62" y="226.3" width="0.46" height="4.6" fill="#f1efd2"/>
<rect x="352.96" y="226.3" width="0.48" height="4.6" fill="#f5f3dc"/>
<rect x="355.97" y="226.3" width="0.65" height="4.6" fill="#ecead0"/>
<rect x="359.63" y="226.3" width="0.45" height="4.6" fill="#f1efd2"/>
<rect x="361.89" y="226.3" width="0.53" height="4.6" fill="#f1efd2"/>
<rect x="365.61" y="226.3" width="0.37" height="4.6" fill="#f1efd2"/>
<rect x="367.82" y="226.3" width="0.66" height="4.6" fill="#ecead0"/>
<rect x="371.3" y="226.3" width="0.62" height="4.6" fill="#ecead0"/>
<rect x="375.1" y="226.3" width="0.8" height="4.6" fill="#ecead0"/>
<rect x="378.41" y="226.3" width="0.5" height="4.6" fill="#f1efd2"/>
<rect x="297.2" y="226.3" width="84" height="4.6" fill="none" stroke="#9a9a9a" stroke-width="0.8"/>
<line x1="297.2" y1="230.9" x2="381.2" y2="230.9" stroke="#8c8c8c" stroke-width="1.0"/>
<text x="294.8" y="227" font-size="3.4" fill="#111" text-anchor="end" dominant-baseline="central">0</text>
<line x1="296.1" y1="227" x2="297.2" y2="227" stroke="#333" stroke-width="0.4"/>
<circle cx="297.65" cy="230.75" r="0.75" fill="#fc8d62"/>
<circle cx="298.09" cy="230.22" r="0.75" fill="#fc8d62"/>
<circle cx="298.71" cy="229.99" r="0.75" fill="#fc8d62"/>
<circle cx="299.26" cy="229.64" r="0.75" fill="#fc8d62"/>
<circle cx="299.79" cy="229.09" r="0.75" fill="#fc8d62"/>
<circle cx="300.27" cy="228.53" r="0.75" fill="#fc8d62"/>
<circle cx="300.56" cy="228.36" r="0.75" fill="#fc8d62"/>
<circle cx="301.2" cy="228.05" r="0.75" fill="#fc8d62"/>
<circle cx="301.99" cy="227.51" r="0.75" fill="#fc8d62"/>
<text x="338.2" y="230.9" font-size="3.2" fill="#555" text-anchor="middle" dominant-baseline="central">ρ=0.998</text>
<rect x="297.2" y="236.5" width="84" height="11.4" fill="#fdfdf6"/>
<rect x="315" y="236.5" width="30" height="11.4" fill="#f8f7e4"/>
<rect x="298.2" y="236.5" width="0.34" height="11.4" fill="#f5f3dc"/>
<rect x="301.86" y="236.5" width="0.69" height="11.4" fill="#f5f3dc"/>
<rect x="304.34" y="236.5" width="0.73" height="11.4" fill="#ecead0"/>
<rect x="306.49" y="236.5" width="0.73" height="11.4" fill="#f5f3dc"/>
<rect x="308.85" y="236.5" width="0.56" height="11.4" fill="#ecead0"/>
<rect x="310.77" y="236.5" width="0.48" height="11.4" fill="#f1efd2"/>
<rect x="313.39" y="236.5" width="0.65" height="11.4" fill="#ecead0"/>
<rect x="316.4" y="236.5" width="0.56" height="11.4" fill="#f5f3dc"/>
<rect x="320.42" y="236.5" width="0.49" height="11.4" fill="#f1efd2"/>
<rect x="323.74" y="236.5" width="0.65" height="11.4" fill="#ecead0"/>
<rect x="326.06" y="236.5" width="0.46" height="11.4" fill="#f5f3dc"/>
<rect x="329.9" y="236.5" width="0.4" height="11.4" fill="#f1efd2"/>
<rect x="331.96" y="236.5" width="0.76" height="11.4" fill="#ecead0"/>
<rect x="335.94" y="236.5" width="0.7" height="11.4" fill="#f5f3dc"/>
<rect x="338.01" y="236.5" width="0.34" height="11.4" fill="#f5f3dc"/>
<rect x="339.6" y="236.5" width="0.36" height="11.4" fill="#f5f3dc"/>
<rect x="342.55" y="236.5" width="0.33" height="11.4" fill="#f5f3dc"/>
<rect x="345.36" y="236.5" width="0.35" height="11.4" fill="#ecead0"/>
<rect x="347.89" y="236.5" width="0.54" height="11.4" fill="#f5f3dc"/>
<rect x="351.45" y="236.5" width="0.74" height="11.4" fill="#ecead0"/>
<rect x="355.62" y="236.5" width="0.39" height="11.4" fill="#f5f3dc"/>
<rect x="359.07" y="236.5" width="0.71" height="11.4" fill="#f5f3dc"/>
<rect x="362.07" y="236.5" width="0.46" height="11.4" fill="#ecead0"/>
<rect x="364.79" y="236.5" width="0.32" height="11.4" fill="#ecead0"/>
<rect x="367.76" y="236.5" width="0.67" height="11.4" fill="#f5f3dc"/>
<rect x="371.62" y="236.5" width="0.47" height="11.4" fill="#f5f3dc"/>
<rect x="375.14" y="236.5" width="0.31" height="11.4" fill="#f1efd2"/>
<rect x="377.04" y="236.5" width="0.38" height="11.4" fill="#ecead0"/>
<rect x="380.13" y="236.5" width="0.78" height="11.4" fill="#ecead0"/>
<rect x="297.2" y="236.5" width="84" height="11.4" fill="none" stroke="#9a9a9a" stroke-width="0.8"/>
<line x1="297.2" y1="247.9" x2="381.2" y2="247.9" stroke="#8c8c8c" stroke-width="1.3"/>
<text x="294.8" y="236.7" font-size="3.4" fill="#111" text-anchor="end" dominant-baseline="central">50</text>
<line x1="296.1" y1="236.7" x2="297.2" y2="236.7" stroke="#333" stroke-width="0.4"/>
<text x="294.8" y="247.7" font-size="3.4" fill="#111" text-anchor="end" dominant-baseline="central">0</text>
<line x1="296.1" y1="247.7" x2="297.2" y2="247.7" stroke="#333" stroke-width="0.4"/>
<text x="338.2" y="240" font-size="3.2" fill="#555" text-anchor="middle" dominant-baseline="central">ρ=1.000</text>
<circle cx="349.29" cy="247.73" r="0.8" fill="#8da0cb"/>
<circle cx="350.39" cy="247.48" r="0.8" fill="#8da0cb"/>
<circle cx="351.03" cy="247.41" r="0.8" fill="#8da0cb"/>
<circle cx="351.52" cy="247.58" r="0.8" fill="#8da0cb"/>
<circle cx="351.97" cy="247.07" r="0.8" fill="#8da0cb"/>
<circle cx="352.61" cy="246.99" r="0.8" fill="#8da0cb"/>
<circle cx="353.4" cy="246.96" r="0.8" fill="#8da0cb"/>
<circle cx="353.88" cy="246.97" r="0.8" fill="#8da0cb"/>
<circle cx="354.69" cy="247.18" r="0.8" fill="#8da0cb"/>
<circle cx="355.15" cy="246.99" r="0.8" fill="#8da0cb"/>
<circle cx="356.25" cy="246.96" r="0.8" fill="#8da0cb"/>
<circle cx="356.51" cy="246.53" r="0.8" fill="#8da0cb"/>
<circle cx="357.24" cy="246.25" r="0.8" fill="#8da0cb"/>
<circle cx="358.17" cy="246.41" r="0.8" fill="#8da0cb"/>
<circle cx="358.71" cy="246.15" r="0.8" fill="#8da0cb"/>
<circle cx="359.42" cy="245.8" r="0.8" fill="#8da0cb"/>
<circle cx="359.58" cy="245.58" r="0.8" fill="#8da0cb"/>
<circle cx="360.4" cy="245.59" r="0.8" fill="#8da0cb"/>
<circle cx="360.8" cy="245.4" r="0.8" fill="#8da0cb"/>
<circle cx="361.6" cy="244.78" r="0.8" fill="#8da0cb"/>
<circle cx="362.35" cy="244.99" r="0.8" fill="#8da0cb"/>
<circle cx="362.98" cy="244.71" r="0.8" fill="#8da0cb"/>
<circle cx="363.53" cy="244.36" r="0.8" fill="#8da0cb"/>
<circle cx="363.96" cy="244.43" r="0.8" fill="#8da0cb"/>
<circle cx="364.87" cy="243.9" r="0.8" fill="#8da0cb"/>
<circle cx="365.32" cy="243.94" r="0.8" fill="#8da0cb"/>
<circle cx="366.21" cy="243.99" r="0.8" fill="#8da0cb"/>
<circle cx="366.71" cy="243.63" r="0.8" fill="#8da0cb"/>
<circle cx="367.49" cy="243.22" r="0.8" fill="#8da0cb"/>
<circle cx="368.26" cy="243.22" r="0.8" fill="#8da0cb"/>
<circle cx="368.91" cy="243.31" r="0.8" fill="#8da0cb"/>
<circle cx="369.47" cy="242.78" r="0.8" fill="#8da0cb"/>
<circle cx="369.92" cy="242.79" r="0.8" fill="#8da0cb"/>
<circle cx="370.49" cy="242.62" r="0.8" fill="#8da0cb"/>
<circle cx="371.12" cy="242.52" r="0.8" fill="#8da0cb"/>
<circle cx="371.97" cy="242.4" r="0.8" fill="#8da0cb"/>
<circle cx="372.66" cy="242.32" r="0.8" fill="#8da0cb"/>
<circle cx="373.09" cy="242.17" r="0.8" fill="#8da0cb"/>
<circle cx="373.95" cy="241.8" r="0.8" fill="#8da0cb"/>
<circle cx="374.55" cy="241.91" r="0.8" fill="#8da0cb"/>
<circle cx="374.94" cy="241.74" r="0.8" fill="#8da0cb"/>
<circle cx="375.91" cy="241.84" r="0.8" fill="#8da0cb"/>
<circle cx="376.44" cy="241.88" r="0.8" fill="#8da0cb"/>
<circle cx="377.13" cy="241.35" r="0.8" fill="#8da0cb"/>
<circle cx="377.8" cy="241.52" r="0.8" fill="#8da0cb"/>
<circle cx="378.53" cy="241.49" r="0.8" fill="#8da0cb"/>
<circle cx="379.17" cy="241.13" r="0.8" fill="#8da0cb"/>
<circle cx="379.79" cy="241.13" r="0.8" fill="#8da0cb"/>
<circle cx="380.17" cy="241.31" r="0.8" fill="#8da0cb"/>
<circle cx="381.16" cy="241.33" r="0.8" fill="#8da0cb"/>
<circle cx="334.8" cy="246.8" r="0.7" fill="#8da0cb"/>
<circle cx="320" cy="247.5" r="0.7" fill="#8da0cb"/>
<rect x="297.2" y="252.5" width="84" height="5.6" fill="#fdfdf6"/>
<rect x="298.2" y="252.5" width="0.67" height="5.6" fill="#ecead0"/>
<rect x="301.79" y="252.5" width="0.75" height="5.6" fill="#f1efd2"/>
<rect x="305.14" y="252.5" width="0.42" height="5.6" fill="#f5f3dc"/>
<rect x="307.37" y="252.5" width="0.73" height="5.6" fill="#f5f3dc"/>
<rect x="310.31" y="252.5" width="0.58" height="5.6" fill="#f1efd2"/>
<rect x="313.36" y="252.5" width="0.69" height="5.6" fill="#f1efd2"/>
<rect x="315.34" y="252.5" width="0.67" height="5.6" fill="#f1efd2"/>
<rect x="319.2" y="252.5" width="0.33" height="5.6" fill="#ecead0"/>
<rect x="321.14" y="252.5" width="0.69" height="5.6" fill="#f1efd2"/>
<rect x="324.25" y="252.5" width="0.51" height="5.6" fill="#ecead0"/>
<rect x="326.82" y="252.5" width="0.36" height="5.6" fill="#ecead0"/>
<rect x="330.45" y="252.5" width="0.78" height="5.6" fill="#ecead0"/>
<rect x="334.73" y="252.5" width="0.37" height="5.6" fill="#ecead0"/>
<rect x="337.1" y="252.5" width="0.69" height="5.6" fill="#f1efd2"/>
<rect x="339.01" y="252.5" width="0.77" height="5.6" fill="#f5f3dc"/>
<rect x="342.72" y="252.5" width="0.65" height="5.6" fill="#f1efd2"/>
<rect x="345.02" y="252.5" width="0.51" height="5.6" fill="#f5f3dc"/>
<rect x="347.02" y="252.5" width="0.67" height="5.6" fill="#f5f3dc"/>
<rect x="349.29" y="252.5" width="0.7" height="5.6" fill="#f1efd2"/>
<rect x="353.35" y="252.5" width="0.51" height="5.6" fill="#f1efd2"/>
<rect x="356.81" y="252.5" width="0.35" height="5.6" fill="#ecead0"/>
<rect x="359.18" y="252.5" width="0.48" height="5.6" fill="#f5f3dc"/>
<rect x="362.87" y="252.5" width="0.74" height="5.6" fill="#ecead0"/>
<rect x="365.36" y="252.5" width="0.49" height="5.6" fill="#f5f3dc"/>
<rect x="368.93" y="252.5" width="0.55" height="5.6" fill="#f5f3dc"/>
<rect x="371.56" y="252.5" width="0.62" height="5.6" fill="#f1efd2"/>
<rect x="373.44" y="252.5" width="0.56" height="5.6" fill="#f1efd2"/>
<rect x="376.23" y="252.5" width="0.41" height="5.6" fill="#f5f3dc"/>
<rect x="379.2" y="252.5" width="0.79" height="5.6" fill="#f5f3dc"/>
<rect x="297.2" y="252.5" width="84" height="5.6" fill="none" stroke="#9a9a9a" stroke-width="0.8"/>
<line x1="297.2" y1="258.1" x2="381.2" y2="258.1" stroke="#8c8c8c" stroke-width="1.0"/>
<text x="294.8" y="253" font-size="3.4" fill="#111" text-anchor="end" dominant-baseline="central">0</text>
<line x1="296.1" y1="253" x2="297.2" y2="253" stroke="#333" stroke-width="0.4"/>
<text x="338.2" y="255.9" font-size="3.2" fill="#555" text-anchor="middle" dominant-baseline="central">ρ=0.998</text>
<circle cx="297.42" cy="257.44" r="0.75" fill="#8da0cb"/>
<circle cx="298.18" cy="257.43" r="0.75" fill="#8da0cb"/>
<circle cx="299.2" cy="257.07" r="0.75" fill="#8da0cb"/>
<circle cx="300.15" cy="256.81" r="0.75" fill="#8da0cb"/>
<circle cx="303.95" cy="255.89" r="0.8" fill="#8da0cb"/>
<circle cx="304.77" cy="255.8" r="0.8" fill="#8da0cb"/>
<circle cx="305.03" cy="255.33" r="0.8" fill="#8da0cb"/>
<circle cx="305.69" cy="255.19" r="0.8" fill="#8da0cb"/>
<circle cx="306.03" cy="255.06" r="0.8" fill="#8da0cb"/>
<circle cx="306.47" cy="254.7" r="0.8" fill="#8da0cb"/>
<circle cx="307.06" cy="254.54" r="0.8" fill="#8da0cb"/>
<circle cx="307.49" cy="254.25" r="0.8" fill="#8da0cb"/>
<circle cx="308.26" cy="253.94" r="0.8" fill="#8da0cb"/>
<circle cx="308.63" cy="253.8" r="0.8" fill="#8da0cb"/>
<rect x="297.2" y="262.8" width="84" height="7.6" rx="2.8" fill="#f7f7f7"/>
<rect x="302" y="263.5" width="7" height="6.2" fill="#d6d6d6"/>
<rect x="302" y="263.5" width="0.4" height="6.2" fill="#c4c4c4"/>
<rect x="303.62" y="263.5" width="0.4" height="6.2" fill="#c4c4c4"/>
<rect x="304.54" y="263.5" width="0.4" height="6.2" fill="#c4c4c4"/>
<rect x="305.54" y="263.5" width="0.4" height="6.2" fill="#c4c4c4"/>
<rect x="307.06" y="263.5" width="0.4" height="6.2" fill="#c4c4c4"/>
<rect x="308.26" y="263.5" width="0.4" height="6.2" fill="#c4c4c4"/>
<rect x="317" y="263.5" width="6" height="6.2" fill="#d6d6d6"/>
<rect x="317" y="263.5" width="0.4" height="6.2" fill="#c4c4c4"/>
<rect x="318.75" y="263.5" width="0.4" height="6.2" fill="#c4c4c4"/>
<rect x="320.58" y="263.5" width="0.4" height="6.2" fill="#c4c4c4"/>
<rect x="321.88" y="263.5" width="0.4" height="6.2" fill="#c4c4c4"/>
<rect x="325" y="263.5" width="11" height="6.2" fill="#d6d6d6"/>
<rect x="325" y="263.5" width="0.4" height="6.2" fill="#c4c4c4"/>
<rect x="326.48" y="263.5" width="0.4" height="6.2" fill="#c4c4c4"/>
<rect x="328.28" y="263.5" width="0.4" height="6.2" fill="#c4c4c4"/>
<rect x="329.46" y="263.5" width="0.4" height="6.2" fill="#c4c4c4"/>
<rect x="330.92" y="263.5" width="0.4" height="6.2" fill="#c4c4c4"/>
<rect x="332.25" y="263.5" width="0.4" height="6.2" fill="#c4c4c4"/>
<rect x="333.54" y="263.5" width="0.4" height="6.2" fill="#c4c4c4"/>
<rect x="334.81" y="263.5" width="0.4" height="6.2" fill="#c4c4c4"/>
<rect x="344" y="263.5" width="7" height="6.2" fill="#d6d6d6"/>
<rect x="344" y="263.5" width="0.4" height="6.2" fill="#c4c4c4"/>
<rect x="344.98" y="263.5" width="0.4" height="6.2" fill="#c4c4c4"/>
<rect x="345.95" y="263.5" width="0.4" height="6.2" fill="#c4c4c4"/>
<rect x="347.12" y="263.5" width="0.4" height="6.2" fill="#c4c4c4"/>
<rect x="348.75" y="263.5" width="0.4" height="6.2" fill="#c4c4c4"/>
<rect x="350.35" y="263.5" width="0.4" height="6.2" fill="#c4c4c4"/>
<rect x="358" y="263.5" width="11" height="6.2" fill="#d6d6d6"/>
<rect x="358" y="263.5" width="0.4" height="6.2" fill="#c4c4c4"/>
<rect x="359.67" y="263.5" width="0.4" height="6.2" fill="#c4c4c4"/>
<rect x="361.45" y="263.5" width="0.4" height="6.2" fill="#c4c4c4"/>
<rect x="362.37" y="263.5" width="0.4" height="6.2" fill="#c4c4c4"/>
<rect x="363.64" y="263.5" width="0.4" height="6.2" fill="#c4c4c4"/>
<rect x="365.19" y="263.5" width="0.4" height="6.2" fill="#c4c4c4"/>
<rect x="366.06" y="263.5" width="0.4" height="6.2" fill="#c4c4c4"/>
<rect x="367.91" y="263.5" width="0.4" height="6.2" fill="#c4c4c4"/>
<rect x="297.2" y="262.8" width="84" height="7.6" rx="2.8" fill="none" stroke="#111" stroke-width="1.2"/>
<text x="8.3" y="329" font-size="9.0" fill="#000" text-anchor="middle" dominant-baseline="central" font-weight="bold">(e)</text>
<rect x="46.5" y="323.5" width="334.3" height="187.5" fill="none" stroke="#666" stroke-width="0.8"/>
<line x1="41.2" y1="504.8" x2="46.5" y2="504.8" stroke="#444" stroke-width="0.8"/>
<line x1="41.2" y1="484.7" x2="46.5" y2="484.7" stroke="#444" stroke-width="0.8"/>
<line x1="41.2" y1="464.6" x2="46.5" y2="464.6" stroke="#444" stroke-width="0.8"/>
<line x1="41.2" y1="444.5" x2="46.5" y2="444.5" stroke="#444" stroke-width="0.8"/>
<line x1="41.2" y1="424.4" x2="46.5" y2="424.4" stroke="#444" stroke-width="0.8"/>
<line x1="41.2" y1="404.3" x2="46.5" y2="404.3" stroke="#444" stroke-width="0.8"/>
<line x1="41.2" y1="384.2" x2="46.5" y2="384.2" stroke="#444" stroke-width="0.8"/>
<line x1="41.2" y1="364.1" x2="46.5" y2="364.1" stroke="#444" stroke-width="0.8"/>
<line x1="41.2" y1="344" x2="46.5" y2="344" stroke="#444" stroke-width="0.8"/>
<line x1="41.2" y1="323.9" x2="46.5" y2="323.9" stroke="#444" stroke-width="0.8"/>
<text x="30.7" y="505.7" font-size="6.7" fill="#5a5a5a" text-anchor="middle" dominant-baseline="central">0</text>
<text x="30.7" y="465.5" font-size="6.7" fill="#5a5a5a" text-anchor="middle" dominant-baseline="central">2</text>
<text x="30.7" y="425.3" font-size="6.7" fill="#5a5a5a" text-anchor="middle" dominant-baseline="central">4</text>
<text x="30.7" y="385.1" font-size="6.7" fill="#5a5a5a" text-anchor="middle" dominant-baseline="central">6</text>
<text x="30.7" y="344.9" font-size="6.7" fill="#5a5a5a" text-anchor="middle" dominant-baseline="central">8</text>
<text x="8.4" y="424" font-size="8.6" fill="#000" text-anchor="middle" dominant-baseline="central" font-weight="bold" font-style="italic" transform="rotate(-90 8.4 424)"><tspan>-log</tspan><tspan font-size="5.8" dy="2">10</tspan><tspan dy="-2">(p-value)</tspan></text>
<line x1="55.8" y1="511" x2="55.8" y2="515" stroke="#444" stroke-width="0.8"/>
<line x1="75.2" y1="511" x2="75.2" y2="515" stroke="#444" stroke-width="0.8"/>
<line x1="93.9" y1="511" x2="93.9" y2="515" stroke="#444" stroke-width="0.8"/>
<line x1="110.9" y1="511" x2="110.9" y2="515" stroke="#444" stroke-width="0.8"/>
<line x1="127.1" y1="511" x2="127.1" y2="515" stroke="#444" stroke-width="0.8"/>
<line x1="141.7" y1="511" x2="141.7" y2="515" stroke="#444" stroke-width="0.8"/>
<line x1="154.2" y1="511" x2="154.2" y2="515" stroke="#444" stroke-width="0.8"/>
<line x1="166.5" y1="511" x2="166.5" y2="515" stroke="#444" stroke-width="0.8"/>
<line x1="177.9" y1="511" x2="177.9" y2="515" stroke="#444" stroke-width="0.8"/>
<line x1="188.3" y1="511" x2="188.3" y2="515" stroke="#444" stroke-width="0.8"/>
<line x1="197.3" y1="511" x2="197.3" y2="515" stroke="#444" stroke-width="0.8"/>
<line x1="206.2" y1="511" x2="206.2" y2="515" stroke="#444" stroke-width="0.8"/>
<line x1="214" y1="511" x2="214" y2="515" stroke="#444" stroke-width="0.8"/>
<line x1="221.3" y1="511" x2="221.3" y2="515" stroke="#444" stroke-width="0.8"/>
<line x1="228.7" y1="511" x2="228.7" y2="515" stroke="#444" stroke-width="0.8"/>
<line x1="235.5" y1="511" x2="235.5" y2="515" stroke="#444" stroke-width="0.8"/>
<line x1="241.6" y1="511" x2="241.6" y2="515" stroke="#444" stroke-width="0.8"/>
<line x1="371.5" y1="511" x2="371.5" y2="515" stroke="#444" stroke-width="0.8"/>
<polygon points="54.9,506.6 54.1,503 54.1,475.5 54.6,474.97 55.1,474.45 55.6,473.92 56.1,473.1 56.6,471.1 57.1,469.1 57.6,466.83 58.1,463.5 58.6,460.17 59.1,457.5 59.6,457.5 60.1,457.5 60.6,458.17 61.1,461.5 61.6,464.83 62.1,467.9 62.6,469.9 63.1,471.57 63.6,471.9 64.1,472.23 64.6,472.57 65.1,472.9 65.6,473.23 66.1,473.5 66.6,473.5 67.1,473.5 67.6,473.5 68.1,473.5 68.6,473.5 69.1,473.5 69.6,473.5 70.1,473.5 70.6,473.5 71.1,473.5 71.6,473.5 72.1,473.5 72.6,473.5 73.1,473.5 73.3,473.5 73.3,503 72.5,506.6" fill="#696969"/>
<polygon points="74.1,506.6 73.3,503 73.3,472.5 73.8,472.39 74.3,472.29 74.8,472.18 75.3,472.07 75.8,471.97 76.3,471.86 76.8,471.76 77.3,471.65 77.8,471.54 78.3,471.5 78.8,471.5 79.3,471.5 79.8,471.5 80.3,471.5 80.8,471.5 81.3,471.5 81.8,471.5 82.3,471.5 82.8,471.5 83.3,471.5 83.8,471.5 84.3,471.5 84.8,471.5 85.3,471.54 85.8,471.61 86.3,471.69 86.8,471.76 87.3,471.83 87.8,471.9 88.3,471.97 88.8,472.04 89.3,472.11 89.8,472.19 90.3,472.26 90.8,472.33 91.3,472.4 91.8,472.47 92,472.5 92,503 91.2,506.6" fill="#000083"/>
<polygon points="92.8,506.6 92,503 92,472.5 92.5,471.25 93,470 93.5,468.75 94,467.5 94.5,464.75 95,462 95.5,459.25 96,456.5 96.5,456.5 97,456.5 97.5,456.5 98,456.5 98.5,457.75 99,459 99.5,460.25 100,461.5 100.5,462.5 101,463.5 101.5,464.5 102,465.5 102.5,466.5 103,467.5 103.5,468 104,468.5 104.5,469 105,469.5 105.5,470 106,470.5 106.5,470.94 107,471.38 107.5,471.82 108,472.26 108.5,472.71 109,473.15 109.4,473.5 109.4,503 108.6,506.6" fill="#696969"/>
<polygon points="110.2,506.6 109.4,503 109.4,476.5 109.9,475.81 110.4,475.11 110.9,474.42 111.4,473.72 111.9,473.03 112.4,472.33 112.9,471.64 113.4,471.34 113.9,471.14 114.4,470.94 114.9,470.74 115.4,470.54 115.9,470.34 116.4,470.14 116.9,469.94 117.4,469.74 117.9,469.54 118.4,467.9 118.9,465.9 119.4,463.9 119.9,465.1 120.4,467.1 120.9,469.1 121.4,469.59 121.9,469.7 122.4,469.82 122.9,469.93 123.4,470.05 123.9,470.16 124.4,470.27 124.9,470.39 125.4,470.5 125.4,503 124.6,506.6" fill="#000083"/>
<polygon points="126.2,506.6 125.4,503 125.4,466.5 125.9,466.39 126.4,466.28 126.9,466.17 127.4,466.07 127.9,465.96 128.4,465.85 128.9,465.74 129.4,465.63 129.9,465.52 130.4,465.5 130.9,465.5 131.4,465.5 131.9,465.5 132.4,465.5 132.9,465.5 133.4,465.5 133.9,465.5 134.4,465.43 134.9,465.35 135.4,465.27 135.9,465.18 136.4,465.1 136.9,465.02 137.4,464.93 137.9,464.85 138.4,464.77 138.9,464.68 139.4,464.6 139.9,464.52 140,464.5 140,503 139.2,506.6" fill="#696969"/>
<polygon points="140.8,506.6 140,503 140,473.5 140.5,473.5 141,473.5 141.5,473.5 142,473.5 142.5,473.5 143,473.5 143.5,473.5 144,473.5 144.5,473.5 145,473.5 145.5,473.7 146,473.9 146.5,474.1 147,474.3 147.5,474.5 148,474.7 148.5,474.9 149,475.1 149.5,475.3 150,475.5 150.5,475.67 151,475.84 151.5,476.02 152,476.19 152.5,476.36 152.9,476.5 152.9,503 152.1,506.6" fill="#000083"/>
<polygon points="153.7,506.6 152.9,503 152.9,460.5 153.4,460.02 153.9,459.55 154.4,459.07 154.9,458.6 155.4,458.7 155.9,458.95 156.4,459.2 156.9,459.45 157.4,459.63 157.9,459.8 158.4,459.97 158.9,460.13 159.4,460.3 159.9,460.47 160.4,460.67 160.9,460.89 161.4,461.11 161.9,461.33 162.4,461.54 162.9,461.76 163.4,461.98 163.9,462.2 164.4,462.41 164.6,462.5 164.6,503 163.8,506.6" fill="#696969"/>
<polygon points="165.4,506.6 164.6,503 164.6,471.5 165.1,471.5 165.6,471.5 166.1,471.5 166.6,471.5 167.1,471.5 167.6,471.5 168.1,471.5 168.6,471.5 169.1,471.5 169.6,471.5 170.1,471.47 170.6,471.3 171.1,471.13 171.6,470.97 172.1,470.8 172.6,470.63 173.1,470.47 173.6,470.3 174.1,470.13 174.6,469.97 175.1,469.8 175.6,469.63 176,469.5 176,503 175.2,506.6" fill="#000083"/>
<polygon points="176.8,506.6 176,503 176,466.5 176.5,466.42 177,466.33 177.5,466.25 178,466.17 178.5,466.08 179,466 179.5,465.92 180,465.83 180.5,465.75 181,465.67 181.5,465.58 182,465.5 182.5,465.38 183,465.27 183.5,465.15 184,465.03 184.5,464.92 185,464.8 185.5,464.69 186,464.57 186.3,464.5 186.3,503 185.5,506.6" fill="#696969"/>
<polygon points="187.1,506.6 186.3,503 186.3,467.5 186.8,467.41 187.3,467.32 187.8,467.24 188.3,467.15 188.8,467.06 189.3,466.97 189.8,466.89 190.3,466.8 190.8,466.71 191.3,466.62 191.8,466.54 192.3,466.5 192.8,466.5 193.3,466.5 193.8,466.5 194.3,466.5 194.8,466.5 195.3,466.5 195.8,466.5 196,466.5 196,503 195.2,506.6" fill="#000083"/>
<polygon points="196.8,506.6 196,503 196,465.5 196.5,464.83 197,464.17 197.5,463.5 198,462.83 198.5,462.17 199,461.5 199.5,461.89 200,462.28 200.5,462.68 201,463.07 201.5,463.46 202,463.85 202.5,464.25 203,464.64 203.5,465.03 204,465.42 204.1,465.5 204.1,503 203.3,506.6" fill="#696969"/>
<polygon points="204.9,506.6 204.1,503 204.1,470.5 204.6,470.5 205.1,470.5 205.6,470.5 206.1,470.5 206.6,470.5 207.1,470.5 207.6,470.5 208.1,470.5 208.6,470.5 209.1,470.5 209.6,470.5 210.1,470.5 210.6,470.5 211.1,470.5 211.6,470.5 212.1,470.5 212.5,470.5 212.5,503 211.7,506.6" fill="#000083"/>
<polygon points="213.3,506.6 212.5,503 212.5,463.5 213,463.5 213.5,463.5 214,463.5 214.5,463.5 215,463.5 215.5,463.5 216,463.5 216.5,463.5 217,463.5 217.5,463.5 218,463.5 218.5,463.5 219,463.5 219.5,463.5 220,463.5 220,503 219.2,506.6" fill="#696969"/>
<polygon points="220.8,506.6 220,503 220,459.5 220.5,459.5 221,459.5 221.5,459.5 222,459.5 222.5,459.5 223,459.5 223.5,459.5 224,459.5 224.5,459.5 225,459.5 225.5,459.5 226,459.5 226.5,459.5 227,459.5 227.4,459.5 227.4,503 226.6,506.6" fill="#000083"/>
<polygon points="228.2,506.6 227.4,503 227.4,457.5 227.9,456.92 228.4,456.35 228.9,455.77 229.4,455.19 229.9,454.62 230.4,454.81 230.9,455.19 231.4,455.58 231.9,455.96 232.4,456.35 232.9,456.73 233.4,457.12 233.9,457.5 233.9,503 233.1,506.6" fill="#696969"/>
<polygon points="234.7,506.6 233.9,503 233.9,468.5 234.4,468.5 234.9,468.5 235.4,468.5 235.9,468.5 236.4,468.5 236.9,468.5 237.4,468.5 237.9,468.5 238.4,468.5 238.9,468.5 239.4,468.5 239.9,468.5 240.3,468.5 240.3,503 239.5,506.6" fill="#000083"/>
<polygon points="241.1,506.6 240.3,503 240.3,470.5 240.8,469.86 241.3,469.22 241.8,468.59 242.3,467.95 242.8,467.31 243.3,466.67 243.8,466.03 244.3,465.39 244.8,464.76 245.3,464.41 245.8,464.26 246.3,464.11 246.8,463.96 247.3,463.81 247.8,463.66 248.3,463.51 248.8,463.36 249.3,463.21 249.8,463.06 250.3,462.91 250.8,462.76 251.3,462.61 251.8,462.46 252.3,462.31 252.8,462.16 253.3,462.01 253.8,461.86 254.3,461.71 254.8,461.56 255.3,461.52 255.8,461.55 256.3,461.59 256.8,461.62 257.3,461.65 257.8,461.69 258.3,461.72 258.8,461.75 259.3,461.79 259.8,461.82 260.3,461.85 260.8,461.89 261.3,461.92 261.8,461.95 262.3,461.99 262.8,462.02 263.3,462.05 263.8,462.09 264.3,462.12 264.8,462.15 265.3,462.19 265.8,462.22 266.3,462.25 266.8,462.29 267.3,462.32 267.8,462.35 268.3,462.39 268.8,462.42 269.3,462.45 269.8,462.49 270.3,462.53 270.8,462.58 271.3,462.63 271.8,462.68 272.3,462.73 272.8,462.78 273.3,462.83 273.8,462.88 274.3,462.93 274.8,462.98 275.3,463.03 275.8,463.08 276.3,463.13 276.8,463.18 277.3,463.23 277.8,463.28 278.3,463.33 278.8,463.38 279.3,463.43 279.8,463.48 280.3,463.53 280.8,463.58 281.3,463.63 281.8,463.68 282.3,463.73 282.8,463.78 283.3,463.83 283.8,463.88 284.3,463.93 284.8,463.98 285.3,464.03 285.8,464.08 286.3,464.13 286.8,464.18 287.3,464.23 287.8,464.28 288.3,464.33 288.8,464.38 289.3,464.43 289.8,464.48 290.3,464.55 290.8,464.62 291.3,464.69 291.8,464.77 292.3,464.85 292.8,464.92 293.3,465 293.8,465.07 294.3,465.14 294.8,465.22 295.3,465.3 295.8,465.37 296.3,465.44 296.8,465.52 297.3,465.6 297.8,465.67 298.3,465.75 298.8,465.82 299.3,465.89 299.8,465.97 300.3,466.05 300.8,466.12 301.3,466.19 301.8,466.27 302.3,466.35 302.8,466.42 303.3,466.5 303.8,466.57 304.3,466.64 304.8,466.72 305.3,466.8 305.8,466.87 306.3,466.94 306.8,467.02 307.3,467.1 307.8,467.17 308.3,467.25 308.8,467.32 309.3,467.39 309.8,467.47 310.3,467.55 310.8,467.63 311.3,467.71 311.8,467.79 312.3,467.87 312.8,467.95 313.3,468.03 313.8,468.11 314.3,468.19 314.8,468.27 315.3,468.35 315.8,468.43 316.3,468.51 316.8,468.59 317.3,468.67 317.8,468.75 318.3,468.83 318.8,468.91 319.3,468.99 319.8,469.07 320.3,469.15 320.8,469.23 321.3,469.31 321.8,469.39 322.3,469.47 322.8,469.55 323.3,469.63 323.8,469.71 324.3,469.79 324.8,469.87 325.3,469.95 325.8,470.03 326.3,470.11 326.8,470.19 327.3,470.27 327.8,470.35 328.3,470.43 328.8,470.51 329.3,470.59 329.8,470.67 330.3,470.75 330.8,470.83 331.3,470.91 331.8,470.99 332.3,471.07 332.8,471.15 333.3,471.23 333.8,471.31 334.3,471.39 334.8,471.47 335.3,471.68 335.8,471.98 336.3,472.28 336.8,472.58 337.3,472.88 337.8,473.18 338.3,473.48 338.8,473.78 339.3,474.08 339.8,474.38 340.3,474.68 340.8,474.98 341.3,475.28 341.8,475.58 342.3,475.88 342.8,476.18 343.3,476.48 343.8,476.78 344.3,477.08 344.8,477.38 345.3,477.65 345.8,477.9 346.3,478.15 346.8,478.4 347.3,478.65 347.8,478.9 348.3,479.15 348.8,479.4 349.3,479.65 349.8,479.9 350.3,480.15 350.8,480.4 351.3,480.65 351.8,480.9 352.3,481.15 352.8,481.4 353.3,481.65 353.8,481.9 354.3,482.15 354.8,482.4 355.3,482.59 355.8,482.74 356.3,482.89 356.8,483.04 357.3,483.19 357.8,483.34 358.3,483.49 358.8,483.64 359.3,483.79 359.8,483.94 360.3,484.09 360.8,484.24 361.3,484.39 361.8,484.54 362.3,484.69 362.8,484.84 363.3,484.99 363.8,485.14 364.3,485.29 364.8,485.44 365.3,485.68 365.8,485.98 366.3,486.28 366.8,486.58 367.3,486.88 367.8,487.18 368.3,487.48 368.8,487.78 369.3,488.08 369.8,488.38 370.3,489.28 370.8,490.57 371.3,491.87 371.8,493.17 372.3,494.46 372.7,495.5 372.7,503 371.9,506.6" fill="#696969"/>
<path d="M60.8,470.1h1M67.1,475.2h1M56.1,478.1h1M70.7,477.0h1M87.7,474.1h1M82.2,475.5h1M79.2,475.8h1M84.5,477.7h1M106.7,475.5h1M103.2,473.0h1M105.3,476.5h1M96.8,459.7h1M117.5,476.9h1M115.1,474.1h1M115.4,478.8h1M110.9,479.2h1M132.6,470.4h1M133.9,469.4h1M131.8,473.1h1M145.6,481.3h1M141.8,477.8h1M145.8,476.1h1M160.6,466.2h1M162.4,469.6h1M170.4,476.4h1M170.1,476.3h1M179.7,469.0h1M181.0,474.2h1M192.8,470.7h1M190.1,472.9h1M197.9,465.8h1M198.3,468.8h1M208.0,479.9h1M209.6,478.0h1M216.8,472.2h1M223.7,462.3h1M228.5,459.9h1M237.0,470.7h1M294.9,469.5h1M270.4,469.4h1M362.5,487.9h1M341.2,482.2h1M271.3,465.3h1M349.5,482.7h1M256.7,463.9h1M346.7,483.1h1M241.4,472.1h1M308.5,472.6h1M260.4,470.2h1M331.4,474.7h1M282.5,467.3h1M244.1,471.4h1M276.8,470.0h1M349.7,484.2h1M278.3,467.8h1M302.9,468.4h1M291.7,468.8h1M255.7,469.7h1M331.4,476.4h1M250.8,469.9h1M290.4,473.2h1M325.0,473.4h1M338.6,480.2h1M287.2,472.1h1M284.0,466.6h1M246.9,470.2h1M276.7,466.0h1M247.5,471.3h1M277.4,471.7h1M356.9,491.3h1M270.3,471.6h1" stroke="#fff" stroke-width="1.1" stroke-linecap="round" fill="none" stroke-opacity="0.8"/>
<path d="M58.7,453.0h1.15M60.9,458.6h1.15M65.3,473.9h1.15M54.8,462.4h1.15M59.0,456.6h1.15M71.6,470.1h1.15M68.8,470.0h1.15M65.5,473.4h1.15M65.4,460.3h1.15M63.5,463.8h1.15M66.0,474.0h1.15M67.5,468.2h1.15M59.7,458.3h1.15M69.3,470.0h1.15M66.8,459.7h1.15M66.8,456.7h1.15M61.3,456.6h1.15M62.2,452.3h1.15M69.6,473.8h1.15M56.9,466.7h1.15M71.0,470.5h1.15M65.3,471.9h1.15M63.2,469.6h1.15M60.6,456.8h1.15M64.6,457.5h1.15M66.2,456.0h1.15M69.2,466.7h1.15M57.4,451.6h1.15M71.0,458.0h1.15M64.3,465.0h1.15M58.2,447.4h1.15M64.4,471.5h1.15M55.7,459.9h1.15M71.5,473.9h1.15M68.2,470.8h1.15M57.2,464.3h1.15M67.7,460.1h1.15M55.4,467.9h1.15M55.4,465.7h1.15M60.3,445.8h1.15M71.3,469.6h1.15M71.6,471.9h1.15M55.9,466.1h1.15M55.2,473.2h1.15M61.6,462.4h1.15M57.3,465.8h1.15M69.4,471.9h1.15M70.9,458.6h1.15M61.0,461.7h1.15M63.5,466.0h1.15M64.8,468.3h1.15M65.2,454.6h1.15M63.2,469.1h1.15M66.9,472.6h1.15M59.7,431.8h1.15M63.5,467.6h1.15M54.8,471.4h1.15M64.5,473.7h1.15M65.1,467.3h1.15M55.6,466.7h1.15M62.6,464.6h1.15M98.0,457.5h1.15M97.5,456.8h1.15M101.0,456.8h1.15M98.3,459.1h1.15M95.2,455.3h1.15M101.7,456.4h1.15M98.3,448.4h1.15M102.0,463.7h1.15M98.2,454.6h1.15M103.2,465.5h1.15M103.1,464.8h1.15M96.3,452.1h1.15M103.1,468.6h1.15M99.0,457.5h1.15M105.9,452.6h1.15M98.2,443.5h1.15M104.5,468.5h1.15M99.6,461.9h1.15M104.9,463.4h1.15M106.0,461.0h1.15M102.7,459.5h1.15M101.1,465.1h1.15M101.5,466.5h1.15M94.7,451.0h1.15M93.2,468.4h1.15M94.0,450.3h1.15M95.2,458.3h1.15M105.3,470.5h1.15M105.4,463.6h1.15M105.2,450.0h1.15M101.3,455.1h1.15M93.1,459.2h1.15M100.3,455.5h1.15M94.1,454.9h1.15M106.7,472.2h1.15M97.5,451.8h1.15M105.1,469.2h1.15M95.3,456.4h1.15M101.9,457.6h1.15M98.5,457.0h1.15M98.6,457.3h1.15M98.9,460.5h1.15M100.1,438.6h1.15M98.8,451.3h1.15M95.0,451.8h1.15M104.0,462.3h1.15M100.4,459.8h1.15M102.3,452.3h1.15M94.8,460.3h1.15M103.9,452.6h1.15M100.4,460.3h1.15M103.5,468.1h1.15M96.6,455.9h1.15M101.4,463.9h1.15M96.1,449.3h1.15M129.0,456.3h1.15M130.3,463.7h1.15M130.9,461.0h1.15M135.5,463.1h1.15M136.4,465.2h1.15M129.3,465.8h1.15M127.3,456.4h1.15M134.9,464.8h1.15M128.3,463.0h1.15M135.1,454.4h1.15M135.2,459.9h1.15M127.7,463.3h1.15M128.3,461.5h1.15M133.0,464.9h1.15M129.0,455.9h1.15M126.3,455.8h1.15M137.0,445.0h1.15M130.7,460.9h1.15M133.2,459.5h1.15M138.0,457.6h1.15M129.6,452.7h1.15M131.9,460.1h1.15M134.9,466.2h1.15M135.5,458.6h1.15M132.0,461.3h1.15M131.6,465.0h1.15M132.5,466.2h1.15M132.1,459.2h1.15M131.4,460.7h1.15M137.8,450.2h1.15M127.6,455.9h1.15M133.7,466.1h1.15M130.4,464.6h1.15M126.9,461.6h1.15M137.5,463.1h1.15M136.7,457.6h1.15M127.6,453.2h1.15M133.4,448.2h1.15M134.8,456.8h1.15M130.2,455.0h1.15M137.5,452.0h1.15M131.3,456.6h1.15M131.9,465.7h1.15M126.5,466.6h1.15M128.4,465.5h1.15M132.1,458.1h1.15M158.7,451.9h1.15M157.4,453.5h1.15M159.2,459.7h1.15M156.8,457.8h1.15M157.5,460.2h1.15M155.5,458.8h1.15M162.3,453.7h1.15M161.7,455.9h1.15M162.3,457.4h1.15M157.4,440.1h1.15M162.0,441.7h1.15M158.0,450.6h1.15M157.3,443.1h1.15M156.2,441.3h1.15M155.2,459.2h1.15M160.3,459.4h1.15M158.4,454.0h1.15M153.8,450.5h1.15M156.0,456.3h1.15M156.7,451.1h1.15M160.5,459.6h1.15M154.4,457.0h1.15M157.3,460.2h1.15M154.9,449.7h1.15M160.1,435.6h1.15M162.7,448.3h1.15M157.0,459.4h1.15M156.4,456.1h1.15M158.4,455.7h1.15M156.8,447.2h1.15M156.1,456.0h1.15M161.8,451.0h1.15M156.3,458.5h1.15M161.1,462.2h1.15M154.7,454.3h1.15M158.5,459.9h1.15M153.9,458.4h1.15M180.9,454.1h1.15M178.1,460.7h1.15M184.1,452.7h1.15M178.0,443.9h1.15M183.3,464.8h1.15M178.7,465.4h1.15M177.0,440.4h1.15M179.8,452.3h1.15M177.5,467.1h1.15M183.6,454.9h1.15M184.6,457.7h1.15M180.8,456.4h1.15M177.3,461.8h1.15M180.1,465.6h1.15M181.4,463.8h1.15M180.6,463.4h1.15M179.1,463.8h1.15M181.4,438.9h1.15M184.1,452.0h1.15M183.3,463.7h1.15M184.4,463.6h1.15M177.5,462.3h1.15M182.5,463.3h1.15M181.8,464.1h1.15M184.4,461.6h1.15M180.4,461.4h1.15M183.6,460.7h1.15M180.1,460.0h1.15M177.1,463.3h1.15M183.4,455.5h1.15M177.0,453.7h1.15M179.6,439.0h1.15M201.7,463.5h1.15M198.8,462.2h1.15M200.3,463.8h1.15M202.0,460.1h1.15M199.9,463.0h1.15M197.9,458.8h1.15M201.6,459.6h1.15M198.2,455.2h1.15M199.6,461.9h1.15M198.3,446.6h1.15M197.3,458.7h1.15M200.2,460.8h1.15M201.1,447.7h1.15M201.6,455.6h1.15M197.7,463.0h1.15M199.1,460.4h1.15M197.7,449.2h1.15M197.8,451.2h1.15M202.1,464.5h1.15M201.9,461.7h1.15M197.8,461.9h1.15M196.7,459.9h1.15M198.8,449.4h1.15M201.4,464.5h1.15M198.9,459.4h1.15M214.6,464.4h1.15M216.6,455.2h1.15M214.9,459.9h1.15M216.0,462.5h1.15M216.7,458.7h1.15M215.1,463.7h1.15M216.0,461.8h1.15M216.9,463.2h1.15M215.1,463.0h1.15M215.2,458.5h1.15M213.6,464.1h1.15M215.6,462.9h1.15M215.7,463.2h1.15M213.6,459.1h1.15M217.9,450.3h1.15M215.8,461.0h1.15M213.4,462.2h1.15M214.7,444.6h1.15M213.6,443.8h1.15M215.6,460.5h1.15M214.4,441.5h1.15M214.0,458.6h1.15M215.7,462.9h1.15M214.2,453.5h1.15M228.5,449.7h1.15M231.7,456.2h1.15M228.0,456.6h1.15M231.3,453.5h1.15M229.9,449.2h1.15M229.1,447.5h1.15M227.9,454.9h1.15M230.9,455.3h1.15M228.1,452.0h1.15M229.3,430.8h1.15M228.4,445.4h1.15M229.6,444.2h1.15M229.8,448.1h1.15M229.3,453.8h1.15M229.9,444.6h1.15M229.4,453.7h1.15M229.7,455.0h1.15M229.3,449.7h1.15M230.3,449.8h1.15M229.2,455.6h1.15M366.4,489.8h1.15M366.3,488.2h1.15M251.7,453.5h1.15M309.9,457.9h1.15M307.0,461.7h1.15M251.6,455.8h1.15M307.5,441.2h1.15M241.6,470.9h1.15M328.9,450.7h1.15M295.7,457.8h1.15M313.8,467.2h1.15M301.4,461.5h1.15M244.6,464.7h1.15M336.9,473.8h1.15M302.4,467.3h1.15M287.4,458.3h1.15M337.7,448.7h1.15M302.9,468.0h1.15M284.7,467.0h1.15M272.0,458.4h1.15M320.4,470.3h1.15M264.5,464.7h1.15M264.1,459.4h1.15M274.0,447.1h1.15M314.4,468.0h1.15M297.0,468.8h1.15M336.2,463.6h1.15M288.2,456.2h1.15M276.3,464.5h1.15M270.5,464.1h1.15M319.7,463.4h1.15M335.6,474.7h1.15M340.6,472.8h1.15M290.1,461.8h1.15M297.2,467.2h1.15M292.3,459.1h1.15M333.9,452.7h1.15M266.1,445.8h1.15M345.0,470.1h1.15M368.4,490.0h1.15M341.9,458.8h1.15M256.7,457.0h1.15M364.1,485.8h1.15M352.2,463.6h1.15M297.5,467.8h1.15M268.9,450.0h1.15M295.8,465.5h1.15M298.5,445.7h1.15M273.9,466.3h1.15M364.4,485.6h1.15M291.0,434.7h1.15M277.5,466.0h1.15M356.4,484.1h1.15M269.7,441.0h1.15M270.7,445.3h1.15M284.2,464.2h1.15M268.9,458.9h1.15M313.8,467.1h1.15M306.9,467.4h1.15M349.9,459.3h1.15M338.9,462.2h1.15M250.0,463.7h1.15M267.3,464.3h1.15M366.9,469.3h1.15M359.8,480.3h1.15M256.0,460.1h1.15M248.1,445.7h1.15M275.4,463.5h1.15M364.0,486.8h1.15M360.9,484.6h1.15M327.4,472.9h1.15M357.8,482.4h1.15M285.8,458.1h1.15M318.1,469.8h1.15M257.0,457.5h1.15M244.0,450.0h1.15M285.6,465.9h1.15M283.5,466.3h1.15M282.1,460.2h1.15M293.8,465.0h1.15M278.7,460.9h1.15M342.2,474.5h1.15M340.8,472.9h1.15M256.5,463.5h1.15M351.2,478.5h1.15M290.6,461.7h1.15M351.0,480.1h1.15M287.9,463.7h1.15M242.2,463.7h1.15M303.2,463.9h1.15M299.6,463.8h1.15M334.0,473.1h1.15M368.6,490.4h1.15M353.6,483.9h1.15M344.4,478.2h1.15M251.0,459.0h1.15M350.1,467.0h1.15M355.0,451.1h1.15M247.7,462.7h1.15M254.7,452.4h1.15M299.6,457.3h1.15M344.4,470.8h1.15M354.8,478.9h1.15M251.3,446.0h1.15M252.7,464.7h1.15M348.9,480.3h1.15M327.1,473.6h1.15M268.3,454.6h1.15M245.7,461.2h1.15M362.9,486.4h1.15M332.6,462.4h1.15M321.5,459.9h1.15M331.7,474.4h1.15M265.8,458.8h1.15M367.1,488.4h1.15M317.2,471.0h1.15M351.1,479.0h1.15M308.8,460.9h1.15M258.6,453.5h1.15M345.0,463.6h1.15M277.5,464.4h1.15M262.3,444.9h1.15M297.9,464.8h1.15M308.6,460.1h1.15M282.2,463.6h1.15M340.6,465.2h1.15M279.4,466.3h1.15M361.7,476.4h1.15M318.2,467.7h1.15M365.7,484.7h1.15M269.0,465.0h1.15M286.5,459.4h1.15M288.3,441.4h1.15M325.4,468.0h1.15M326.8,465.5h1.15M321.2,466.7h1.15M308.9,464.8h1.15M349.1,481.4h1.15M343.1,477.0h1.15M351.3,483.8h1.15M304.0,464.9h1.15M333.5,472.8h1.15M275.0,465.3h1.15M313.9,464.0h1.15M240.9,470.7h1.15M266.8,437.5h1.15M300.1,462.1h1.15M278.5,457.2h1.15M346.7,472.1h1.15M241.0,467.1h1.15M304.5,469.8h1.15M343.7,477.1h1.15M279.0,458.1h1.15M317.0,466.0h1.15M352.7,478.6h1.15M285.5,467.0h1.15M312.8,467.5h1.15M310.7,467.4h1.15M241.7,471.1h1.15M261.4,464.6h1.15M351.7,476.8h1.15M271.9,455.1h1.15M323.4,472.7h1.15M338.6,475.2h1.15M370.7,493.9h1.15M278.0,464.3h1.15M353.1,470.0h1.15M316.3,470.6h1.15M296.6,458.2h1.15M248.4,444.0h1.15M350.4,459.8h1.15M331.8,465.9h1.15M367.8,488.2h1.15M280.6,465.9h1.15M264.3,451.2h1.15M253.2,453.1h1.15M292.4,449.5h1.15M339.7,467.7h1.15M350.8,483.8h1.15M275.4,462.5h1.15M296.7,459.1h1.15M355.3,474.1h1.15M361.7,477.5h1.15M287.2,461.4h1.15M338.3,462.1h1.15M289.0,464.0h1.15M320.8,470.5h1.15M355.8,486.4h1.15M325.3,467.6h1.15M266.2,458.2h1.15M302.6,440.5h1.15M356.0,478.5h1.15M354.3,466.6h1.15M262.3,449.7h1.15M349.3,470.6h1.15M291.9,466.3h1.15M325.8,471.5h1.15M339.4,470.3h1.15M348.3,479.0h1.15M280.3,446.0h1.15M327.1,469.5h1.15M313.8,466.6h1.15M324.5,466.9h1.15M278.0,431.8h1.15M356.1,473.7h1.15M277.0,464.8h1.15M336.0,460.4h1.15M325.8,471.5h1.15M334.6,468.4h1.15M289.4,460.0h1.15M299.3,460.1h1.15M338.7,476.5h1.15M315.2,445.8h1.15M326.4,465.9h1.15M351.9,484.4h1.15M344.0,472.0h1.15M316.9,468.8h1.15M321.4,471.7h1.15M309.2,468.3h1.15M362.1,473.6h1.15M302.4,457.3h1.15M290.9,461.6h1.15M261.9,447.9h1.15M340.3,465.7h1.15M251.7,450.4h1.15M242.4,463.1h1.15M304.3,469.7h1.15M295.7,449.3h1.15M322.1,469.6h1.15M346.9,478.3h1.15M357.6,482.3h1.15M250.9,434.0h1.15M250.1,463.7h1.15M341.2,478.0h1.15M311.7,453.7h1.15M317.6,468.5h1.15M339.5,462.3h1.15M316.3,463.2h1.15M282.8,462.6h1.15M370.0,461.3h1.15M241.0,470.3h1.15M270.2,451.9h1.15M266.9,464.2h1.15M340.5,477.0h1.15M368.1,485.7h1.15M357.8,471.6h1.15M267.8,452.0h1.15M294.8,466.6h1.15M246.8,456.3h1.15M313.9,468.5h1.15M349.3,481.4h1.15M298.7,468.6h1.15M286.4,448.3h1.15M305.9,469.0h1.15M271.6,456.9h1.15M277.0,447.1h1.15M248.7,448.4h1.15M321.8,457.4h1.15M286.9,467.1h1.15M263.2,456.7h1.15M244.2,467.2h1.15M342.7,461.0h1.15M352.3,468.6h1.15M313.1,452.9h1.15M331.7,467.2h1.15M296.2,468.8h1.15M252.5,463.0h1.15M300.8,468.6h1.15M367.2,482.9h1.15M337.2,456.6h1.15M270.3,446.5h1.15M365.6,486.9h1.15M257.2,450.7h1.15M356.7,472.3h1.15M294.0,460.4h1.15M255.7,462.7h1.15M295.4,456.6h1.15M252.4,441.9h1.15M244.7,436.5h1.15M271.7,450.8h1.15M347.3,454.7h1.15M302.0,459.1h1.15M278.8,450.8h1.15M255.0,445.7h1.15M317.9,471.8h1.15M363.4,485.3h1.15M249.7,463.7h1.15M244.4,465.1h1.15M333.3,465.8h1.15M352.0,469.2h1.15M333.9,470.5h1.15M273.6,464.9h1.15M312.0,469.4h1.15M337.2,473.2h1.15M316.2,465.0h1.15M322.6,471.6h1.15M274.2,456.0h1.15M268.6,455.9h1.15M366.5,485.8h1.15M366.0,481.4h1.15M363.8,482.1h1.15M338.8,467.3h1.15M266.2,459.2h1.15M316.5,466.5h1.15M326.8,452.2h1.15M344.3,465.9h1.15M259.5,454.4h1.15M322.5,448.0h1.15M241.2,470.5h1.15M367.9,486.9h1.15M332.7,466.7h1.15M292.6,463.3h1.15M314.0,464.9h1.15M343.7,477.3h1.15M333.5,466.5h1.15M337.6,457.9h1.15M251.2,435.2h1.15M320.3,470.0h1.15M301.3,468.9h1.15M270.9,449.8h1.15M333.4,456.7h1.15M262.0,464.5h1.15M290.2,462.0h1.15M333.4,471.6h1.15M336.8,468.5h1.15M278.4,452.9h1.15M250.4,458.1h1.15M265.3,465.3h1.15M303.1,463.4h1.15M320.6,468.6h1.15M361.8,474.4h1.15M260.9,465.4h1.15M365.9,485.1h1.15M254.5,463.2h1.15M332.0,472.9h1.15M289.4,457.8h1.15M286.7,458.2h1.15M364.3,474.8h1.15M322.6,464.3h1.15M281.1,458.0h1.15M325.3,465.6h1.15M304.7,457.8h1.15M267.4,454.6h1.15M368.2,491.0h1.15M273.6,465.6h1.15M347.3,474.6h1.15M249.9,457.4h1.15M241.8,454.3h1.15M280.2,443.9h1.15M357.7,485.7h1.15M293.3,467.1h1.15M339.5,477.1h1.15M250.4,465.1h1.15M352.6,482.6h1.15M282.9,462.0h1.15M312.7,466.7h1.15M364.1,485.2h1.15M302.8,452.2h1.15M272.5,464.6h1.15M349.7,480.2h1.15M357.0,471.2h1.15M289.4,464.4h1.15M254.0,446.5h1.15M298.4,465.6h1.15M263.8,463.3h1.15M354.6,484.8h1.15M313.0,462.8h1.15M308.6,464.6h1.15M292.6,466.6h1.15M347.7,462.2h1.15M314.3,469.2h1.15M359.6,485.5h1.15M263.1,456.7h1.15M349.1,475.7h1.15M255.1,430.3h1.15M261.2,461.7h1.15M369.5,478.1h1.15M339.2,477.2h1.15M351.7,480.1h1.15M242.2,456.8h1.15M361.9,487.8h1.15M300.0,448.7h1.15M284.1,464.2h1.15M342.2,474.5h1.15M370.8,478.1h1.15M352.6,474.0h1.15M266.2,455.3h1.15M316.2,466.1h1.15M314.6,468.5h1.15M266.6,443.9h1.15M288.6,466.9h1.15M368.0,484.7h1.15M328.8,470.4h1.15M260.2,461.7h1.15M349.3,480.6h1.15M359.6,484.3h1.15M357.6,485.2h1.15M298.6,468.1h1.15M260.2,458.7h1.15M288.4,461.0h1.15M269.0,462.6h1.15M282.7,446.8h1.15M251.4,461.1h1.15M352.1,477.2h1.15M274.1,465.4h1.15M258.7,465.1h1.15M298.0,451.7h1.15M277.6,463.8h1.15M344.7,480.4h1.15M243.1,459.9h1.15M252.3,458.9h1.15M259.7,457.1h1.15M351.7,479.2h1.15M276.4,457.9h1.15M332.0,474.1h1.15M272.1,462.0h1.15M306.7,467.7h1.15M326.5,471.1h1.15M358.6,483.4h1.15M269.7,465.3h1.15M257.3,463.0h1.15M355.8,481.5h1.15M298.5,440.5h1.15M366.7,477.3h1.15M272.1,462.7h1.15M306.6,467.9h1.15M286.0,465.5h1.15M272.2,453.8h1.15M319.4,467.3h1.15M302.2,461.4h1.15M330.0,474.1h1.15M350.6,478.5h1.15M285.4,438.9h1.15M339.3,474.1h1.15M244.0,463.3h1.15M298.1,465.1h1.15M253.6,457.5h1.15M274.0,453.5h1.15M309.6,467.9h1.15M348.4,477.6h1.15M251.8,462.8h1.15M247.7,462.0h1.15M359.1,462.0h1.15M325.7,472.1h1.15M272.0,464.2h1.15M289.4,458.8h1.15M243.7,462.9h1.15M296.2,459.3h1.15M348.4,478.5h1.15M319.3,469.7h1.15M300.0,460.5h1.15M247.6,460.5h1.15M306.2,468.7h1.15M273.2,450.7h1.15M286.3,465.8h1.15M277.9,460.2h1.15M292.7,464.6h1.15M282.8,465.1h1.15M306.5,462.3h1.15M252.4,457.6h1.15M280.9,432.5h1.15M363.0,487.3h1.15M331.5,470.7h1.15M255.3,446.3h1.15M359.1,473.5h1.15M323.7,438.9h1.15M313.2,461.5h1.15M325.8,456.0h1.15M352.3,481.7h1.15M267.9,458.8h1.15M317.6,468.4h1.15M352.9,468.2h1.15M330.2,467.4h1.15M331.4,472.6h1.15M346.0,480.6h1.15M358.5,478.4h1.15M276.9,464.8h1.15M318.9,466.9h1.15M331.5,473.6h1.15M354.8,481.1h1.15M298.1,457.2h1.15M319.8,467.4h1.15M278.9,461.3h1.15M244.9,465.2h1.15M348.3,481.8h1.15M252.0,448.8h1.15M289.5,461.2h1.15M317.3,460.9h1.15M282.3,454.1h1.15M240.9,455.6h1.15M281.2,458.3h1.15M280.4,454.6h1.15M289.8,459.8h1.15M282.6,451.2h1.15M342.0,477.5h1.15M339.3,452.2h1.15M271.7,464.3h1.15M362.1,458.6h1.15M257.7,451.8h1.15M361.9,485.5h1.15M342.5,476.6h1.15M343.3,473.9h1.15M302.3,468.7h1.15M325.8,462.8h1.15M278.7,466.5h1.15M252.6,462.8h1.15M370.6,482.8h1.15M357.5,474.5h1.15M258.2,460.9h1.15M364.5,471.9h1.15M369.9,477.8h1.15M333.4,461.9h1.15M360.0,482.6h1.15M245.2,464.4h1.15M242.6,467.5h1.15M317.6,469.4h1.15M273.1,465.5h1.15M287.5,461.3h1.15M317.8,446.6h1.15M250.0,463.7h1.15M250.8,442.1h1.15M323.1,463.6h1.15M346.8,482.1h1.15M358.4,483.6h1.15M322.7,468.5h1.15M337.9,473.9h1.15M277.0,464.2h1.15M335.2,470.0h1.15M261.0,461.5h1.15M314.8,467.7h1.15M318.0,455.7h1.15M324.2,458.8h1.15M280.3,448.8h1.15M363.3,481.9h1.15M243.8,468.0h1.15M339.4,459.8h1.15M335.1,469.0h1.15M311.2,470.2h1.15M318.7,470.4h1.15M320.3,455.6h1.15M325.5,469.7h1.15M271.8,454.4h1.15M361.6,469.2h1.15M293.0,456.2h1.15M346.5,477.8h1.15M339.2,473.5h1.15M266.9,465.8h1.15M335.2,462.9h1.15M246.4,466.8h1.15M282.3,465.2h1.15M336.1,474.1h1.15M317.0,465.0h1.15M286.2,450.3h1.15M297.8,462.8h1.15M327.6,469.2h1.15M265.0,438.2h1.15M338.7,470.5h1.15M305.4,461.8h1.15M279.2,466.3h1.15M311.8,450.7h1.15M253.7,429.5h1.15M289.5,454.8h1.15M276.3,464.5h1.15M356.5,451.6h1.15M345.6,473.7h1.15M311.6,457.6h1.15M347.9,466.6h1.15M278.4,451.1h1.15M365.0,481.6h1.15M242.0,469.2h1.15M325.6,468.6h1.15M360.3,478.5h1.15M331.9,473.1h1.15M309.2,459.8h1.15M360.2,466.8h1.15M275.2,460.3h1.15M368.3,490.5h1.15M250.0,464.5h1.15M336.1,472.4h1.15M333.0,459.0h1.15M346.1,481.5h1.15M330.5,460.0h1.15M332.3,456.7h1.15M347.3,473.9h1.15M353.6,478.5h1.15M254.9,462.0h1.15M362.2,484.7h1.15M302.2,451.3h1.15M330.1,460.2h1.15M302.0,463.5h1.15M250.9,464.1h1.15M261.4,458.5h1.15M309.3,470.3h1.15M323.5,472.3h1.15M291.1,468.0h1.15M302.7,468.6h1.15M363.3,484.6h1.15M348.8,477.9h1.15M283.4,450.9h1.15M276.6,460.2h1.15M324.1,462.4h1.15M247.5,461.6h1.15M364.8,471.9h1.15M288.9,466.7h1.15M275.9,453.9h1.15M264.3,445.6h1.15M275.4,456.1h1.15M331.2,472.0h1.15M308.4,461.9h1.15M275.9,459.8h1.15M322.5,444.7h1.15M277.8,465.1h1.15M306.8,462.4h1.15M304.3,448.3h1.15M267.1,459.5h1.15M302.2,467.9h1.15M300.0,464.2h1.15M289.7,454.7h1.15M369.3,460.6h1.15M269.2,461.8h1.15M364.4,488.2h1.15M252.5,465.0h1.15M365.8,483.5h1.15M297.2,468.2h1.15M355.9,476.0h1.15M359.6,480.0h1.15M281.3,465.4h1.15M280.4,465.6h1.15M288.8,467.5h1.15M246.1,447.0h1.15M351.2,469.2h1.15M286.6,462.3h1.15M311.5,457.4h1.15M280.3,460.6h1.15M312.3,454.9h1.15M286.3,467.7h1.15M293.4,449.2h1.15M263.6,456.8h1.15M258.1,462.4h1.15M322.2,472.1h1.15M300.0,461.6h1.15M291.4,455.6h1.15M351.0,481.3h1.15M339.9,465.6h1.15M318.4,464.4h1.15M314.7,459.7h1.15M330.8,471.6h1.15M325.5,462.4h1.15M301.0,449.4h1.15M281.8,460.0h1.15M314.9,463.5h1.15M264.8,455.8h1.15M255.9,458.2h1.15M299.6,458.8h1.15M352.5,482.7h1.15M359.3,481.7h1.15M306.5,470.2h1.15M352.7,482.8h1.15M277.0,463.5h1.15M271.3,463.1h1.15M278.3,460.0h1.15M287.7,455.1h1.15M362.3,464.2h1.15M289.7,457.7h1.15M336.2,464.5h1.15M292.8,466.6h1.15M339.5,468.4h1.15M286.6,457.8h1.15M249.6,452.7h1.15M357.8,455.3h1.15M255.7,454.5h1.15M342.6,478.5h1.15M320.3,470.8h1.15M269.2,465.7h1.15M277.4,449.8h1.15M317.2,457.9h1.15M367.2,489.2h1.15M351.1,464.0h1.15M325.3,469.9h1.15M263.7,460.4h1.15M289.3,465.3h1.15M328.6,465.0h1.15M274.5,464.8h1.15M305.8,459.3h1.15M327.5,464.7h1.15M357.6,474.2h1.15M298.4,457.0h1.15M327.4,470.1h1.15M262.6,461.3h1.15M334.3,462.5h1.15M280.4,460.1h1.15M250.6,458.0h1.15M299.3,456.3h1.15M352.9,484.8h1.15M366.5,488.5h1.15M366.3,487.9h1.15M278.8,465.5h1.15M359.4,474.8h1.15M366.6,475.5h1.15M287.7,454.4h1.15M287.2,464.2h1.15M296.3,458.2h1.15M282.0,459.9h1.15M314.7,457.6h1.15M302.0,465.0h1.15M313.1,466.0h1.15M336.1,475.0h1.15M264.0,465.3h1.15M294.6,451.8h1.15M318.9,463.4h1.15M362.6,473.0h1.15M279.0,464.7h1.15M310.8,468.9h1.15M318.5,471.7h1.15M291.7,456.8h1.15M274.0,465.0h1.15M338.3,475.4h1.15M358.2,478.6h1.15M356.6,479.8h1.15M304.5,467.6h1.15M248.4,439.2h1.15M269.3,465.2h1.15M362.2,481.4h1.15M316.5,449.5h1.15M336.1,473.3h1.15M277.7,457.2h1.15M329.4,471.9h1.15M273.3,460.0h1.15M248.6,452.1h1.15M326.4,472.3h1.15M316.3,464.0h1.15M252.4,460.5h1.15M343.9,475.2h1.15M335.5,473.2h1.15M370.8,485.6h1.15M313.5,471.6h1.15M287.2,467.8h1.15M298.0,467.5h1.15M272.6,463.0h1.15M259.6,462.3h1.15M306.4,469.3h1.15M313.8,444.9h1.15M334.7,447.4h1.15M255.0,455.3h1.15M272.2,441.7h1.15M305.4,458.9h1.15M341.9,478.2h1.15M253.9,450.2h1.15M347.5,477.4h1.15M244.0,468.3h1.15M345.1,470.7h1.15M289.5,457.8h1.15M346.0,481.7h1.15M337.9,442.7h1.15M354.0,466.4h1.15M298.1,460.9h1.15M255.7,450.9h1.15M326.7,469.1h1.15M247.3,465.4h1.15M293.1,445.7h1.15M302.2,451.8h1.15M265.2,463.1h1.15M271.6,463.2h1.15M344.4,476.8h1.15M282.5,457.0h1.15M299.0,450.4h1.15M331.4,458.5h1.15M296.5,464.5h1.15M299.7,443.6h1.15M314.7,465.7h1.15M250.2,448.7h1.15M320.2,468.0h1.15M262.6,459.8h1.15M333.1,472.0h1.15M275.4,460.2h1.15M305.4,470.3h1.15M249.0,462.4h1.15M333.2,470.5h1.15M242.9,467.5h1.15M266.2,452.8h1.15M270.5,430.4h1.15M278.4,465.1h1.15M243.3,463.4h1.15M308.0,457.1h1.15M327.9,466.9h1.15M247.7,443.4h1.15M273.1,464.0h1.15M263.4,457.6h1.15M326.1,470.3h1.15M274.3,466.4h1.15M318.1,461.2h1.15M256.4,462.7h1.15M338.7,466.4h1.15M258.6,453.9h1.15M334.0,471.4h1.15M366.7,485.1h1.15M323.7,457.1h1.15M263.7,464.4h1.15M268.1,464.8h1.15M356.1,479.5h1.15M302.8,465.9h1.15M305.5,465.2h1.15M335.3,470.7h1.15M353.7,468.8h1.15M353.9,473.2h1.15M263.3,460.7h1.15M350.3,480.0h1.15M315.4,469.8h1.15M348.2,479.2h1.15M287.9,452.5h1.15M252.4,465.5h1.15M296.1,463.7h1.15M255.5,460.6h1.15M341.0,459.6h1.15M360.9,473.7h1.15M250.5,462.1h1.15M299.2,469.2h1.15M342.5,476.9h1.15M342.4,469.6h1.15M275.6,462.8h1.15M299.4,467.5h1.15M242.3,465.7h1.15M270.5,463.5h1.15M343.3,468.1h1.15M294.3,468.5h1.15M340.2,475.7h1.15M253.9,452.6h1.15M358.7,484.6h1.15M311.8,451.7h1.15M308.5,467.0h1.15M261.1,465.2h1.15M356.9,471.7h1.15M264.5,456.3h1.15M265.9,453.4h1.15M289.8,457.3h1.15M310.4,470.4h1.15M314.9,462.3h1.15M246.9,466.9h1.15M276.0,455.1h1.15M368.0,485.8h1.15M352.7,474.0h1.15M276.4,461.4h1.15M350.9,478.3h1.15M306.7,459.1h1.15M260.1,459.8h1.15M308.5,463.3h1.15M331.0,471.6h1.15M302.5,464.4h1.15M254.3,451.1h1.15M365.7,482.4h1.15M294.3,464.6h1.15M299.8,465.4h1.15M276.2,440.0h1.15M288.5,465.8h1.15M326.6,473.7h1.15M286.8,460.3h1.15M347.5,479.3h1.15M247.6,436.2h1.15M242.3,465.8h1.15M307.4,466.7h1.15M272.3,463.3h1.15M289.7,466.6h1.15M358.0,480.6h1.15M336.4,473.3h1.15M327.6,452.0h1.15M270.8,438.1h1.15M277.9,455.5h1.15M363.5,483.1h1.15M362.1,483.8h1.15M297.7,446.0h1.15M319.2,472.1h1.15M260.3,458.5h1.15M285.1,467.0h1.15M346.9,478.7h1.15M358.5,483.1h1.15M264.7,460.7h1.15M348.4,461.9h1.15M314.1,469.1h1.15M309.5,468.3h1.15M287.9,467.8h1.15M243.2,445.3h1.15M340.7,476.3h1.15M321.0,472.5h1.15M348.7,474.6h1.15M334.6,470.1h1.15M297.4,454.0h1.15M282.2,466.6h1.15M255.8,442.7h1.15M277.0,466.2h1.15M314.5,470.6h1.15M296.4,455.7h1.15M271.2,461.2h1.15M362.2,470.0h1.15M353.9,485.4h1.15M367.5,483.4h1.15M260.4,464.2h1.15M369.1,491.5h1.15M251.0,460.3h1.15M320.1,464.8h1.15M347.2,481.4h1.15M335.3,472.0h1.15M365.1,480.6h1.15M330.7,473.1h1.15M359.8,484.5h1.15M268.0,461.0h1.15M342.6,476.4h1.15M302.1,461.6h1.15M273.0,465.2h1.15M293.7,457.4h1.15M329.1,472.0h1.15M326.4,457.4h1.15M332.4,472.9h1.15M246.3,456.3h1.15M276.4,454.5h1.15M316.4,463.2h1.15M287.6,457.9h1.15M290.6,463.8h1.15M283.1,455.4h1.15M352.8,482.1h1.15M250.6,463.5h1.15M339.3,473.9h1.15M242.2,454.1h1.15M297.4,468.6h1.15M338.1,470.8h1.15M351.2,468.2h1.15M348.1,463.6h1.15M290.8,453.3h1.15M305.3,460.9h1.15M269.1,457.1h1.15M250.4,448.5h1.15M264.0,458.1h1.15M350.5,468.2h1.15M352.2,479.9h1.15M250.0,463.1h1.15M353.4,480.7h1.15M298.3,462.3h1.15M311.8,457.8h1.15M317.3,470.6h1.15M310.1,470.2h1.15M352.0,483.0h1.15M288.3,459.9h1.15M285.3,447.3h1.15M344.0,477.1h1.15M296.7,457.0h1.15M307.3,461.6h1.15M284.6,459.9h1.15M317.9,451.7h1.15M286.6,453.2h1.15M268.7,462.9h1.15M271.1,442.4h1.15M253.2,462.3h1.15M301.8,458.7h1.15M326.9,472.6h1.15M291.7,456.9h1.15M259.5,464.2h1.15M348.1,482.8h1.15M251.2,464.1h1.15M349.6,479.7h1.15M296.7,462.1h1.15M356.9,486.4h1.15M266.0,461.1h1.15M324.4,472.1h1.15M297.5,461.6h1.15M249.3,462.9h1.15M248.7,445.0h1.15M242.3,469.2h1.15M320.7,470.4h1.15M315.6,468.2h1.15M369.8,485.4h1.15M286.8,465.9h1.15M303.4,456.7h1.15M334.0,463.9h1.15M308.0,446.2h1.15M292.9,461.4h1.15M365.2,475.4h1.15M302.5,455.7h1.15M341.2,475.9h1.15M292.9,455.8h1.15M289.5,464.1h1.15M310.7,470.5h1.15M274.9,464.0h1.15M345.9,481.7h1.15M280.8,460.6h1.15M281.6,441.4h1.15M365.6,486.5h1.15M258.7,442.5h1.15M344.3,474.3h1.15M248.5,466.7h1.15M330.5,464.0h1.15M301.5,466.2h1.15M276.7,462.6h1.15M295.3,460.4h1.15M60.4,436.0h1.15M65.4,460.0h1.15M70.4,462.0h1.15M63.4,457.0h1.15M100.4,450.0h1.15M102.4,455.0h1.15M106.4,459.0h1.15M99.4,446.0h1.15M158.4,447.0h1.15M158.4,450.0h1.15M161.4,455.0h1.15M176.8,423.6h1.15M179.4,452.0h1.15M182.4,455.0h1.15M203.0,441.0h1.15M200.4,447.0h1.15M215.4,448.0h1.15M217.4,452.0h1.15M253.4,399.0h1.15M262.4,397.0h1.15M263.4,403.0h1.15M262.9,412.6h1.15M256.4,420.5h1.15M275.4,408.0h1.15M275.4,417.5h1.15M285.4,385.7h1.15M294.4,422.0h1.15M278.4,427.0h1.15M284.4,429.0h1.15M292.4,429.0h1.15M299.4,430.5h1.15M321.4,393.5h1.15M330.4,407.0h1.15M344.4,405.0h1.15M342.4,421.0h1.15M326.4,424.0h1.15M333.4,426.0h1.15M341.4,427.5h1.15M348.4,427.0h1.15M325.4,433.6h1.15M329.4,440.0h1.15M59.0,435.5h1.15M59.2,446.0h1.15M58.3,457.3h1.15M60.0,453.0h1.15M57.9,452.3h1.15M59.0,450.3h1.15M60.0,452.5h1.15M58.7,450.1h1.15M59.3,455.7h1.15M96.5,431.5h1.15M96.3,434.5h1.15M96.5,437.5h1.15M97.8,456.5h1.15M95.9,450.2h1.15M95.3,449.0h1.15M96.3,444.3h1.15M95.9,447.5h1.15M97.3,441.4h1.15M96.2,445.6h1.15M96.4,445.9h1.15M97.9,453.3h1.15M97.7,450.3h1.15M96.1,446.2h1.15M97.5,445.7h1.15M95.6,442.2h1.15M95.2,453.1h1.15M95.9,441.1h1.15M96.1,447.9h1.15M95.8,444.0h1.15M95.4,444.9h1.15M95.4,448.6h1.15M97.3,443.3h1.15M95.7,455.1h1.15M94.9,449.0h1.15M96.3,440.3h1.15M94.4,456.1h1.15M126.5,398.0h1.15M126.4,414.5h1.15M126.9,427.5h1.15M126.9,432.0h1.15M126.6,437.0h1.15M126.3,446.0h1.15M126.9,450.0h1.15M126.6,456.0h1.15M126.5,464.9h1.15M126.8,460.5h1.15M135.8,331.3h1.15M137.7,331.6h1.15M136.7,336.0h1.15M135.8,353.0h1.15M137.7,353.3h1.15M136.7,357.0h1.15M136.7,362.0h1.15M135.8,366.0h1.15M137.7,366.3h1.15M136.7,371.0h1.15M135.8,378.0h1.15M137.7,378.3h1.15M136.7,382.0h1.15M135.8,386.0h1.15M137.7,386.3h1.15M136.7,389.0h1.15M135.8,393.0h1.15M137.7,393.3h1.15M136.7,397.0h1.15M135.8,400.0h1.15M137.7,400.3h1.15M135.8,404.0h1.15M137.7,404.3h1.15M135.8,408.0h1.15M137.7,408.3h1.15M135.8,411.0h1.15M137.7,411.3h1.15M138.0,419.4h1.15M136.2,422.7h1.15M136.1,414.2h1.15M133.8,447.4h1.15M135.4,419.8h1.15M136.8,414.7h1.15M137.7,425.6h1.15M136.8,448.9h1.15M141.1,461.8h1.15M138.0,429.8h1.15M134.4,449.7h1.15M132.9,454.4h1.15M139.7,448.6h1.15M138.2,447.5h1.15M136.1,447.9h1.15M136.4,419.7h1.15M138.2,430.0h1.15M140.9,459.3h1.15M138.6,431.1h1.15M132.3,460.5h1.15M134.1,442.2h1.15M136.6,418.1h1.15M134.3,450.3h1.15M136.6,430.5h1.15M134.3,442.0h1.15M135.0,422.9h1.15M139.0,430.5h1.15M137.7,423.6h1.15M139.3,447.4h1.15M133.0,455.3h1.15M138.3,431.0h1.15M139.3,447.2h1.15M137.6,415.7h1.15M138.2,434.4h1.15M135.8,444.0h1.15M133.8,441.0h1.15M140.2,462.1h1.15M137.8,447.4h1.15M136.2,451.9h1.15M137.3,426.5h1.15M140.3,464.6h1.15M133.9,455.1h1.15M135.7,430.0h1.15M139.4,443.0h1.15M137.3,445.9h1.15M134.9,436.0h1.15M138.8,427.6h1.15M138.1,460.7h1.15M134.7,449.3h1.15M135.6,415.2h1.15M136.0,414.9h1.15M137.5,464.5h1.15M135.1,425.3h1.15M135.6,414.9h1.15M136.2,421.0h1.15M135.8,422.0h1.15M134.1,446.2h1.15M137.6,421.0h1.15M137.3,428.4h1.15M137.6,428.7h1.15M136.2,414.5h1.15M134.9,458.5h1.15M134.7,446.8h1.15M136.5,419.5h1.15M134.1,437.6h1.15M136.2,441.2h1.15M138.0,432.5h1.15M135.9,459.7h1.15M138.0,429.7h1.15M136.8,453.0h1.15M135.6,445.6h1.15M137.3,451.3h1.15M135.0,458.2h1.15M137.7,417.4h1.15M138.8,444.1h1.15M138.9,452.4h1.15M138.5,432.6h1.15M136.1,445.7h1.15M135.3,422.6h1.15M136.0,425.9h1.15M137.3,431.0h1.15M137.3,463.4h1.15M133.1,448.2h1.15M137.0,449.8h1.15M135.5,454.0h1.15M136.8,447.1h1.15M136.2,454.2h1.15M139.9,456.4h1.15M136.7,441.2h1.15M136.9,450.3h1.15M140.9,463.9h1.15M137.9,439.6h1.15M137.9,419.4h1.15M133.4,445.8h1.15M137.5,414.5h1.15M137.7,454.2h1.15M135.4,434.8h1.15M139.1,438.9h1.15M133.5,446.4h1.15M135.1,424.6h1.15M139.8,458.5h1.15M136.1,461.6h1.15M134.7,430.3h1.15M136.1,427.1h1.15M135.9,434.0h1.15M139.5,451.5h1.15M138.4,433.5h1.15M135.7,429.0h1.15M133.3,455.0h1.15M138.1,417.9h1.15M136.2,438.2h1.15M139.9,453.7h1.15M138.3,433.1h1.15M138.0,420.6h1.15M136.1,435.3h1.15M135.7,414.8h1.15M134.7,434.1h1.15M140.3,448.0h1.15M154.5,430.0h1.15M154.6,434.0h1.15M155.2,437.0h1.15M154.8,447.6h1.15M155.7,450.8h1.15M153.3,457.2h1.15M153.4,452.2h1.15M155.8,450.5h1.15M154.6,449.2h1.15M155.7,456.5h1.15M155.1,457.6h1.15M155.3,445.9h1.15M153.6,449.4h1.15M155.7,442.5h1.15M153.4,452.4h1.15M155.8,454.5h1.15M155.6,440.9h1.15M154.9,443.3h1.15M154.9,453.7h1.15M154.9,446.7h1.15M156.3,452.1h1.15M156.8,457.0h1.15M154.8,455.5h1.15M185.2,425.2h1.15M185.7,436.0h1.15M185.7,440.0h1.15M185.2,445.0h1.15M185.6,449.0h1.15M185.2,453.0h1.15M185.3,455.6h1.15M185.4,464.1h1.15M186.2,463.2h1.15M184.8,463.0h1.15M184.2,464.2h1.15M184.5,460.1h1.15M186.0,458.9h1.15M186.6,463.2h1.15M185.4,460.7h1.15M198.9,399.0h1.15M198.2,401.5h1.15M198.8,405.0h1.15M198.9,414.0h1.15M198.7,420.0h1.15M198.7,422.0h1.15M199.0,426.0h1.15M198.3,432.0h1.15M198.3,435.0h1.15M198.6,440.0h1.15M198.8,456.9h1.15M198.4,452.3h1.15M199.8,451.8h1.15M198.9,444.3h1.15M199.2,444.8h1.15M199.3,448.0h1.15M199.0,449.1h1.15M200.2,452.8h1.15M198.7,452.1h1.15M197.8,452.6h1.15M197.8,461.0h1.15M198.0,445.9h1.15M200.3,456.8h1.15M200.3,454.4h1.15M199.5,447.3h1.15M197.4,457.7h1.15M198.5,444.8h1.15M198.6,451.0h1.15M197.5,456.8h1.15M198.2,447.9h1.15M198.5,446.1h1.15M197.8,454.5h1.15M199.1,445.6h1.15M199.2,444.7h1.15M230.9,420.5h1.15M230.5,438.0h1.15M230.7,442.0h1.15M230.6,450.2h1.15M231.5,449.8h1.15M230.2,450.3h1.15M229.9,452.6h1.15M230.5,448.0h1.15M230.2,454.4h1.15M230.2,449.5h1.15M230.1,452.4h1.15" stroke="#696969" stroke-width="2.0" stroke-linecap="round" fill="none"/>
<path d="M81.4,466.2h1.15M79.1,469.3h1.15M79.0,469.3h1.15M83.7,470.0h1.15M80.0,462.1h1.15M74.3,467.3h1.15M86.0,470.1h1.15M77.5,461.1h1.15M77.8,471.0h1.15M81.0,464.1h1.15M75.5,470.2h1.15M79.3,459.9h1.15M81.1,459.0h1.15M76.6,469.8h1.15M84.6,457.4h1.15M81.3,470.7h1.15M75.8,467.6h1.15M77.0,461.1h1.15M87.7,471.5h1.15M78.4,461.0h1.15M84.4,461.0h1.15M79.5,471.5h1.15M78.6,461.4h1.15M78.3,469.5h1.15M80.7,468.7h1.15M80.6,454.8h1.15M76.4,472.7h1.15M89.4,458.4h1.15M90.1,469.3h1.15M89.5,454.9h1.15M77.5,462.9h1.15M87.6,465.3h1.15M82.4,470.1h1.15M79.5,470.7h1.15M74.9,466.8h1.15M78.6,460.9h1.15M74.6,456.7h1.15M85.3,454.6h1.15M88.6,457.0h1.15M83.3,472.4h1.15M86.1,471.4h1.15M78.8,464.9h1.15M82.5,468.8h1.15M89.3,466.6h1.15M79.5,470.5h1.15M88.0,468.5h1.15M86.7,469.8h1.15M77.1,467.2h1.15M87.3,471.6h1.15M86.9,455.0h1.15M87.1,460.7h1.15M73.9,466.3h1.15M88.1,472.7h1.15M78.3,470.3h1.15M82.5,468.7h1.15M81.6,462.0h1.15M73.9,472.9h1.15M75.9,471.9h1.15M75.0,447.3h1.15M110.2,471.0h1.15M115.2,470.1h1.15M114.9,468.8h1.15M120.6,469.5h1.15M123.6,466.7h1.15M118.2,463.0h1.15M121.4,458.7h1.15M117.6,465.2h1.15M119.9,454.7h1.15M115.4,462.0h1.15M123.2,466.7h1.15M113.1,470.4h1.15M119.8,460.2h1.15M123.2,457.7h1.15M113.3,470.7h1.15M113.5,470.6h1.15M119.7,453.7h1.15M122.3,468.9h1.15M121.9,468.2h1.15M115.8,462.0h1.15M111.1,473.6h1.15M121.4,468.3h1.15M114.8,465.5h1.15M119.2,465.7h1.15M114.5,467.6h1.15M116.6,469.2h1.15M118.0,446.4h1.15M115.3,465.8h1.15M111.6,471.4h1.15M119.1,464.4h1.15M122.2,454.1h1.15M111.3,454.3h1.15M115.1,461.1h1.15M120.4,467.9h1.15M119.3,458.4h1.15M121.0,468.5h1.15M120.3,447.4h1.15M119.2,460.3h1.15M111.5,469.0h1.15M114.8,462.7h1.15M119.3,460.1h1.15M112.4,465.2h1.15M118.6,464.3h1.15M122.2,463.4h1.15M111.6,454.8h1.15M111.9,470.4h1.15M119.9,461.9h1.15M117.6,462.6h1.15M116.2,468.4h1.15M112.4,472.1h1.15M119.8,458.2h1.15M144.8,473.3h1.15M150.1,467.8h1.15M144.5,471.3h1.15M146.2,468.9h1.15M142.9,474.5h1.15M142.8,463.8h1.15M142.1,470.2h1.15M142.6,472.9h1.15M142.4,470.9h1.15M142.3,474.3h1.15M141.7,473.2h1.15M145.8,474.6h1.15M140.8,470.3h1.15M144.9,466.2h1.15M141.1,470.9h1.15M144.8,474.4h1.15M150.9,475.3h1.15M141.5,470.0h1.15M142.3,467.7h1.15M144.2,473.6h1.15M141.1,465.4h1.15M143.5,463.6h1.15M145.5,456.0h1.15M143.7,472.5h1.15M143.4,462.7h1.15M147.3,472.7h1.15M141.5,466.5h1.15M150.9,470.7h1.15M140.6,474.3h1.15M141.5,473.2h1.15M140.9,474.1h1.15M147.5,459.6h1.15M142.7,449.0h1.15M145.6,463.6h1.15M150.3,457.1h1.15M140.9,472.0h1.15M147.0,455.0h1.15M141.5,472.1h1.15M149.6,475.7h1.15M144.7,471.8h1.15M147.8,457.4h1.15M142.4,465.1h1.15M148.4,463.4h1.15M146.4,457.3h1.15M144.4,470.8h1.15M143.0,463.9h1.15M145.7,472.8h1.15M142.3,465.6h1.15M147.0,466.9h1.15M144.7,469.9h1.15M142.2,465.8h1.15M140.8,470.1h1.15M148.6,468.3h1.15M141.6,472.6h1.15M149.6,469.3h1.15M149.9,462.3h1.15M145.3,459.0h1.15M148.4,473.2h1.15M144.5,474.0h1.15M144.8,452.8h1.15M141.6,468.6h1.15M141.7,473.9h1.15M147.5,473.8h1.15M141.0,473.3h1.15M147.4,469.5h1.15M140.6,472.7h1.15M150.9,475.3h1.15M146.5,471.5h1.15M148.9,469.8h1.15M149.0,471.0h1.15M142.5,473.1h1.15M141.4,462.3h1.15M141.7,474.3h1.15M150.9,475.4h1.15M150.1,476.1h1.15M145.5,473.2h1.15M149.4,469.8h1.15M147.4,465.7h1.15M149.9,473.7h1.15M147.0,471.4h1.15M141.7,461.9h1.15M146.9,463.7h1.15M142.7,469.1h1.15M174.1,470.7h1.15M166.8,472.4h1.15M169.1,469.6h1.15M165.6,467.0h1.15M166.0,469.9h1.15M167.4,461.2h1.15M169.0,470.4h1.15M165.5,468.6h1.15M170.9,464.1h1.15M173.5,459.6h1.15M167.4,471.5h1.15M172.1,460.7h1.15M169.8,459.9h1.15M170.2,469.9h1.15M166.7,472.4h1.15M171.0,456.1h1.15M173.5,466.7h1.15M171.2,453.4h1.15M172.6,465.0h1.15M168.9,467.4h1.15M166.7,471.1h1.15M171.4,466.3h1.15M168.9,469.5h1.15M169.3,461.1h1.15M169.3,450.1h1.15M166.6,469.9h1.15M169.9,468.6h1.15M173.0,459.0h1.15M173.7,464.4h1.15M165.4,466.5h1.15M170.2,467.6h1.15M167.7,463.8h1.15M173.5,470.4h1.15M171.3,468.6h1.15M169.9,456.5h1.15M174.0,463.8h1.15M166.9,454.8h1.15M166.8,469.1h1.15M172.7,468.7h1.15M167.6,451.5h1.15M173.8,468.4h1.15M168.7,470.2h1.15M166.3,470.5h1.15M174.1,470.3h1.15M167.2,470.9h1.15M165.9,467.3h1.15M172.0,458.9h1.15M170.9,460.1h1.15M165.2,470.2h1.15M174.0,470.5h1.15M167.6,467.9h1.15M167.6,467.0h1.15M165.6,470.6h1.15M173.9,469.9h1.15M173.5,469.8h1.15M174.3,463.0h1.15M171.1,470.9h1.15M165.6,462.5h1.15M166.7,471.0h1.15M172.7,456.9h1.15M165.6,449.8h1.15M170.0,468.9h1.15M166.1,469.0h1.15M174.2,468.6h1.15M166.3,471.4h1.15M166.3,469.5h1.15M173.5,470.6h1.15M166.9,452.9h1.15M174.3,443.5h1.15M167.4,469.4h1.15M173.9,466.4h1.15M171.6,469.1h1.15M165.3,469.5h1.15M172.0,461.0h1.15M190.1,453.6h1.15M192.2,464.4h1.15M189.1,463.0h1.15M189.8,464.5h1.15M191.7,452.9h1.15M191.2,466.4h1.15M188.5,464.8h1.15M191.4,466.4h1.15M187.4,465.5h1.15M188.9,467.7h1.15M190.9,449.8h1.15M190.8,458.2h1.15M193.0,454.8h1.15M193.7,463.4h1.15M191.9,466.6h1.15M193.4,464.2h1.15M190.4,452.2h1.15M189.0,466.5h1.15M193.0,461.1h1.15M187.5,468.0h1.15M189.5,467.8h1.15M193.1,466.1h1.15M188.9,464.5h1.15M190.7,463.7h1.15M191.5,460.0h1.15M190.1,467.0h1.15M194.2,459.3h1.15M187.5,464.1h1.15M192.5,467.0h1.15M186.9,463.7h1.15M190.0,452.0h1.15M206.7,470.7h1.15M206.0,467.4h1.15M208.1,469.5h1.15M209.0,469.8h1.15M208.8,464.9h1.15M205.7,461.8h1.15M207.1,466.1h1.15M208.3,464.6h1.15M207.4,471.1h1.15M209.5,457.8h1.15M207.7,465.4h1.15M206.3,455.5h1.15M208.9,469.7h1.15M209.7,468.5h1.15M210.8,466.9h1.15M205.7,462.7h1.15M206.7,462.3h1.15M208.2,470.7h1.15M207.9,458.2h1.15M207.6,466.1h1.15M210.0,467.4h1.15M207.7,465.4h1.15M209.7,469.9h1.15M205.2,461.5h1.15M208.1,469.0h1.15M210.2,456.4h1.15M221.0,452.0h1.15M224.4,458.7h1.15M222.9,434.8h1.15M222.2,450.4h1.15M221.4,452.8h1.15M221.9,455.5h1.15M222.5,446.2h1.15M224.4,455.6h1.15M224.1,456.6h1.15M224.7,458.4h1.15M223.4,454.3h1.15M222.5,460.2h1.15M221.4,453.3h1.15M221.6,450.6h1.15M223.2,439.1h1.15M224.9,451.4h1.15M222.5,460.2h1.15M223.4,450.9h1.15M225.3,458.9h1.15M221.3,432.9h1.15M224.4,455.9h1.15M224.4,459.4h1.15M223.4,452.8h1.15M235.3,463.6h1.15M235.5,459.5h1.15M237.0,461.9h1.15M237.5,464.3h1.15M236.2,466.9h1.15M234.7,458.4h1.15M236.5,468.8h1.15M238.3,463.4h1.15M237.0,465.5h1.15M235.0,468.2h1.15M236.0,468.6h1.15M236.5,464.9h1.15M235.5,451.4h1.15M236.2,469.4h1.15M236.4,469.5h1.15M237.4,455.3h1.15M238.2,469.2h1.15M237.3,467.0h1.15M236.4,467.0h1.15M235.7,468.5h1.15M74.6,424.5h1.15M74.8,450.0h1.15M74.8,455.0h1.15M79.4,457.0h1.15M82.4,452.0h1.15M84.4,448.0h1.15M85.4,453.0h1.15M87.4,442.0h1.15M88.4,449.0h1.15M83.4,460.0h1.15M76.4,462.0h1.15M86.9,447.0h1.15M89.4,455.0h1.15M77.9,452.0h1.15M112.4,461.0h1.15M121.4,458.0h1.15M110.4,466.0h1.15M123.4,462.0h1.15M143.4,447.0h1.15M146.4,452.0h1.15M141.4,455.0h1.15M140.8,444.5h1.15M146.2,454.0h1.15M148.4,450.0h1.15M167.4,449.0h1.15M172.4,452.0h1.15M169.4,455.0h1.15M176.0,441.0h1.15M176.0,447.0h1.15M176.0,453.0h1.15M211.4,445.0h1.15M210.4,452.0h1.15M206.4,456.0h1.15M208.4,449.0h1.15M224.4,449.0h1.15M118.6,421.8h1.15M118.9,441.0h1.15M118.2,444.0h1.15M118.1,457.7h1.15M119.5,460.7h1.15M119.4,463.1h1.15M118.8,448.6h1.15M118.2,457.2h1.15M118.6,450.7h1.15M118.4,454.7h1.15M117.8,464.3h1.15M117.6,462.6h1.15M118.5,459.6h1.15M118.6,454.2h1.15M118.2,449.4h1.15M118.0,454.5h1.15M119.1,462.4h1.15M119.1,458.5h1.15M117.9,450.0h1.15M119.1,448.4h1.15M119.6,455.9h1.15M118.4,452.9h1.15M119.5,458.8h1.15M118.6,454.8h1.15M152.7,425.8h1.15M153.0,430.0h1.15M152.9,434.0h1.15M152.9,437.5h1.15M153.0,441.0h1.15M152.8,444.0h1.15M150.7,471.8h1.15M153.0,467.3h1.15M152.2,452.5h1.15M153.8,475.4h1.15M152.8,461.7h1.15M153.7,472.4h1.15M153.9,453.3h1.15M154.6,472.4h1.15M153.8,468.1h1.15M154.3,456.4h1.15M151.0,468.2h1.15M152.4,471.2h1.15M153.4,448.4h1.15M152.6,453.4h1.15M152.9,449.4h1.15M154.3,462.9h1.15M155.5,475.6h1.15M152.3,466.9h1.15M150.9,475.1h1.15M153.0,456.1h1.15M153.1,457.7h1.15M152.3,450.1h1.15M152.7,447.1h1.15M153.7,453.8h1.15M152.0,454.3h1.15M151.1,468.4h1.15M153.0,472.1h1.15M153.2,450.9h1.15M151.4,476.9h1.15M153.0,463.4h1.15M156.2,475.5h1.15M152.6,448.4h1.15M152.3,471.1h1.15M153.1,462.0h1.15M191.3,436.7h1.15M191.5,446.0h1.15M191.9,452.0h1.15M192.2,459.1h1.15M192.1,458.6h1.15M192.3,457.3h1.15M190.9,456.4h1.15M192.2,461.9h1.15M191.3,463.5h1.15M190.8,463.6h1.15M191.1,458.9h1.15M190.8,457.7h1.15M191.6,457.6h1.15M191.1,462.3h1.15M191.1,462.3h1.15M224.2,441.5h1.15M223.9,446.0h1.15M224.5,450.1h1.15M224.4,450.2h1.15M224.6,455.3h1.15M224.5,452.0h1.15M224.3,452.6h1.15M224.4,459.6h1.15M223.7,451.6h1.15M224.8,454.1h1.15" stroke="#000083" stroke-width="2.0" stroke-linecap="round" fill="none"/>
<line x1="46.9" y1="364.2" x2="380.6" y2="364.2" stroke="#e36262" stroke-width="1.1"/>
<line x1="46.9" y1="424.7" x2="380.6" y2="424.7" stroke="#7070d8" stroke-width="1.1" stroke-opacity="0.85"/>
<text x="64.2" y="523.1" font-size="6.6" fill="#666" text-anchor="middle" dominant-baseline="central">1</text>
<text x="84.3" y="532.6" font-size="6.6" fill="#1a1a1a" text-anchor="middle" dominant-baseline="central">2</text>
<text x="101.2" y="523.1" font-size="6.6" fill="#666" text-anchor="middle" dominant-baseline="central">3</text>
<text x="119.8" y="532.6" font-size="6.6" fill="#1a1a1a" text-anchor="middle" dominant-baseline="central">4</text>
<text x="135" y="523.1" font-size="6.6" fill="#666" text-anchor="middle" dominant-baseline="central">5</text>
<text x="148" y="532.6" font-size="6.6" fill="#1a1a1a" text-anchor="middle" dominant-baseline="central">6</text>
<text x="160.9" y="523.1" font-size="6.6" fill="#666" text-anchor="middle" dominant-baseline="central">7</text>
<text x="171.8" y="532.6" font-size="6.6" fill="#1a1a1a" text-anchor="middle" dominant-baseline="central">8</text>
<text x="183.8" y="523.1" font-size="6.6" fill="#666" text-anchor="middle" dominant-baseline="central">9</text>
<text x="193.3" y="532.6" font-size="6.6" fill="#1a1a1a" text-anchor="middle" dominant-baseline="central">10</text>
<text x="201.5" y="523.1" font-size="6.6" fill="#666" text-anchor="middle" dominant-baseline="central">11</text>
<text x="212.9" y="532.6" font-size="6.6" fill="#1a1a1a" text-anchor="middle" dominant-baseline="central">12</text>
<text x="217.7" y="523.1" font-size="6.6" fill="#666" text-anchor="middle" dominant-baseline="central">13</text>
<text x="227.4" y="532.6" font-size="6.6" fill="#1a1a1a" text-anchor="middle" dominant-baseline="central">14</text>
<text x="234" y="523.1" font-size="6.6" fill="#666" text-anchor="middle" dominant-baseline="central">15</text>
<text x="240.8" y="532.6" font-size="6.6" fill="#1a1a1a" text-anchor="middle" dominant-baseline="central">16</text>
<text x="278.6" y="522.5" font-size="7.0" fill="#444" text-anchor="middle" dominant-baseline="central" font-style="italic" textLength="34.5" lengthAdjust="spacingAndGlyphs">unmapped</text>
<text x="214.2" y="544.4" font-size="8.8" fill="#000" text-anchor="middle" dominant-baseline="central" font-weight="bold" font-style="italic" textLength="52.7" lengthAdjust="spacingAndGlyphs">Chromosome</text>
</svg></body></html>
